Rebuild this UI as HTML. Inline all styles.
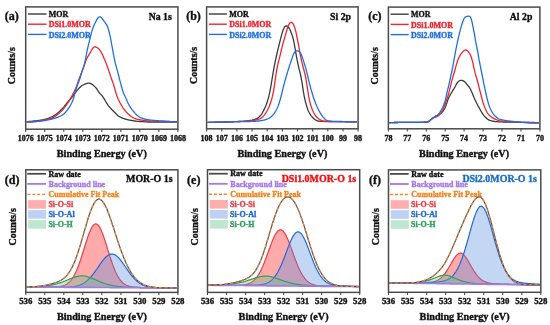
<!DOCTYPE html><html><head><meta charset="utf-8"><style>html,body{margin:0;padding:0;background:#fff;width:550px;height:325px;overflow:hidden}svg{display:block;will-change:transform}</style></head><body>
<svg width="550" height="325" viewBox="0 0 550 325" font-family='"Liberation Serif", serif' font-weight="bold">
<rect width="550" height="325" fill="#fff"/>
<style>text{stroke-width:0.36px}</style>
<line x1="25.7" y1="129.2" x2="25.7" y2="131.9" stroke="#4a4a4a" stroke-width="1.1"/>
<text x="25.7" y="140.7" font-size="8" fill="#111" stroke="#111" text-anchor="middle">1076</text>
<line x1="44.7" y1="129.2" x2="44.7" y2="131.9" stroke="#4a4a4a" stroke-width="1.1"/>
<text x="44.7" y="140.7" font-size="8" fill="#111" stroke="#111" text-anchor="middle">1075</text>
<line x1="63.8" y1="129.2" x2="63.8" y2="131.9" stroke="#4a4a4a" stroke-width="1.1"/>
<text x="63.8" y="140.7" font-size="8" fill="#111" stroke="#111" text-anchor="middle">1074</text>
<line x1="82.8" y1="129.2" x2="82.8" y2="131.9" stroke="#4a4a4a" stroke-width="1.1"/>
<text x="82.8" y="140.7" font-size="8" fill="#111" stroke="#111" text-anchor="middle">1073</text>
<line x1="101.8" y1="129.2" x2="101.8" y2="131.9" stroke="#4a4a4a" stroke-width="1.1"/>
<text x="101.8" y="140.7" font-size="8" fill="#111" stroke="#111" text-anchor="middle">1072</text>
<line x1="120.8" y1="129.2" x2="120.8" y2="131.9" stroke="#4a4a4a" stroke-width="1.1"/>
<text x="120.8" y="140.7" font-size="8" fill="#111" stroke="#111" text-anchor="middle">1071</text>
<line x1="139.8" y1="129.2" x2="139.8" y2="131.9" stroke="#4a4a4a" stroke-width="1.1"/>
<text x="139.8" y="140.7" font-size="8" fill="#111" stroke="#111" text-anchor="middle">1070</text>
<line x1="158.9" y1="129.2" x2="158.9" y2="131.9" stroke="#4a4a4a" stroke-width="1.1"/>
<text x="158.9" y="140.7" font-size="8" fill="#111" stroke="#111" text-anchor="middle">1069</text>
<line x1="177.9" y1="129.2" x2="177.9" y2="131.9" stroke="#4a4a4a" stroke-width="1.1"/>
<text x="177.9" y="140.7" font-size="8" fill="#111" stroke="#111" text-anchor="middle">1068</text>
<text x="101.8" y="156.8" font-size="10.2" fill="#111" stroke="#111" text-anchor="middle">Binding Energy (eV)</text>
<line x1="27.9" y1="14" x2="46.5" y2="14" stroke="#3a3a3a" stroke-width="1.4"/>
<text x="48.8" y="17.1" font-size="8" fill="#111" stroke="#111" text-anchor="start">MOR</text>
<line x1="27.9" y1="24.2" x2="46.5" y2="24.2" stroke="#ee2530" stroke-width="1.4"/>
<text x="48.8" y="27.3" font-size="8" fill="#ee2530" stroke="#ee2530" text-anchor="start">DSi1.0MOR</text>
<line x1="27.9" y1="34.4" x2="46.5" y2="34.4" stroke="#1f6fe6" stroke-width="1.4"/>
<text x="48.8" y="37.5" font-size="8" fill="#1f6fe6" stroke="#1f6fe6" text-anchor="start">DSi2.0MOR</text>
<line x1="206.6" y1="128.8" x2="206.6" y2="131.5" stroke="#4a4a4a" stroke-width="1.1"/>
<text x="206.6" y="140.7" font-size="8" fill="#111" stroke="#111" text-anchor="middle">108</text>
<line x1="221.8" y1="128.8" x2="221.8" y2="131.5" stroke="#4a4a4a" stroke-width="1.1"/>
<text x="221.8" y="140.7" font-size="8" fill="#111" stroke="#111" text-anchor="middle">107</text>
<line x1="236.9" y1="128.8" x2="236.9" y2="131.5" stroke="#4a4a4a" stroke-width="1.1"/>
<text x="236.9" y="140.7" font-size="8" fill="#111" stroke="#111" text-anchor="middle">106</text>
<line x1="252.1" y1="128.8" x2="252.1" y2="131.5" stroke="#4a4a4a" stroke-width="1.1"/>
<text x="252.1" y="140.7" font-size="8" fill="#111" stroke="#111" text-anchor="middle">105</text>
<line x1="267.2" y1="128.8" x2="267.2" y2="131.5" stroke="#4a4a4a" stroke-width="1.1"/>
<text x="267.2" y="140.7" font-size="8" fill="#111" stroke="#111" text-anchor="middle">104</text>
<line x1="282.4" y1="128.8" x2="282.4" y2="131.5" stroke="#4a4a4a" stroke-width="1.1"/>
<text x="282.4" y="140.7" font-size="8" fill="#111" stroke="#111" text-anchor="middle">103</text>
<line x1="297.5" y1="128.8" x2="297.5" y2="131.5" stroke="#4a4a4a" stroke-width="1.1"/>
<text x="297.5" y="140.7" font-size="8" fill="#111" stroke="#111" text-anchor="middle">102</text>
<line x1="312.7" y1="128.8" x2="312.7" y2="131.5" stroke="#4a4a4a" stroke-width="1.1"/>
<text x="312.7" y="140.7" font-size="8" fill="#111" stroke="#111" text-anchor="middle">101</text>
<line x1="327.8" y1="128.8" x2="327.8" y2="131.5" stroke="#4a4a4a" stroke-width="1.1"/>
<text x="327.8" y="140.7" font-size="8" fill="#111" stroke="#111" text-anchor="middle">100</text>
<line x1="343" y1="128.8" x2="343" y2="131.5" stroke="#4a4a4a" stroke-width="1.1"/>
<text x="343" y="140.7" font-size="8" fill="#111" stroke="#111" text-anchor="middle">99</text>
<line x1="358.1" y1="128.8" x2="358.1" y2="131.5" stroke="#4a4a4a" stroke-width="1.1"/>
<text x="358.1" y="140.7" font-size="8" fill="#111" stroke="#111" text-anchor="middle">98</text>
<text x="282.4" y="156.8" font-size="10.2" fill="#111" stroke="#111" text-anchor="middle">Binding Energy (eV)</text>
<line x1="208.8" y1="14" x2="226.9" y2="14" stroke="#3a3a3a" stroke-width="1.4"/>
<text x="229.2" y="17.1" font-size="8" fill="#111" stroke="#111" text-anchor="start">MOR</text>
<line x1="208.8" y1="24.2" x2="226.9" y2="24.2" stroke="#ee2530" stroke-width="1.4"/>
<text x="229.2" y="27.3" font-size="8" fill="#ee2530" stroke="#ee2530" text-anchor="start">DSi1.0MOR</text>
<line x1="208.8" y1="34.4" x2="226.9" y2="34.4" stroke="#1f6fe6" stroke-width="1.4"/>
<text x="229.2" y="37.5" font-size="8" fill="#1f6fe6" stroke="#1f6fe6" text-anchor="start">DSi2.0MOR</text>
<line x1="388.4" y1="128.8" x2="388.4" y2="131.5" stroke="#4a4a4a" stroke-width="1.1"/>
<text x="388.4" y="140.7" font-size="8" fill="#111" stroke="#111" text-anchor="middle">78</text>
<line x1="407.3" y1="128.8" x2="407.3" y2="131.5" stroke="#4a4a4a" stroke-width="1.1"/>
<text x="407.3" y="140.7" font-size="8" fill="#111" stroke="#111" text-anchor="middle">77</text>
<line x1="426.3" y1="128.8" x2="426.3" y2="131.5" stroke="#4a4a4a" stroke-width="1.1"/>
<text x="426.3" y="140.7" font-size="8" fill="#111" stroke="#111" text-anchor="middle">76</text>
<line x1="445.2" y1="128.8" x2="445.2" y2="131.5" stroke="#4a4a4a" stroke-width="1.1"/>
<text x="445.2" y="140.7" font-size="8" fill="#111" stroke="#111" text-anchor="middle">75</text>
<line x1="464.1" y1="128.8" x2="464.1" y2="131.5" stroke="#4a4a4a" stroke-width="1.1"/>
<text x="464.1" y="140.7" font-size="8" fill="#111" stroke="#111" text-anchor="middle">74</text>
<line x1="483.1" y1="128.8" x2="483.1" y2="131.5" stroke="#4a4a4a" stroke-width="1.1"/>
<text x="483.1" y="140.7" font-size="8" fill="#111" stroke="#111" text-anchor="middle">73</text>
<line x1="502" y1="128.8" x2="502" y2="131.5" stroke="#4a4a4a" stroke-width="1.1"/>
<text x="502" y="140.7" font-size="8" fill="#111" stroke="#111" text-anchor="middle">72</text>
<line x1="521" y1="128.8" x2="521" y2="131.5" stroke="#4a4a4a" stroke-width="1.1"/>
<text x="521" y="140.7" font-size="8" fill="#111" stroke="#111" text-anchor="middle">71</text>
<line x1="539.9" y1="128.8" x2="539.9" y2="131.5" stroke="#4a4a4a" stroke-width="1.1"/>
<text x="539.9" y="140.7" font-size="8" fill="#111" stroke="#111" text-anchor="middle">70</text>
<text x="464.1" y="156.8" font-size="10.2" fill="#111" stroke="#111" text-anchor="middle">Binding Energy (eV)</text>
<line x1="390.6" y1="14.2" x2="408.7" y2="14.2" stroke="#3a3a3a" stroke-width="1.4"/>
<text x="411" y="17.3" font-size="8" fill="#111" stroke="#111" text-anchor="start">MOR</text>
<line x1="390.6" y1="24.4" x2="408.7" y2="24.4" stroke="#ee2530" stroke-width="1.4"/>
<text x="411" y="27.5" font-size="8" fill="#ee2530" stroke="#ee2530" text-anchor="start">DSi1.0MOR</text>
<line x1="390.6" y1="34.6" x2="408.7" y2="34.6" stroke="#1f6fe6" stroke-width="1.4"/>
<text x="411" y="37.7" font-size="8" fill="#1f6fe6" stroke="#1f6fe6" text-anchor="start">DSi2.0MOR</text>
<line x1="25.8" y1="292.4" x2="25.8" y2="295.1" stroke="#4a4a4a" stroke-width="1.1"/>
<text x="25.8" y="303.8" font-size="8.8" fill="#111" stroke="#111" text-anchor="middle">536</text>
<line x1="44.8" y1="292.4" x2="44.8" y2="295.1" stroke="#4a4a4a" stroke-width="1.1"/>
<text x="44.8" y="303.8" font-size="8.8" fill="#111" stroke="#111" text-anchor="middle">535</text>
<line x1="63.8" y1="292.4" x2="63.8" y2="295.1" stroke="#4a4a4a" stroke-width="1.1"/>
<text x="63.8" y="303.8" font-size="8.8" fill="#111" stroke="#111" text-anchor="middle">534</text>
<line x1="82.8" y1="292.4" x2="82.8" y2="295.1" stroke="#4a4a4a" stroke-width="1.1"/>
<text x="82.8" y="303.8" font-size="8.8" fill="#111" stroke="#111" text-anchor="middle">533</text>
<line x1="101.8" y1="292.4" x2="101.8" y2="295.1" stroke="#4a4a4a" stroke-width="1.1"/>
<text x="101.8" y="303.8" font-size="8.8" fill="#111" stroke="#111" text-anchor="middle">532</text>
<line x1="120.9" y1="292.4" x2="120.9" y2="295.1" stroke="#4a4a4a" stroke-width="1.1"/>
<text x="120.9" y="303.8" font-size="8.8" fill="#111" stroke="#111" text-anchor="middle">531</text>
<line x1="139.9" y1="292.4" x2="139.9" y2="295.1" stroke="#4a4a4a" stroke-width="1.1"/>
<text x="139.9" y="303.8" font-size="8.8" fill="#111" stroke="#111" text-anchor="middle">530</text>
<line x1="158.9" y1="292.4" x2="158.9" y2="295.1" stroke="#4a4a4a" stroke-width="1.1"/>
<text x="158.9" y="303.8" font-size="8.8" fill="#111" stroke="#111" text-anchor="middle">529</text>
<line x1="177.9" y1="292.4" x2="177.9" y2="295.1" stroke="#4a4a4a" stroke-width="1.1"/>
<text x="177.9" y="303.8" font-size="8.8" fill="#111" stroke="#111" text-anchor="middle">528</text>
<text x="101.9" y="319.8" font-size="10.2" fill="#111" stroke="#111" text-anchor="middle">Binding Energy (eV)</text>
<line x1="27.3" y1="173.8" x2="46" y2="173.8" stroke="#4a4a4a" stroke-width="1.8"/>
<text x="48.6" y="176.5" font-size="8" fill="#111" stroke="#111" text-anchor="start">Raw date</text>
<line x1="27.3" y1="183.9" x2="46" y2="183.9" stroke="#a678e8" stroke-width="1.8"/>
<text x="48.6" y="186.6" font-size="8" fill="#a678e8" stroke="#a678e8" text-anchor="start">Background line</text>
<line x1="27.4" y1="194.4" x2="46" y2="194.4" stroke="#f2841e" stroke-width="1.4" stroke-dasharray="3 1.9"/>
<text x="48.6" y="196.7" font-size="8" fill="#f2841e" stroke="#f2841e" text-anchor="start">Cumulative Fit Peak</text>
<rect x="28.1" y="200.1" width="18" height="8.6" fill="#ffadad"/>
<text x="48.4" y="207.1" font-size="8" fill="#ee3b44" stroke="#ee3b44" text-anchor="start">Si-O-Si</text>
<rect x="28.1" y="210.1" width="18" height="8.6" fill="#bcd1f4"/>
<text x="48.4" y="217.2" font-size="8" fill="#1f6ad8" stroke="#1f6ad8" text-anchor="start">Si-O-Al</text>
<rect x="28.1" y="220.1" width="18" height="8.6" fill="#bfe6cf"/>
<text x="48.4" y="227.2" font-size="8" fill="#2fa35e" stroke="#2fa35e" text-anchor="start">Si-O-H</text>
<line x1="207.5" y1="292.4" x2="207.5" y2="295.1" stroke="#4a4a4a" stroke-width="1.1"/>
<text x="207.5" y="303.8" font-size="8.8" fill="#111" stroke="#111" text-anchor="middle">536</text>
<line x1="226.5" y1="292.4" x2="226.5" y2="295.1" stroke="#4a4a4a" stroke-width="1.1"/>
<text x="226.5" y="303.8" font-size="8.8" fill="#111" stroke="#111" text-anchor="middle">535</text>
<line x1="245.6" y1="292.4" x2="245.6" y2="295.1" stroke="#4a4a4a" stroke-width="1.1"/>
<text x="245.6" y="303.8" font-size="8.8" fill="#111" stroke="#111" text-anchor="middle">534</text>
<line x1="264.6" y1="292.4" x2="264.6" y2="295.1" stroke="#4a4a4a" stroke-width="1.1"/>
<text x="264.6" y="303.8" font-size="8.8" fill="#111" stroke="#111" text-anchor="middle">533</text>
<line x1="283.6" y1="292.4" x2="283.6" y2="295.1" stroke="#4a4a4a" stroke-width="1.1"/>
<text x="283.6" y="303.8" font-size="8.8" fill="#111" stroke="#111" text-anchor="middle">532</text>
<line x1="302.6" y1="292.4" x2="302.6" y2="295.1" stroke="#4a4a4a" stroke-width="1.1"/>
<text x="302.6" y="303.8" font-size="8.8" fill="#111" stroke="#111" text-anchor="middle">531</text>
<line x1="321.6" y1="292.4" x2="321.6" y2="295.1" stroke="#4a4a4a" stroke-width="1.1"/>
<text x="321.6" y="303.8" font-size="8.8" fill="#111" stroke="#111" text-anchor="middle">530</text>
<line x1="340.7" y1="292.4" x2="340.7" y2="295.1" stroke="#4a4a4a" stroke-width="1.1"/>
<text x="340.7" y="303.8" font-size="8.8" fill="#111" stroke="#111" text-anchor="middle">529</text>
<line x1="359.7" y1="292.4" x2="359.7" y2="295.1" stroke="#4a4a4a" stroke-width="1.1"/>
<text x="359.7" y="303.8" font-size="8.8" fill="#111" stroke="#111" text-anchor="middle">528</text>
<text x="283.6" y="319.8" font-size="10.2" fill="#111" stroke="#111" text-anchor="middle">Binding Energy (eV)</text>
<line x1="209" y1="173.7" x2="227.7" y2="173.7" stroke="#4a4a4a" stroke-width="1.8"/>
<text x="230.3" y="176.4" font-size="8" fill="#111" stroke="#111" text-anchor="start">Raw date</text>
<line x1="209" y1="183.8" x2="227.7" y2="183.8" stroke="#a678e8" stroke-width="1.8"/>
<text x="230.3" y="186.5" font-size="8" fill="#a678e8" stroke="#a678e8" text-anchor="start">Background line</text>
<line x1="209.1" y1="194.3" x2="227.7" y2="194.3" stroke="#f2841e" stroke-width="1.4" stroke-dasharray="3 1.9"/>
<text x="230.3" y="196.6" font-size="8" fill="#f2841e" stroke="#f2841e" text-anchor="start">Cumulative Fit Peak</text>
<rect x="209.8" y="200" width="18" height="8.6" fill="#ffadad"/>
<text x="230.1" y="207" font-size="8" fill="#ee3b44" stroke="#ee3b44" text-anchor="start">Si-O-Si</text>
<rect x="209.8" y="210" width="18" height="8.6" fill="#bcd1f4"/>
<text x="230.1" y="217.1" font-size="8" fill="#1f6ad8" stroke="#1f6ad8" text-anchor="start">Si-O-Al</text>
<rect x="209.8" y="220" width="18" height="8.6" fill="#bfe6cf"/>
<text x="230.1" y="227.1" font-size="8" fill="#2fa35e" stroke="#2fa35e" text-anchor="start">Si-O-H</text>
<line x1="388.5" y1="292.3" x2="388.5" y2="295" stroke="#4a4a4a" stroke-width="1.1"/>
<text x="388.5" y="303.8" font-size="8.8" fill="#111" stroke="#111" text-anchor="middle">536</text>
<line x1="407.5" y1="292.3" x2="407.5" y2="295" stroke="#4a4a4a" stroke-width="1.1"/>
<text x="407.5" y="303.8" font-size="8.8" fill="#111" stroke="#111" text-anchor="middle">535</text>
<line x1="426.6" y1="292.3" x2="426.6" y2="295" stroke="#4a4a4a" stroke-width="1.1"/>
<text x="426.6" y="303.8" font-size="8.8" fill="#111" stroke="#111" text-anchor="middle">534</text>
<line x1="445.6" y1="292.3" x2="445.6" y2="295" stroke="#4a4a4a" stroke-width="1.1"/>
<text x="445.6" y="303.8" font-size="8.8" fill="#111" stroke="#111" text-anchor="middle">533</text>
<line x1="464.6" y1="292.3" x2="464.6" y2="295" stroke="#4a4a4a" stroke-width="1.1"/>
<text x="464.6" y="303.8" font-size="8.8" fill="#111" stroke="#111" text-anchor="middle">532</text>
<line x1="483.7" y1="292.3" x2="483.7" y2="295" stroke="#4a4a4a" stroke-width="1.1"/>
<text x="483.7" y="303.8" font-size="8.8" fill="#111" stroke="#111" text-anchor="middle">531</text>
<line x1="502.7" y1="292.3" x2="502.7" y2="295" stroke="#4a4a4a" stroke-width="1.1"/>
<text x="502.7" y="303.8" font-size="8.8" fill="#111" stroke="#111" text-anchor="middle">530</text>
<line x1="521.8" y1="292.3" x2="521.8" y2="295" stroke="#4a4a4a" stroke-width="1.1"/>
<text x="521.8" y="303.8" font-size="8.8" fill="#111" stroke="#111" text-anchor="middle">529</text>
<line x1="540.8" y1="292.3" x2="540.8" y2="295" stroke="#4a4a4a" stroke-width="1.1"/>
<text x="540.8" y="303.8" font-size="8.8" fill="#111" stroke="#111" text-anchor="middle">528</text>
<text x="464.6" y="319.8" font-size="10.2" fill="#111" stroke="#111" text-anchor="middle">Binding Energy (eV)</text>
<line x1="390" y1="173.9" x2="408.7" y2="173.9" stroke="#4a4a4a" stroke-width="1.8"/>
<text x="411.3" y="176.6" font-size="8" fill="#111" stroke="#111" text-anchor="start">Raw date</text>
<line x1="390" y1="184" x2="408.7" y2="184" stroke="#a678e8" stroke-width="1.8"/>
<text x="411.3" y="186.7" font-size="8" fill="#a678e8" stroke="#a678e8" text-anchor="start">Background line</text>
<line x1="390.1" y1="194.5" x2="408.7" y2="194.5" stroke="#f2841e" stroke-width="1.4" stroke-dasharray="3 1.9"/>
<text x="411.3" y="196.8" font-size="8" fill="#f2841e" stroke="#f2841e" text-anchor="start">Cumulative Fit Peak</text>
<rect x="390.8" y="200.2" width="18" height="8.6" fill="#ffadad"/>
<text x="411.1" y="207.2" font-size="8" fill="#ee3b44" stroke="#ee3b44" text-anchor="start">Si-O-Si</text>
<rect x="390.8" y="210.2" width="18" height="8.6" fill="#bcd1f4"/>
<text x="411.1" y="217.2" font-size="8" fill="#1f6ad8" stroke="#1f6ad8" text-anchor="start">Si-O-Al</text>
<rect x="390.8" y="220.2" width="18" height="8.6" fill="#bfe6cf"/>
<text x="411.1" y="227.3" font-size="8" fill="#2fa35e" stroke="#2fa35e" text-anchor="start">Si-O-H</text>
<clipPath id="ca"><rect x="26.4" y="7.6" width="150.8" height="120.9"/></clipPath>
<path d="M26.5,121.8 L27,121.7 L27.5,121.7 L28,121.6 L28.5,121.6 L29,121.5 L29.5,121.5 L30,121.4 L30.5,121.4 L31,121.3 L31.5,121.3 L32,121.2 L32.5,121.2 L33,121.1 L33.5,121.1 L34,121 L34.5,121 L35,120.9 L35.5,120.9 L36,120.8 L36.5,120.8 L37,120.7 L37.5,120.7 L38,120.6 L38.5,120.5 L39,120.5 L39.5,120.4 L40,120.3 L40.5,120.2 L41,120.2 L41.5,120.1 L42,120 L42.5,119.9 L43,119.8 L43.5,119.7 L44,119.6 L44.5,119.4 L45,119.3 L45.5,119.2 L46,119.1 L46.5,118.9 L47,118.8 L47.5,118.6 L48,118.4 L48.5,118.3 L49,118.1 L49.5,117.9 L50,117.7 L50.5,117.5 L51,117.2 L51.5,117 L52,116.7 L52.5,116.5 L53,116.2 L53.5,115.9 L54,115.6 L54.5,115.3 L55,115 L55.5,114.7 L56,114.3 L56.5,114 L57,113.6 L57.5,113.2 L58,112.8 L58.5,112.4 L59,111.9 L59.5,111.5 L60,111 L60.5,110.5 L61,110 L61.5,109.5 L62,109 L62.5,108.5 L63,107.9 L63.5,107.4 L64,106.8 L64.5,106.2 L65,105.5 L65.5,104.9 L66,104.2 L66.5,103.6 L67,102.9 L67.5,102.3 L68,101.7 L68.5,101.1 L69,100.6 L69.5,100.1 L70,99.5 L70.5,99 L71,98.4 L71.5,97.8 L72,97.2 L72.5,96.5 L73,95.8 L73.5,95.1 L74,94.4 L74.5,93.7 L75,93 L75.5,92.4 L76,91.8 L76.5,91.1 L77,90.5 L77.5,90 L78,89.4 L78.5,88.8 L79,88.3 L79.5,87.7 L80,87.2 L80.5,86.7 L81,86.3 L81.5,85.9 L82,85.6 L82.5,85.3 L83,85 L83.5,84.8 L84,84.5 L84.5,84.3 L85,84.1 L85.5,83.9 L86,83.7 L86.5,83.6 L87,83.4 L87.5,83.3 L88,83.2 L88.5,83.2 L89,83.2 L89.5,83.3 L90,83.4 L90.5,83.5 L91,83.7 L91.5,83.9 L92,84.2 L92.5,84.6 L93,85 L93.5,85.4 L94,85.9 L94.5,86.4 L95,86.9 L95.5,87.4 L96,87.9 L96.5,88.5 L97,89.2 L97.5,90 L98,90.8 L98.5,91.6 L99,92.3 L99.5,93 L100,93.5 L100.5,94.1 L101,94.6 L101.5,95.1 L102,95.7 L102.5,96.4 L103,97.1 L103.5,97.8 L104,98.6 L104.5,99.4 L105,100.3 L105.5,101.1 L106,102 L106.5,102.8 L107,103.6 L107.5,104.4 L108,105.1 L108.5,105.8 L109,106.4 L109.5,107 L110,107.6 L110.5,108.2 L111,108.7 L111.5,109.2 L112,109.7 L112.5,110.2 L113,110.7 L113.5,111.2 L114,111.7 L114.5,112.2 L115,112.7 L115.5,113.2 L116,113.7 L116.5,114.3 L117,114.8 L117.5,115.2 L118,115.7 L118.5,116 L119,116.4 L119.5,116.7 L120,117 L120.5,117.2 L121,117.4 L121.5,117.7 L122,117.9 L122.5,118.1 L123,118.3 L123.5,118.5 L124,118.6 L124.5,118.8 L125,119 L125.5,119.1 L126,119.3 L126.5,119.4 L127,119.5 L127.5,119.7 L128,119.8 L128.5,119.9 L129,120 L129.5,120.1 L130,120.2 L130.5,120.3 L131,120.4 L131.5,120.5 L132,120.6 L132.5,120.7 L133,120.7 L133.5,120.8 L134,120.9 L134.5,121 L135,121 L135.5,121.1 L136,121.2 L136.5,121.2 L137,121.3 L137.5,121.3 L138,121.4 L138.5,121.4 L139,121.4 L139.5,121.5 L140,121.5 L140.5,121.5 L141,121.6 L141.5,121.6 L142,121.6 L142.5,121.7 L143,121.7 L143.5,121.7 L144,121.8 L144.5,121.8 L145,121.8 L145.5,121.9 L146,121.9 L146.5,121.9 L147,121.9 L147.5,122 L148,122 L148.5,122 L149,122 L149.5,122 L150,122 L150.5,122.1 L151,122.1 L151.5,122.1 L152,122.1 L152.5,122.1 L153,122.1 L153.5,122.1 L154,122.1 L154.5,122.1 L155,122.1 L155.5,122.1 L156,122.1 L156.5,122.1 L157,122.1 L157.5,122.1 L158,122.1 L158.5,122.1 L159,122.1 L159.5,122.1 L160,122.1 L160.5,122.1 L161,122.1 L161.5,122.1 L162,122.1 L162.5,122.1 L163,122.1 L163.5,122.1 L164,122.1 L164.5,122.1 L165,122.1 L165.5,122.1 L166,122.1 L166.5,122.1 L167,122.1 L167.5,122.1 L168,122.1 L168.5,122.1 L169,122.1 L169.5,122.1 L170,122.1 L170.5,122.1 L171,122.1 L171.5,122.1 L172,122.1 L172.5,122.1 L173,122 L173.5,122 L174,122 L174.5,122 L175,122 L175.5,122 L176,122 L176.5,122 L177,122" fill="none" stroke="#3a3a3a" stroke-width="1.3" stroke-linejoin="round" clip-path="url(#ca)"/>
<path d="M26.5,122 L27,122 L27.5,122.1 L28,122.1 L28.5,122.1 L29,122.1 L29.5,122.1 L30,122.1 L30.5,122.1 L31,122.1 L31.5,122.1 L32,122 L32.5,122 L33,121.9 L33.5,121.9 L34,121.8 L34.5,121.7 L35,121.7 L35.5,121.6 L36,121.5 L36.5,121.4 L37,121.3 L37.5,121.2 L38,121.1 L38.5,121 L39,120.9 L39.5,120.8 L40,120.8 L40.5,120.7 L41,120.6 L41.5,120.5 L42,120.4 L42.5,120.3 L43,120.2 L43.5,120.1 L44,120 L44.5,119.9 L45,119.8 L45.5,119.7 L46,119.6 L46.5,119.5 L47,119.4 L47.5,119.2 L48,119.1 L48.5,119 L49,118.9 L49.5,118.7 L50,118.6 L50.5,118.4 L51,118.2 L51.5,118.1 L52,117.9 L52.5,117.7 L53,117.5 L53.5,117.3 L54,117 L54.5,116.7 L55,116.4 L55.5,116.1 L56,115.7 L56.5,115.4 L57,115 L57.5,114.6 L58,114.2 L58.5,113.8 L59,113.3 L59.5,112.9 L60,112.4 L60.5,111.9 L61,111.5 L61.5,111 L62,110.5 L62.5,109.9 L63,109.4 L63.5,108.8 L64,108.2 L64.5,107.6 L65,106.9 L65.5,106.2 L66,105.6 L66.5,104.9 L67,104.1 L67.5,103.4 L68,102.7 L68.5,101.9 L69,101.1 L69.5,100.2 L70,99.4 L70.5,98.5 L71,97.6 L71.5,96.7 L72,95.8 L72.5,94.9 L73,93.9 L73.5,93 L74,92 L74.5,90.9 L75,89.9 L75.5,88.7 L76,87.5 L76.5,86.3 L77,84.9 L77.5,83.5 L78,82 L78.5,80.6 L79,79.2 L79.5,77.8 L80,76.5 L80.5,75.3 L81,74 L81.5,72.8 L82,71.5 L82.5,70.3 L83,69 L83.5,67.7 L84,66.2 L84.5,64.7 L85,63.2 L85.5,61.7 L86,60.3 L86.5,59 L87,58 L87.5,57.1 L88,56.3 L88.5,55.5 L89,54.7 L89.5,53.8 L90,52.9 L90.5,52.1 L91,51.2 L91.5,50.3 L92,49.5 L92.5,48.7 L93,48 L93.5,47.5 L94,47.1 L94.5,46.9 L95,46.9 L95.5,46.9 L96,47.1 L96.5,47.3 L97,47.6 L97.5,47.9 L98,48.3 L98.5,48.7 L99,49.1 L99.5,49.7 L100,50.3 L100.5,51 L101,51.8 L101.5,52.8 L102,53.8 L102.5,54.8 L103,55.9 L103.5,57 L104,58.2 L104.5,59.3 L105,60.5 L105.5,61.7 L106,62.9 L106.5,64.3 L107,65.6 L107.5,67 L108,68.5 L108.5,69.9 L109,71.4 L109.5,72.9 L110,74.4 L110.5,75.9 L111,77.4 L111.5,78.8 L112,80.2 L112.5,81.6 L113,82.9 L113.5,84.4 L114,86 L114.5,87.7 L115,89.6 L115.5,91.4 L116,93.2 L116.5,94.8 L117,96.2 L117.5,97.4 L118,98.6 L118.5,99.7 L119,100.7 L119.5,101.7 L120,102.7 L120.5,103.6 L121,104.5 L121.5,105.4 L122,106.2 L122.5,107 L123,107.8 L123.5,108.5 L124,109.2 L124.5,109.9 L125,110.5 L125.5,111.1 L126,111.7 L126.5,112.2 L127,112.7 L127.5,113.2 L128,113.7 L128.5,114.2 L129,114.6 L129.5,115.1 L130,115.5 L130.5,115.9 L131,116.3 L131.5,116.7 L132,117 L132.5,117.3 L133,117.6 L133.5,117.8 L134,118.1 L134.5,118.3 L135,118.5 L135.5,118.6 L136,118.8 L136.5,119 L137,119.1 L137.5,119.3 L138,119.4 L138.5,119.5 L139,119.6 L139.5,119.7 L140,119.8 L140.5,119.9 L141,120 L141.5,120.1 L142,120.1 L142.5,120.2 L143,120.3 L143.5,120.4 L144,120.4 L144.5,120.5 L145,120.5 L145.5,120.6 L146,120.7 L146.5,120.7 L147,120.8 L147.5,120.8 L148,120.9 L148.5,120.9 L149,121 L149.5,121 L150,121 L150.5,121.1 L151,121.1 L151.5,121.1 L152,121.2 L152.5,121.2 L153,121.2 L153.5,121.2 L154,121.3 L154.5,121.3 L155,121.3 L155.5,121.3 L156,121.3 L156.5,121.3 L157,121.3 L157.5,121.4 L158,121.4 L158.5,121.4 L159,121.4 L159.5,121.4 L160,121.4 L160.5,121.4 L161,121.4 L161.5,121.4 L162,121.5 L162.5,121.5 L163,121.5 L163.5,121.5 L164,121.5 L164.5,121.5 L165,121.5 L165.5,121.5 L166,121.5 L166.5,121.5 L167,121.5 L167.5,121.5 L168,121.5 L168.5,121.5 L169,121.6 L169.5,121.6 L170,121.6 L170.5,121.6 L171,121.6 L171.5,121.6 L172,121.6 L172.5,121.6 L173,121.6 L173.5,121.6 L174,121.6 L174.5,121.6 L175,121.6 L175.5,121.6 L176,121.6 L176.5,121.6 L177,121.6" fill="none" stroke="#ee2530" stroke-width="1.3" stroke-linejoin="round" clip-path="url(#ca)"/>
<path d="M26.5,121.8 L27,121.8 L27.5,121.8 L28,121.8 L28.5,121.8 L29,121.8 L29.5,121.8 L30,121.7 L30.5,121.7 L31,121.7 L31.5,121.7 L32,121.7 L32.5,121.7 L33,121.6 L33.5,121.6 L34,121.6 L34.5,121.6 L35,121.5 L35.5,121.5 L36,121.5 L36.5,121.5 L37,121.4 L37.5,121.4 L38,121.4 L38.5,121.3 L39,121.3 L39.5,121.3 L40,121.2 L40.5,121.2 L41,121.1 L41.5,121 L42,121 L42.5,120.9 L43,120.8 L43.5,120.7 L44,120.7 L44.5,120.6 L45,120.5 L45.5,120.4 L46,120.3 L46.5,120.2 L47,120.1 L47.5,120 L48,119.9 L48.5,119.8 L49,119.7 L49.5,119.6 L50,119.5 L50.5,119.4 L51,119.3 L51.5,119.1 L52,119 L52.5,118.9 L53,118.7 L53.5,118.6 L54,118.4 L54.5,118.3 L55,118.1 L55.5,118 L56,117.8 L56.5,117.6 L57,117.4 L57.5,117.3 L58,117.1 L58.5,116.9 L59,116.7 L59.5,116.5 L60,116.3 L60.5,116 L61,115.8 L61.5,115.5 L62,115.2 L62.5,114.9 L63,114.6 L63.5,114.2 L64,113.8 L64.5,113.3 L65,112.8 L65.5,112.3 L66,111.7 L66.5,111.1 L67,110.5 L67.5,109.9 L68,109.2 L68.5,108.5 L69,107.7 L69.5,106.9 L70,106.1 L70.5,105.2 L71,104.3 L71.5,103.3 L72,102.2 L72.5,101 L73,99.7 L73.5,98.2 L74,96.6 L74.5,94.8 L75,93 L75.5,91.2 L76,89.4 L76.5,87.7 L77,86.2 L77.5,84.9 L78,83.6 L78.5,82.4 L79,81.1 L79.5,79.7 L80,78.2 L80.5,76.5 L81,74.7 L81.5,72.9 L82,71.2 L82.5,69.7 L83,68.3 L83.5,66.9 L84,65.4 L84.5,63.7 L85,61.6 L85.5,59.3 L86,56.7 L86.5,54 L87,51.4 L87.5,49 L88,46.8 L88.5,44.7 L89,42.6 L89.5,40.6 L90,38.5 L90.5,36.4 L91,34.5 L91.5,32.6 L92,30.9 L92.5,29.3 L93,27.9 L93.5,26.6 L94,25.4 L94.5,24.2 L95,23.2 L95.5,22.2 L96,21.2 L96.5,20.3 L97,19.4 L97.5,18.7 L98,18 L98.5,17.5 L99,17.1 L99.5,16.9 L100,16.8 L100.5,16.9 L101,17.2 L101.5,17.7 L102,18.3 L102.5,19 L103,19.7 L103.5,20.4 L104,21.1 L104.5,21.8 L105,22.4 L105.5,23.1 L106,23.8 L106.5,24.6 L107,25.6 L107.5,26.8 L108,28.1 L108.5,29.7 L109,31.4 L109.5,33.4 L110,35.6 L110.5,38.1 L111,40.7 L111.5,43.5 L112,46.2 L112.5,48.9 L113,51.7 L113.5,54.4 L114,57 L114.5,59.5 L115,61.9 L115.5,64 L116,65.9 L116.5,67.7 L117,69.4 L117.5,71.2 L118,73.2 L118.5,75.2 L119,77.2 L119.5,79.2 L120,81.1 L120.5,82.9 L121,84.7 L121.5,86.5 L122,88.3 L122.5,90 L123,91.6 L123.5,93 L124,94.2 L124.5,95.2 L125,96.3 L125.5,97.3 L126,98.5 L126.5,99.6 L127,100.8 L127.5,102 L128,103 L128.5,104 L129,104.9 L129.5,105.8 L130,106.6 L130.5,107.4 L131,108.1 L131.5,108.9 L132,109.6 L132.5,110.2 L133,110.8 L133.5,111.4 L134,112 L134.5,112.6 L135,113.1 L135.5,113.7 L136,114.2 L136.5,114.7 L137,115.2 L137.5,115.6 L138,116 L138.5,116.4 L139,116.8 L139.5,117.1 L140,117.4 L140.5,117.6 L141,117.8 L141.5,118 L142,118.2 L142.5,118.4 L143,118.6 L143.5,118.7 L144,118.9 L144.5,119 L145,119.1 L145.5,119.2 L146,119.4 L146.5,119.5 L147,119.6 L147.5,119.6 L148,119.7 L148.5,119.8 L149,119.9 L149.5,119.9 L150,120 L150.5,120.1 L151,120.1 L151.5,120.2 L152,120.2 L152.5,120.3 L153,120.3 L153.5,120.4 L154,120.4 L154.5,120.4 L155,120.5 L155.5,120.5 L156,120.6 L156.5,120.6 L157,120.6 L157.5,120.7 L158,120.7 L158.5,120.7 L159,120.8 L159.5,120.8 L160,120.8 L160.5,120.9 L161,120.9 L161.5,120.9 L162,121 L162.5,121 L163,121 L163.5,121.1 L164,121.1 L164.5,121.2 L165,121.2 L165.5,121.2 L166,121.3 L166.5,121.3 L167,121.3 L167.5,121.4 L168,121.4 L168.5,121.4 L169,121.5 L169.5,121.5 L170,121.5 L170.5,121.6 L171,121.6 L171.5,121.6 L172,121.7 L172.5,121.7 L173,121.7 L173.5,121.8 L174,121.8 L174.5,121.8 L175,121.9 L175.5,121.9 L176,121.9 L176.5,121.9 L177,122" fill="none" stroke="#1f6fe6" stroke-width="1.3" stroke-linejoin="round" clip-path="url(#ca)"/>
<clipPath id="cb"><rect x="207.3" y="7.6" width="150.1" height="120.5"/></clipPath>
<path d="M207.4,122.3 L207.9,122.3 L208.4,122.3 L208.9,122.3 L209.4,122.3 L209.9,122.3 L210.4,122.3 L210.9,122.3 L211.4,122.3 L211.9,122.3 L212.4,122.3 L212.9,122.3 L213.4,122.3 L213.9,122.3 L214.4,122.3 L214.9,122.2 L215.4,122.2 L215.9,122.2 L216.4,122.2 L216.9,122.2 L217.4,122.2 L217.9,122.2 L218.4,122.2 L218.9,122.2 L219.4,122.2 L219.9,122.2 L220.4,122.2 L220.9,122.1 L221.4,122.1 L221.9,122.1 L222.4,122.1 L222.9,122.1 L223.4,122.1 L223.9,122.1 L224.4,122.1 L224.9,122 L225.4,122 L225.9,122 L226.4,122 L226.9,122 L227.4,122 L227.9,122 L228.4,121.9 L228.9,121.9 L229.4,121.9 L229.9,121.9 L230.4,121.9 L230.9,121.9 L231.4,121.8 L231.9,121.8 L232.4,121.8 L232.9,121.8 L233.4,121.8 L233.9,121.7 L234.4,121.7 L234.9,121.7 L235.4,121.7 L235.9,121.7 L236.4,121.6 L236.9,121.6 L237.4,121.6 L237.9,121.6 L238.4,121.5 L238.9,121.5 L239.4,121.5 L239.9,121.5 L240.4,121.5 L240.9,121.4 L241.4,121.4 L241.9,121.4 L242.4,121.4 L242.9,121.3 L243.4,121.3 L243.9,121.3 L244.4,121.2 L244.9,121.2 L245.4,121.1 L245.9,121.1 L246.4,121 L246.9,121 L247.4,120.9 L247.9,120.9 L248.4,120.8 L248.9,120.7 L249.4,120.6 L249.9,120.5 L250.4,120.4 L250.9,120.4 L251.4,120.3 L251.9,120.2 L252.4,120 L252.9,119.9 L253.4,119.8 L253.9,119.7 L254.4,119.5 L254.9,119.3 L255.4,119.2 L255.9,118.9 L256.4,118.7 L256.9,118.5 L257.4,118.2 L257.9,117.9 L258.4,117.6 L258.9,117.2 L259.4,116.8 L259.9,116.3 L260.4,115.7 L260.9,115.1 L261.4,114.3 L261.9,113.6 L262.4,112.7 L262.9,111.8 L263.4,110.9 L263.9,109.9 L264.4,108.9 L264.9,107.8 L265.4,106.7 L265.9,105.5 L266.4,104.2 L266.9,102.8 L267.4,101.3 L267.9,99.6 L268.4,97.8 L268.9,95.9 L269.4,93.8 L269.9,91.4 L270.4,88.9 L270.9,86.2 L271.4,83.2 L271.9,80.1 L272.4,77 L272.9,73.9 L273.4,71 L273.9,68.2 L274.4,65.5 L274.9,63 L275.4,60.6 L275.9,58.3 L276.4,56 L276.9,53.8 L277.4,51.7 L277.9,49.6 L278.4,47.6 L278.9,45.6 L279.4,43.6 L279.9,41.6 L280.4,39.6 L280.9,37.6 L281.4,35.6 L281.9,33.8 L282.4,32.1 L282.9,30.6 L283.4,29.3 L283.9,28.2 L284.4,27.4 L284.9,26.7 L285.4,26.2 L285.9,26 L286.4,25.9 L286.9,26 L287.4,26.2 L287.9,26.6 L288.4,27.1 L288.9,27.8 L289.4,28.6 L289.9,29.5 L290.4,30.6 L290.9,31.9 L291.4,33.2 L291.9,34.6 L292.4,36.1 L292.9,37.8 L293.4,39.7 L293.9,42 L294.4,44.6 L294.9,47.4 L295.4,50.4 L295.9,53.3 L296.4,56.2 L296.9,58.9 L297.4,61.4 L297.9,63.7 L298.4,66 L298.9,68.1 L299.4,70.1 L299.9,72.1 L300.4,74.2 L300.9,76.5 L301.4,79 L301.9,81.9 L302.4,85.1 L302.9,88.4 L303.4,91.6 L303.9,94.5 L304.4,97.1 L304.9,99.4 L305.4,101.5 L305.9,103.4 L306.4,105.2 L306.9,106.8 L307.4,108.3 L307.9,109.7 L308.4,110.9 L308.9,112 L309.4,113 L309.9,113.8 L310.4,114.7 L310.9,115.4 L311.4,116.1 L311.9,116.7 L312.4,117.3 L312.9,117.8 L313.4,118.3 L313.9,118.7 L314.4,119.1 L314.9,119.4 L315.4,119.8 L315.9,120.1 L316.4,120.3 L316.9,120.6 L317.4,120.8 L317.9,120.9 L318.4,121.1 L318.9,121.2 L319.4,121.2 L319.9,121.3 L320.4,121.3 L320.9,121.3 L321.4,121.3 L321.9,121.4 L322.4,121.4 L322.9,121.4 L323.4,121.4 L323.9,121.4 L324.4,121.5 L324.9,121.5 L325.4,121.5 L325.9,121.5 L326.4,121.5 L326.9,121.5 L327.4,121.5 L327.9,121.5 L328.4,121.6 L328.9,121.6 L329.4,121.6 L329.9,121.6 L330.4,121.6 L330.9,121.6 L331.4,121.6 L331.9,121.6 L332.4,121.6 L332.9,121.6 L333.4,121.6 L333.9,121.6 L334.4,121.6 L334.9,121.6 L335.4,121.6 L335.9,121.7 L336.4,121.7 L336.9,121.7 L337.4,121.7 L337.9,121.7 L338.4,121.7 L338.9,121.7 L339.4,121.7 L339.9,121.7 L340.4,121.7 L340.9,121.7 L341.4,121.7 L341.9,121.7 L342.4,121.7 L342.9,121.7 L343.4,121.7 L343.9,121.7 L344.4,121.7 L344.9,121.7 L345.4,121.8 L345.9,121.8 L346.4,121.8 L346.9,121.8 L347.4,121.8 L347.9,121.8 L348.4,121.8 L348.9,121.8 L349.4,121.8 L349.9,121.8 L350.4,121.8 L350.9,121.8 L351.4,121.8 L351.9,121.8 L352.4,121.8 L352.9,121.8 L353.4,121.8 L353.9,121.8 L354.4,121.8 L354.9,121.8 L355.4,121.8 L355.9,121.8 L356.4,121.8 L356.9,121.8" fill="none" stroke="#3a3a3a" stroke-width="1.3" stroke-linejoin="round" clip-path="url(#cb)"/>
<path d="M207.4,122.3 L207.9,122.3 L208.4,122.3 L208.9,122.3 L209.4,122.3 L209.9,122.3 L210.4,122.3 L210.9,122.3 L211.4,122.3 L211.9,122.3 L212.4,122.3 L212.9,122.3 L213.4,122.3 L213.9,122.3 L214.4,122.3 L214.9,122.3 L215.4,122.2 L215.9,122.2 L216.4,122.2 L216.9,122.2 L217.4,122.2 L217.9,122.2 L218.4,122.2 L218.9,122.2 L219.4,122.2 L219.9,122.2 L220.4,122.2 L220.9,122.2 L221.4,122.1 L221.9,122.1 L222.4,122.1 L222.9,122.1 L223.4,122.1 L223.9,122.1 L224.4,122.1 L224.9,122.1 L225.4,122 L225.9,122 L226.4,122 L226.9,122 L227.4,122 L227.9,122 L228.4,122 L228.9,121.9 L229.4,121.9 L229.9,121.9 L230.4,121.9 L230.9,121.9 L231.4,121.8 L231.9,121.8 L232.4,121.8 L232.9,121.8 L233.4,121.8 L233.9,121.7 L234.4,121.7 L234.9,121.7 L235.4,121.7 L235.9,121.6 L236.4,121.6 L236.9,121.6 L237.4,121.6 L237.9,121.5 L238.4,121.5 L238.9,121.5 L239.4,121.5 L239.9,121.4 L240.4,121.4 L240.9,121.4 L241.4,121.4 L241.9,121.3 L242.4,121.3 L242.9,121.3 L243.4,121.2 L243.9,121.2 L244.4,121.2 L244.9,121.1 L245.4,121.1 L245.9,121.1 L246.4,121 L246.9,121 L247.4,121 L247.9,120.9 L248.4,120.9 L248.9,120.9 L249.4,120.8 L249.9,120.8 L250.4,120.7 L250.9,120.7 L251.4,120.7 L251.9,120.6 L252.4,120.6 L252.9,120.5 L253.4,120.5 L253.9,120.4 L254.4,120.4 L254.9,120.3 L255.4,120.2 L255.9,120.1 L256.4,120 L256.9,119.8 L257.4,119.7 L257.9,119.5 L258.4,119.4 L258.9,119.2 L259.4,119 L259.9,118.8 L260.4,118.5 L260.9,118.3 L261.4,117.9 L261.9,117.6 L262.4,117.2 L262.9,116.7 L263.4,116.1 L263.9,115.6 L264.4,114.9 L264.9,114.3 L265.4,113.5 L265.9,112.8 L266.4,112 L266.9,111.2 L267.4,110.3 L267.9,109.3 L268.4,108.2 L268.9,107.1 L269.4,105.9 L269.9,104.6 L270.4,103.2 L270.9,101.7 L271.4,100.1 L271.9,98.3 L272.4,96.4 L272.9,94.2 L273.4,91.8 L273.9,88.9 L274.4,85.7 L274.9,82.2 L275.4,78.6 L275.9,75 L276.4,71.7 L276.9,68.8 L277.4,66.3 L277.9,64.1 L278.4,62 L278.9,60.1 L279.4,58.2 L279.9,56.2 L280.4,54.1 L280.9,52 L281.4,49.9 L281.9,47.8 L282.4,45.8 L282.9,43.9 L283.4,42 L283.9,40.3 L284.4,38.6 L284.9,36.8 L285.4,35.1 L285.9,33.4 L286.4,31.6 L286.9,29.9 L287.4,28.3 L287.9,26.8 L288.4,25.5 L288.9,24.4 L289.4,23.6 L289.9,22.9 L290.4,22.5 L290.9,22.3 L291.4,22.3 L291.9,22.5 L292.4,23 L292.9,23.6 L293.4,24.4 L293.9,25.4 L294.4,26.6 L294.9,28.1 L295.4,29.9 L295.9,31.9 L296.4,34.1 L296.9,36.5 L297.4,39 L297.9,41.7 L298.4,44.4 L298.9,47.2 L299.4,50 L299.9,52.8 L300.4,55.4 L300.9,57.8 L301.4,60 L301.9,62.1 L302.4,64.1 L302.9,66.1 L303.4,68 L303.9,69.8 L304.4,71.8 L304.9,73.8 L305.4,76 L305.9,78.5 L306.4,81.4 L306.9,84.6 L307.4,88 L307.9,91.4 L308.4,94.6 L308.9,97.4 L309.4,99.9 L309.9,102.1 L310.4,104 L310.9,105.7 L311.4,107.2 L311.9,108.6 L312.4,109.9 L312.9,111 L313.4,112 L313.9,113 L314.4,113.9 L314.9,114.7 L315.4,115.5 L315.9,116.2 L316.4,116.8 L316.9,117.3 L317.4,117.8 L317.9,118.2 L318.4,118.6 L318.9,119 L319.4,119.3 L319.9,119.6 L320.4,119.9 L320.9,120.2 L321.4,120.4 L321.9,120.7 L322.4,120.8 L322.9,121 L323.4,121.1 L323.9,121.2 L324.4,121.2 L324.9,121.3 L325.4,121.3 L325.9,121.3 L326.4,121.3 L326.9,121.4 L327.4,121.4 L327.9,121.4 L328.4,121.4 L328.9,121.5 L329.4,121.5 L329.9,121.5 L330.4,121.5 L330.9,121.5 L331.4,121.5 L331.9,121.6 L332.4,121.6 L332.9,121.6 L333.4,121.6 L333.9,121.6 L334.4,121.6 L334.9,121.6 L335.4,121.6 L335.9,121.6 L336.4,121.7 L336.9,121.7 L337.4,121.7 L337.9,121.7 L338.4,121.7 L338.9,121.7 L339.4,121.7 L339.9,121.7 L340.4,121.7 L340.9,121.7 L341.4,121.7 L341.9,121.7 L342.4,121.7 L342.9,121.7 L343.4,121.7 L343.9,121.7 L344.4,121.7 L344.9,121.7 L345.4,121.7 L345.9,121.8 L346.4,121.8 L346.9,121.8 L347.4,121.8 L347.9,121.8 L348.4,121.8 L348.9,121.8 L349.4,121.8 L349.9,121.8 L350.4,121.8 L350.9,121.8 L351.4,121.8 L351.9,121.8 L352.4,121.8 L352.9,121.8 L353.4,121.8 L353.9,121.8 L354.4,121.8 L354.9,121.8 L355.4,121.8 L355.9,121.8 L356.4,121.8 L356.9,121.8" fill="none" stroke="#ee2530" stroke-width="1.3" stroke-linejoin="round" clip-path="url(#cb)"/>
<path d="M207.4,122.3 L207.9,122.3 L208.4,122.3 L208.9,122.3 L209.4,122.3 L209.9,122.2 L210.4,122.2 L210.9,122.2 L211.4,122.2 L211.9,122.2 L212.4,122.2 L212.9,122.2 L213.4,122.2 L213.9,122.2 L214.4,122.1 L214.9,122.1 L215.4,122.1 L215.9,122.1 L216.4,122.1 L216.9,122.1 L217.4,122.1 L217.9,122.1 L218.4,122.1 L218.9,122.1 L219.4,122 L219.9,122 L220.4,122 L220.9,122 L221.4,122 L221.9,122 L222.4,122 L222.9,122 L223.4,122 L223.9,122 L224.4,121.9 L224.9,121.9 L225.4,121.9 L225.9,121.9 L226.4,121.9 L226.9,121.9 L227.4,121.9 L227.9,121.9 L228.4,121.9 L228.9,121.8 L229.4,121.8 L229.9,121.8 L230.4,121.8 L230.9,121.8 L231.4,121.8 L231.9,121.8 L232.4,121.8 L232.9,121.8 L233.4,121.8 L233.9,121.7 L234.4,121.7 L234.9,121.7 L235.4,121.7 L235.9,121.7 L236.4,121.7 L236.9,121.7 L237.4,121.7 L237.9,121.7 L238.4,121.7 L238.9,121.6 L239.4,121.6 L239.9,121.6 L240.4,121.6 L240.9,121.6 L241.4,121.6 L241.9,121.6 L242.4,121.6 L242.9,121.6 L243.4,121.6 L243.9,121.6 L244.4,121.6 L244.9,121.6 L245.4,121.5 L245.9,121.5 L246.4,121.5 L246.9,121.5 L247.4,121.5 L247.9,121.5 L248.4,121.5 L248.9,121.5 L249.4,121.5 L249.9,121.5 L250.4,121.4 L250.9,121.4 L251.4,121.4 L251.9,121.4 L252.4,121.4 L252.9,121.4 L253.4,121.4 L253.9,121.3 L254.4,121.3 L254.9,121.3 L255.4,121.3 L255.9,121.2 L256.4,121.2 L256.9,121.2 L257.4,121.1 L257.9,121.1 L258.4,121 L258.9,121 L259.4,120.9 L259.9,120.8 L260.4,120.7 L260.9,120.7 L261.4,120.6 L261.9,120.5 L262.4,120.4 L262.9,120.3 L263.4,120.2 L263.9,120.1 L264.4,120 L264.9,119.9 L265.4,119.7 L265.9,119.6 L266.4,119.4 L266.9,119.2 L267.4,119 L267.9,118.8 L268.4,118.5 L268.9,118.2 L269.4,117.9 L269.9,117.6 L270.4,117.3 L270.9,116.9 L271.4,116.5 L271.9,116.1 L272.4,115.6 L272.9,115.1 L273.4,114.5 L273.9,113.9 L274.4,113.2 L274.9,112.4 L275.4,111.7 L275.9,110.8 L276.4,109.8 L276.9,108.8 L277.4,107.7 L277.9,106.5 L278.4,105.2 L278.9,103.8 L279.4,102.2 L279.9,100.6 L280.4,98.8 L280.9,97 L281.4,95 L281.9,92.9 L282.4,90.9 L282.9,88.9 L283.4,86.9 L283.9,85 L284.4,83.1 L284.9,81.3 L285.4,79.4 L285.9,77.7 L286.4,75.9 L286.9,74.2 L287.4,72.5 L287.9,70.9 L288.4,69.3 L288.9,67.7 L289.4,66.1 L289.9,64.6 L290.4,63.1 L290.9,61.6 L291.4,60.1 L291.9,58.6 L292.4,57.1 L292.9,55.7 L293.4,54.4 L293.9,53.3 L294.4,52.5 L294.9,51.9 L295.4,51.4 L295.9,51.1 L296.4,50.9 L296.9,50.8 L297.4,50.8 L297.9,50.9 L298.4,51 L298.9,51.3 L299.4,51.6 L299.9,52.1 L300.4,52.8 L300.9,53.7 L301.4,54.8 L301.9,56.2 L302.4,57.6 L302.9,59.1 L303.4,60.6 L303.9,62.1 L304.4,63.7 L304.9,65.3 L305.4,67.1 L305.9,68.9 L306.4,70.9 L306.9,72.9 L307.4,75 L307.9,77 L308.4,79.1 L308.9,81.1 L309.4,83.1 L309.9,85.1 L310.4,87 L310.9,88.8 L311.4,90.6 L311.9,92.3 L312.4,94 L312.9,95.6 L313.4,97.2 L313.9,98.7 L314.4,100.1 L314.9,101.4 L315.4,102.7 L315.9,104 L316.4,105.2 L316.9,106.4 L317.4,107.5 L317.9,108.5 L318.4,109.5 L318.9,110.5 L319.4,111.4 L319.9,112.3 L320.4,113.1 L320.9,114 L321.4,114.7 L321.9,115.5 L322.4,116.1 L322.9,116.8 L323.4,117.4 L323.9,117.9 L324.4,118.5 L324.9,119 L325.4,119.4 L325.9,119.8 L326.4,120.2 L326.9,120.5 L327.4,120.7 L327.9,120.8 L328.4,120.9 L328.9,121 L329.4,121.1 L329.9,121.1 L330.4,121.1 L330.9,121.2 L331.4,121.2 L331.9,121.2 L332.4,121.3 L332.9,121.3 L333.4,121.3 L333.9,121.3 L334.4,121.3 L334.9,121.4 L335.4,121.4 L335.9,121.4 L336.4,121.4 L336.9,121.4 L337.4,121.4 L337.9,121.4 L338.4,121.5 L338.9,121.5 L339.4,121.5 L339.9,121.5 L340.4,121.5 L340.9,121.5 L341.4,121.5 L341.9,121.5 L342.4,121.6 L342.9,121.6 L343.4,121.6 L343.9,121.6 L344.4,121.6 L344.9,121.6 L345.4,121.6 L345.9,121.6 L346.4,121.7 L346.9,121.7 L347.4,121.7 L347.9,121.7 L348.4,121.7 L348.9,121.7 L349.4,121.7 L349.9,121.7 L350.4,121.7 L350.9,121.7 L351.4,121.8 L351.9,121.8 L352.4,121.8 L352.9,121.8 L353.4,121.8 L353.9,121.8 L354.4,121.8 L354.9,121.8 L355.4,121.8 L355.9,121.8 L356.4,121.8 L356.9,121.8" fill="none" stroke="#1f6fe6" stroke-width="1.3" stroke-linejoin="round" clip-path="url(#cb)"/>
<clipPath id="cc"><rect x="389.1" y="7.8" width="150.1" height="120.3"/></clipPath>
<path d="M389.2,122.7 L389.7,122.7 L390.2,122.7 L390.7,122.7 L391.2,122.6 L391.7,122.6 L392.2,122.6 L392.7,122.6 L393.2,122.6 L393.7,122.6 L394.2,122.5 L394.7,122.5 L395.2,122.5 L395.7,122.5 L396.2,122.5 L396.7,122.5 L397.2,122.5 L397.7,122.5 L398.2,122.4 L398.7,122.4 L399.2,122.4 L399.7,122.4 L400.2,122.4 L400.7,122.4 L401.2,122.4 L401.7,122.4 L402.2,122.4 L402.7,122.4 L403.2,122.4 L403.7,122.4 L404.2,122.4 L404.7,122.4 L405.2,122.4 L405.7,122.4 L406.2,122.4 L406.7,122.4 L407.2,122.4 L407.7,122.4 L408.2,122.4 L408.7,122.4 L409.2,122.4 L409.7,122.4 L410.2,122.4 L410.7,122.4 L411.2,122.4 L411.7,122.4 L412.2,122.4 L412.7,122.4 L413.2,122.4 L413.7,122.4 L414.2,122.4 L414.7,122.4 L415.2,122.4 L415.7,122.4 L416.2,122.4 L416.7,122.4 L417.2,122.4 L417.7,122.4 L418.2,122.4 L418.7,122.4 L419.2,122.4 L419.7,122.4 L420.2,122.4 L420.7,122.3 L421.2,122.3 L421.7,122.3 L422.2,122.3 L422.7,122.3 L423.2,122.3 L423.7,122.3 L424.2,122.2 L424.7,122.2 L425.2,122.2 L425.7,122.2 L426.2,122.2 L426.7,122.1 L427.2,122.1 L427.7,122 L428.2,121.8 L428.7,121.6 L429.2,121.2 L429.7,120.8 L430.2,120.4 L430.7,119.9 L431.2,119.4 L431.7,118.9 L432.2,118.5 L432.7,118.1 L433.2,117.8 L433.7,117.4 L434.2,117.1 L434.7,116.8 L435.2,116.5 L435.7,116.1 L436.2,115.8 L436.7,115.5 L437.2,115.3 L437.7,115 L438.2,114.7 L438.7,114.5 L439.2,114.2 L439.7,114 L440.2,113.7 L440.7,113.4 L441.2,113 L441.7,112.5 L442.2,112 L442.7,111.5 L443.2,110.8 L443.7,110.1 L444.2,109.4 L444.7,108.5 L445.2,107.4 L445.7,106.2 L446.2,104.8 L446.7,103.3 L447.2,101.8 L447.7,100.4 L448.2,99 L448.7,97.8 L449.2,96.7 L449.7,95.8 L450.2,94.9 L450.7,94 L451.2,93.2 L451.7,92.4 L452.2,91.5 L452.7,90.7 L453.2,89.9 L453.7,89.1 L454.2,88.3 L454.7,87.4 L455.2,86.5 L455.7,85.5 L456.2,84.4 L456.7,83.5 L457.2,82.8 L457.7,82.2 L458.2,81.8 L458.7,81.3 L459.2,81 L459.7,80.7 L460.2,80.5 L460.7,80.3 L461.2,80.3 L461.7,80.3 L462.2,80.4 L462.7,80.6 L463.2,80.8 L463.7,81.1 L464.2,81.4 L464.7,81.8 L465.2,82.3 L465.7,82.9 L466.2,83.5 L466.7,84.1 L467.2,84.8 L467.7,85.3 L468.2,85.9 L468.7,86.5 L469.2,87.2 L469.7,87.9 L470.2,88.8 L470.7,89.8 L471.2,90.9 L471.7,92 L472.2,93.1 L472.7,94.3 L473.2,95.5 L473.7,96.7 L474.2,97.9 L474.7,99 L475.2,100.1 L475.7,101.1 L476.2,102.2 L476.7,103.2 L477.2,104.2 L477.7,105.2 L478.2,106.1 L478.7,107 L479.2,107.9 L479.7,108.8 L480.2,109.7 L480.7,110.6 L481.2,111.5 L481.7,112.3 L482.2,113.1 L482.7,113.9 L483.2,114.6 L483.7,115.3 L484.2,115.9 L484.7,116.5 L485.2,117 L485.7,117.5 L486.2,118 L486.7,118.5 L487.2,118.9 L487.7,119.3 L488.2,119.6 L488.7,119.9 L489.2,120.2 L489.7,120.3 L490.2,120.5 L490.7,120.7 L491.2,120.8 L491.7,120.9 L492.2,121 L492.7,121.1 L493.2,121.2 L493.7,121.3 L494.2,121.4 L494.7,121.5 L495.2,121.6 L495.7,121.6 L496.2,121.7 L496.7,121.7 L497.2,121.7 L497.7,121.7 L498.2,121.8 L498.7,121.8 L499.2,121.8 L499.7,121.8 L500.2,121.9 L500.7,121.9 L501.2,121.9 L501.7,121.9 L502.2,121.9 L502.7,121.9 L503.2,122 L503.7,122 L504.2,122 L504.7,122 L505.2,122 L505.7,122 L506.2,122 L506.7,122 L507.2,122 L507.7,122.1 L508.2,122.1 L508.7,122.1 L509.2,122.1 L509.7,122.1 L510.2,122.1 L510.7,122.1 L511.2,122.1 L511.7,122.1 L512.2,122.2 L512.7,122.2 L513.2,122.2 L513.7,122.2 L514.2,122.2 L514.7,122.2 L515.2,122.2 L515.7,122.2 L516.2,122.2 L516.7,122.2 L517.2,122.3 L517.7,122.3 L518.2,122.3 L518.7,122.3 L519.2,122.3 L519.7,122.3 L520.2,122.3 L520.7,122.3 L521.2,122.3 L521.7,122.4 L522.2,122.4 L522.7,122.4 L523.2,122.4 L523.7,122.4 L524.2,122.4 L524.7,122.4 L525.2,122.4 L525.7,122.4 L526.2,122.4 L526.7,122.4 L527.2,122.4 L527.7,122.5 L528.2,122.5 L528.7,122.5 L529.2,122.5 L529.7,122.5 L530.2,122.5 L530.7,122.5 L531.2,122.5 L531.7,122.5 L532.2,122.5 L532.7,122.5 L533.2,122.5 L533.7,122.5 L534.2,122.5 L534.7,122.6 L535.2,122.6 L535.7,122.6 L536.2,122.6 L536.7,122.6 L537.2,122.6 L537.7,122.6 L538.2,122.6 L538.7,122.6" fill="none" stroke="#3a3a3a" stroke-width="1.3" stroke-linejoin="round" clip-path="url(#cc)"/>
<path d="M389.2,122.7 L389.7,122.7 L390.2,122.7 L390.7,122.7 L391.2,122.6 L391.7,122.6 L392.2,122.6 L392.7,122.6 L393.2,122.6 L393.7,122.6 L394.2,122.5 L394.7,122.5 L395.2,122.5 L395.7,122.5 L396.2,122.5 L396.7,122.5 L397.2,122.5 L397.7,122.5 L398.2,122.4 L398.7,122.4 L399.2,122.4 L399.7,122.4 L400.2,122.4 L400.7,122.4 L401.2,122.4 L401.7,122.4 L402.2,122.4 L402.7,122.4 L403.2,122.4 L403.7,122.4 L404.2,122.4 L404.7,122.4 L405.2,122.4 L405.7,122.4 L406.2,122.4 L406.7,122.4 L407.2,122.4 L407.7,122.4 L408.2,122.4 L408.7,122.4 L409.2,122.4 L409.7,122.4 L410.2,122.4 L410.7,122.4 L411.2,122.4 L411.7,122.4 L412.2,122.4 L412.7,122.4 L413.2,122.4 L413.7,122.4 L414.2,122.4 L414.7,122.4 L415.2,122.4 L415.7,122.4 L416.2,122.4 L416.7,122.4 L417.2,122.4 L417.7,122.4 L418.2,122.4 L418.7,122.4 L419.2,122.3 L419.7,122.3 L420.2,122.3 L420.7,122.3 L421.2,122.3 L421.7,122.2 L422.2,122.2 L422.7,122.2 L423.2,122.2 L423.7,122.1 L424.2,122.1 L424.7,122 L425.2,122 L425.7,122 L426.2,121.9 L426.7,121.9 L427.2,121.8 L427.7,121.7 L428.2,121.5 L428.7,121.3 L429.2,120.9 L429.7,120.6 L430.2,120.2 L430.7,119.8 L431.2,119.4 L431.7,119 L432.2,118.6 L432.7,118.3 L433.2,118.1 L433.7,117.9 L434.2,117.7 L434.7,117.5 L435.2,117.3 L435.7,117.2 L436.2,117 L436.7,116.8 L437.2,116.5 L437.7,116.2 L438.2,115.9 L438.7,115.5 L439.2,115 L439.7,114.5 L440.2,113.8 L440.7,113.1 L441.2,112.4 L441.7,111.6 L442.2,110.8 L442.7,109.9 L443.2,108.9 L443.7,107.8 L444.2,106.6 L444.7,105.3 L445.2,103.9 L445.7,102.5 L446.2,101.1 L446.7,99.6 L447.2,98.2 L447.7,96.7 L448.2,95.1 L448.7,93.3 L449.2,91.4 L449.7,89.4 L450.2,87.3 L450.7,85.2 L451.2,83.2 L451.7,81.2 L452.2,79.4 L452.7,77.7 L453.2,75.9 L453.7,74.3 L454.2,72.5 L454.7,70.8 L455.2,69 L455.7,67.1 L456.2,65.3 L456.7,63.6 L457.2,62 L457.7,60.5 L458.2,59.2 L458.7,58.1 L459.2,57 L459.7,56 L460.2,55.1 L460.7,54.4 L461.2,53.7 L461.7,53.1 L462.2,52.5 L462.7,51.9 L463.2,51.4 L463.7,50.9 L464.2,50.5 L464.7,50.2 L465.2,50.1 L465.7,50 L466.2,50.1 L466.7,50.3 L467.2,50.7 L467.7,51.1 L468.2,51.7 L468.7,52.3 L469.2,53 L469.7,53.8 L470.2,54.7 L470.7,55.8 L471.2,57 L471.7,58.5 L472.2,60.3 L472.7,62.2 L473.2,64.5 L473.7,66.9 L474.2,69.2 L474.7,71.4 L475.2,73.4 L475.7,75.1 L476.2,76.8 L476.7,78.5 L477.2,80.2 L477.7,82 L478.2,83.8 L478.7,85.8 L479.2,87.8 L479.7,89.8 L480.2,91.8 L480.7,93.8 L481.2,95.8 L481.7,97.7 L482.2,99.5 L482.7,101.3 L483.2,103 L483.7,104.5 L484.2,105.9 L484.7,107.2 L485.2,108.4 L485.7,109.5 L486.2,110.6 L486.7,111.6 L487.2,112.5 L487.7,113.3 L488.2,114 L488.7,114.6 L489.2,115.2 L489.7,115.7 L490.2,116.1 L490.7,116.5 L491.2,116.9 L491.7,117.2 L492.2,117.6 L492.7,117.9 L493.2,118.1 L493.7,118.4 L494.2,118.6 L494.7,118.9 L495.2,119.1 L495.7,119.4 L496.2,119.6 L496.7,119.8 L497.2,120 L497.7,120.2 L498.2,120.4 L498.7,120.5 L499.2,120.7 L499.7,120.8 L500.2,120.9 L500.7,121 L501.2,121.1 L501.7,121.2 L502.2,121.2 L502.7,121.3 L503.2,121.3 L503.7,121.4 L504.2,121.4 L504.7,121.4 L505.2,121.5 L505.7,121.5 L506.2,121.6 L506.7,121.6 L507.2,121.6 L507.7,121.7 L508.2,121.7 L508.7,121.7 L509.2,121.7 L509.7,121.8 L510.2,121.8 L510.7,121.8 L511.2,121.8 L511.7,121.9 L512.2,121.9 L512.7,121.9 L513.2,121.9 L513.7,122 L514.2,122 L514.7,122 L515.2,122 L515.7,122 L516.2,122.1 L516.7,122.1 L517.2,122.1 L517.7,122.1 L518.2,122.1 L518.7,122.2 L519.2,122.2 L519.7,122.2 L520.2,122.2 L520.7,122.2 L521.2,122.3 L521.7,122.3 L522.2,122.3 L522.7,122.3 L523.2,122.3 L523.7,122.4 L524.2,122.4 L524.7,122.4 L525.2,122.4 L525.7,122.4 L526.2,122.5 L526.7,122.5 L527.2,122.5 L527.7,122.5 L528.2,122.5 L528.7,122.5 L529.2,122.6 L529.7,122.6 L530.2,122.6 L530.7,122.6 L531.2,122.6 L531.7,122.6 L532.2,122.6 L532.7,122.7 L533.2,122.7 L533.7,122.7 L534.2,122.7 L534.7,122.7 L535.2,122.7 L535.7,122.7 L536.2,122.7 L536.7,122.8 L537.2,122.8 L537.7,122.8 L538.2,122.8 L538.7,122.8" fill="none" stroke="#ee2530" stroke-width="1.3" stroke-linejoin="round" clip-path="url(#cc)"/>
<path d="M389.2,122.7 L389.7,122.7 L390.2,122.7 L390.7,122.7 L391.2,122.6 L391.7,122.6 L392.2,122.6 L392.7,122.6 L393.2,122.6 L393.7,122.6 L394.2,122.5 L394.7,122.5 L395.2,122.5 L395.7,122.5 L396.2,122.5 L396.7,122.5 L397.2,122.5 L397.7,122.5 L398.2,122.4 L398.7,122.4 L399.2,122.4 L399.7,122.4 L400.2,122.4 L400.7,122.4 L401.2,122.4 L401.7,122.4 L402.2,122.4 L402.7,122.4 L403.2,122.4 L403.7,122.4 L404.2,122.4 L404.7,122.4 L405.2,122.4 L405.7,122.4 L406.2,122.4 L406.7,122.4 L407.2,122.4 L407.7,122.4 L408.2,122.4 L408.7,122.4 L409.2,122.4 L409.7,122.4 L410.2,122.4 L410.7,122.4 L411.2,122.4 L411.7,122.4 L412.2,122.4 L412.7,122.4 L413.2,122.4 L413.7,122.4 L414.2,122.4 L414.7,122.4 L415.2,122.4 L415.7,122.4 L416.2,122.4 L416.7,122.4 L417.2,122.4 L417.7,122.4 L418.2,122.4 L418.7,122.4 L419.2,122.4 L419.7,122.4 L420.2,122.4 L420.7,122.3 L421.2,122.3 L421.7,122.3 L422.2,122.3 L422.7,122.3 L423.2,122.3 L423.7,122.3 L424.2,122.2 L424.7,122.2 L425.2,122.2 L425.7,122.2 L426.2,122.2 L426.7,122.1 L427.2,122.1 L427.7,122 L428.2,121.8 L428.7,121.6 L429.2,121.2 L429.7,120.8 L430.2,120.4 L430.7,119.9 L431.2,119.4 L431.7,118.9 L432.2,118.5 L432.7,118.1 L433.2,117.8 L433.7,117.5 L434.2,117.2 L434.7,116.9 L435.2,116.7 L435.7,116.4 L436.2,116.1 L436.7,115.8 L437.2,115.4 L437.7,115 L438.2,114.5 L438.7,114 L439.2,113.4 L439.7,112.6 L440.2,111.9 L440.7,111 L441.2,110.1 L441.7,109.2 L442.2,108.2 L442.7,107.2 L443.2,106.1 L443.7,104.9 L444.2,103.6 L444.7,102.2 L445.2,100.6 L445.7,98.6 L446.2,96.4 L446.7,94 L447.2,91.7 L447.7,89.7 L448.2,87.6 L448.7,85.6 L449.2,83.4 L449.7,81.2 L450.2,79 L450.7,76.7 L451.2,74.3 L451.7,72 L452.2,69.5 L452.7,67 L453.2,64.4 L453.7,61.6 L454.2,58.8 L454.7,56 L455.2,53.3 L455.7,50.6 L456.2,48.1 L456.7,45.6 L457.2,43.1 L457.7,40.8 L458.2,38.5 L458.7,36.4 L459.2,34.3 L459.7,32.2 L460.2,30.3 L460.7,28.4 L461.2,26.6 L461.7,24.8 L462.2,23.2 L462.7,21.7 L463.2,20.4 L463.7,19.3 L464.2,18.3 L464.7,17.6 L465.2,17.1 L465.7,16.8 L466.2,16.6 L466.7,16.4 L467.2,16.3 L467.7,16.3 L468.2,16.2 L468.7,16.2 L469.2,16.3 L469.7,16.4 L470.2,16.9 L470.7,17.7 L471.2,19 L471.7,20.7 L472.2,22.8 L472.7,25.2 L473.2,27.8 L473.7,30.4 L474.2,32.9 L474.7,35.6 L475.2,38.6 L475.7,41.7 L476.2,44.3 L476.7,46.5 L477.2,48.9 L477.7,51.7 L478.2,54.7 L478.7,57.6 L479.2,60.3 L479.7,62.9 L480.2,65.5 L480.7,68 L481.2,70.4 L481.7,72.9 L482.2,75.3 L482.7,77.8 L483.2,80.3 L483.7,82.8 L484.2,85.3 L484.7,87.8 L485.2,90.2 L485.7,92.5 L486.2,94.8 L486.7,96.9 L487.2,99 L487.7,100.9 L488.2,102.7 L488.7,104.4 L489.2,105.9 L489.7,107.2 L490.2,108.4 L490.7,109.5 L491.2,110.5 L491.7,111.5 L492.2,112.4 L492.7,113.2 L493.2,113.9 L493.7,114.5 L494.2,115.1 L494.7,115.6 L495.2,116.1 L495.7,116.6 L496.2,117 L496.7,117.5 L497.2,117.8 L497.7,118.2 L498.2,118.5 L498.7,118.8 L499.2,119 L499.7,119.2 L500.2,119.3 L500.7,119.5 L501.2,119.6 L501.7,119.8 L502.2,119.9 L502.7,120 L503.2,120.1 L503.7,120.2 L504.2,120.3 L504.7,120.4 L505.2,120.5 L505.7,120.6 L506.2,120.6 L506.7,120.7 L507.2,120.8 L507.7,120.8 L508.2,120.9 L508.7,121 L509.2,121 L509.7,121.1 L510.2,121.1 L510.7,121.2 L511.2,121.2 L511.7,121.3 L512.2,121.3 L512.7,121.4 L513.2,121.4 L513.7,121.5 L514.2,121.6 L514.7,121.6 L515.2,121.7 L515.7,121.7 L516.2,121.8 L516.7,121.8 L517.2,121.8 L517.7,121.9 L518.2,121.9 L518.7,122 L519.2,122 L519.7,122.1 L520.2,122.1 L520.7,122.2 L521.2,122.2 L521.7,122.3 L522.2,122.3 L522.7,122.3 L523.2,122.4 L523.7,122.4 L524.2,122.5 L524.7,122.5 L525.2,122.5 L525.7,122.6 L526.2,122.6 L526.7,122.6 L527.2,122.7 L527.7,122.7 L528.2,122.7 L528.7,122.8 L529.2,122.8 L529.7,122.8 L530.2,122.8 L530.7,122.9 L531.2,122.9 L531.7,122.9 L532.2,122.9 L532.7,123 L533.2,123 L533.7,123 L534.2,123 L534.7,123 L535.2,123 L535.7,123.1 L536.2,123.1 L536.7,123.1 L537.2,123.1 L537.7,123.1 L538.2,123.1 L538.7,123.1" fill="none" stroke="#1f6fe6" stroke-width="1.3" stroke-linejoin="round" clip-path="url(#cc)"/>
<clipPath id="cd"><rect x="26.5" y="170.5" width="150.7" height="121.2"/></clipPath>
<path d="M26.5,286.9 L27,286.9 L27.5,286.9 L28,286.9 L28.5,286.9 L29,287 L29.5,287 L30,287 L30.5,287 L31,287 L31.5,287 L32,287 L32.5,287 L33,287 L33.5,287 L34,287 L34.5,287 L35,287 L35.5,287 L36,287 L36.5,287 L37,287 L37.5,287 L38,287 L38.5,287 L39,287 L39.5,287 L40,287 L40.5,287 L41,287 L41.5,287 L42,287 L42.5,287 L43,287 L43.5,287 L44,287 L44.5,287 L45,287 L45.5,287 L46,287 L46.5,287 L47,287 L47.5,287 L48,287 L48.5,287 L49,287 L49.5,287 L50,287 L50.5,287 L51,287 L51.5,287 L52,287 L52.5,286.9 L53,286.9 L53.5,286.9 L54,286.9 L54.5,286.9 L55,286.9 L55.5,286.8 L56,286.8 L56.5,286.8 L57,286.7 L57.5,286.7 L58,286.7 L58.5,286.6 L59,286.5 L59.5,286.5 L60,286.4 L60.5,286.3 L61,286.2 L61.5,286.1 L62,286 L62.5,285.9 L63,285.7 L63.5,285.6 L64,285.4 L64.5,285.2 L65,285 L65.5,284.7 L66,284.5 L66.5,284.2 L67,283.9 L67.5,283.5 L68,283.1 L68.5,282.7 L69,282.3 L69.5,281.8 L70,281.3 L70.5,280.8 L71,280.2 L71.5,279.5 L72,278.9 L72.5,278.1 L73,277.4 L73.5,276.6 L74,275.7 L74.5,274.8 L75,273.8 L75.5,272.8 L76,271.8 L76.5,270.6 L77,269.5 L77.5,268.3 L78,267 L78.5,265.7 L79,264.3 L79.5,262.9 L80,261.5 L80.5,260 L81,258.5 L81.5,257 L82,255.4 L82.5,253.8 L83,252.2 L83.5,250.6 L84,249 L84.5,247.4 L85,245.7 L85.5,244.1 L86,242.5 L86.5,241 L87,239.4 L87.5,237.9 L88,236.5 L88.5,235.1 L89,233.7 L89.5,232.4 L90,231.2 L90.5,230 L91,229 L91.5,228 L92,227.1 L92.5,226.3 L93,225.7 L93.5,225.1 L94,224.6 L94.5,224.3 L95,224 L95.5,223.9 L96,223.9 L96.5,224 L97,224.2 L97.5,224.5 L98,225 L98.5,225.5 L99,226.2 L99.5,226.9 L100,227.8 L100.5,228.7 L101,229.8 L101.5,230.9 L102,232.1 L102.5,233.4 L103,234.7 L103.5,236.1 L104,237.6 L104.5,239.1 L105,240.6 L105.5,242.2 L106,243.8 L106.5,245.4 L107,247 L107.5,248.6 L108,250.3 L108.5,251.9 L109,253.5 L109.5,255.1 L110,256.7 L110.5,258.2 L111,259.8 L111.5,261.3 L112,262.7 L112.5,264.1 L113,265.5 L113.5,266.8 L114,268.1 L114.5,269.3 L115,270.5 L115.5,271.7 L116,272.8 L116.5,273.8 L117,274.8 L117.5,275.7 L118,276.6 L118.5,277.4 L119,278.2 L119.5,279 L120,279.7 L120.5,280.3 L121,280.9 L121.5,281.5 L122,282 L122.5,282.5 L123,283 L123.5,283.4 L124,283.8 L124.5,284.1 L125,284.5 L125.5,284.8 L126,285 L126.5,285.3 L127,285.5 L127.5,285.7 L128,285.9 L128.5,286.1 L129,286.3 L129.5,286.4 L130,286.5 L130.5,286.6 L131,286.7 L131.5,286.8 L132,286.9 L132.5,287 L133,287.1 L133.5,287.1 L134,287.2 L134.5,287.2 L135,287.3 L135.5,287.3 L136,287.4 L136.5,287.4 L137,287.4 L137.5,287.4 L138,287.5 L138.5,287.5 L139,287.5 L139.5,287.5 L140,287.5 L140.5,287.6 L141,287.6 L141.5,287.6 L142,287.6 L142.5,287.6 L143,287.6 L143.5,287.6 L144,287.6 L144.5,287.6 L145,287.7 L145.5,287.7 L146,287.7 L146.5,287.7 L147,287.7 L147.5,287.7 L148,287.7 L148.5,287.7 L149,287.7 L149.5,287.7 L150,287.7 L150.5,287.7 L151,287.7 L151.5,287.7 L152,287.7 L152.5,287.7 L153,287.7 L153.5,287.7 L154,287.8 L154.5,287.8 L155,287.8 L155.5,287.8 L156,287.8 L156.5,287.8 L157,287.8 L157.5,287.8 L158,287.8 L158.5,287.8 L159,287.8 L159.5,287.8 L160,287.8 L160.5,287.8 L161,287.8 L161.5,287.8 L162,287.8 L162.5,287.8 L163,287.8 L163.5,287.8 L164,287.8 L164.5,287.8 L165,287.9 L165.5,287.9 L166,287.9 L166.5,287.9 L167,287.9 L167.5,287.9 L168,287.9 L168.5,287.9 L169,287.9 L169.5,287.9 L170,287.9 L170.5,287.9 L171,287.9 L171.5,287.9 L172,287.9 L172.5,287.9 L173,287.9 L173.5,287.9 L174,287.9 L174.5,287.9 L175,287.9 L175.5,287.9 L176,287.9 L176.5,287.9 L177,287.9 L177,288 L176.5,288 L176,288 L175.5,288 L175,288 L174.5,288 L174,288 L173.5,288 L173,288 L172.5,288 L172,288 L171.5,288 L171,288 L170.5,288 L170,287.9 L169.5,287.9 L169,287.9 L168.5,287.9 L168,287.9 L167.5,287.9 L167,287.9 L166.5,287.9 L166,287.9 L165.5,287.9 L165,287.9 L164.5,287.9 L164,287.9 L163.5,287.9 L163,287.9 L162.5,287.9 L162,287.9 L161.5,287.9 L161,287.9 L160.5,287.9 L160,287.9 L159.5,287.9 L159,287.9 L158.5,287.9 L158,287.9 L157.5,287.9 L157,287.9 L156.5,287.9 L156,287.9 L155.5,287.9 L155,287.8 L154.5,287.8 L154,287.8 L153.5,287.8 L153,287.8 L152.5,287.8 L152,287.8 L151.5,287.8 L151,287.8 L150.5,287.8 L150,287.8 L149.5,287.8 L149,287.8 L148.5,287.8 L148,287.8 L147.5,287.8 L147,287.8 L146.5,287.8 L146,287.8 L145.5,287.8 L145,287.8 L144.5,287.8 L144,287.8 L143.5,287.8 L143,287.8 L142.5,287.8 L142,287.8 L141.5,287.8 L141,287.8 L140.5,287.8 L140,287.8 L139.5,287.7 L139,287.7 L138.5,287.7 L138,287.7 L137.5,287.7 L137,287.7 L136.5,287.7 L136,287.7 L135.5,287.7 L135,287.7 L134.5,287.7 L134,287.7 L133.5,287.7 L133,287.7 L132.5,287.7 L132,287.7 L131.5,287.7 L131,287.7 L130.5,287.7 L130,287.7 L129.5,287.7 L129,287.7 L128.5,287.7 L128,287.7 L127.5,287.7 L127,287.7 L126.5,287.7 L126,287.7 L125.5,287.7 L125,287.7 L124.5,287.6 L124,287.6 L123.5,287.6 L123,287.6 L122.5,287.6 L122,287.6 L121.5,287.6 L121,287.6 L120.5,287.6 L120,287.6 L119.5,287.6 L119,287.6 L118.5,287.6 L118,287.6 L117.5,287.6 L117,287.6 L116.5,287.6 L116,287.6 L115.5,287.6 L115,287.6 L114.5,287.6 L114,287.6 L113.5,287.6 L113,287.6 L112.5,287.6 L112,287.6 L111.5,287.6 L111,287.6 L110.5,287.6 L110,287.6 L109.5,287.5 L109,287.5 L108.5,287.5 L108,287.5 L107.5,287.5 L107,287.5 L106.5,287.5 L106,287.5 L105.5,287.5 L105,287.5 L104.5,287.5 L104,287.5 L103.5,287.5 L103,287.5 L102.5,287.5 L102,287.5 L101.5,287.5 L101,287.5 L100.5,287.5 L100,287.5 L99.5,287.5 L99,287.5 L98.5,287.5 L98,287.5 L97.5,287.5 L97,287.5 L96.5,287.5 L96,287.5 L95.5,287.5 L95,287.5 L94.5,287.5 L94,287.4 L93.5,287.4 L93,287.4 L92.5,287.4 L92,287.4 L91.5,287.4 L91,287.4 L90.5,287.4 L90,287.4 L89.5,287.4 L89,287.4 L88.5,287.4 L88,287.4 L87.5,287.4 L87,287.4 L86.5,287.4 L86,287.4 L85.5,287.4 L85,287.4 L84.5,287.4 L84,287.4 L83.5,287.4 L83,287.4 L82.5,287.4 L82,287.4 L81.5,287.4 L81,287.4 L80.5,287.4 L80,287.4 L79.5,287.4 L79,287.3 L78.5,287.3 L78,287.3 L77.5,287.3 L77,287.3 L76.5,287.3 L76,287.3 L75.5,287.3 L75,287.3 L74.5,287.3 L74,287.3 L73.5,287.3 L73,287.3 L72.5,287.3 L72,287.3 L71.5,287.3 L71,287.3 L70.5,287.3 L70,287.3 L69.5,287.3 L69,287.3 L68.5,287.3 L68,287.3 L67.5,287.3 L67,287.3 L66.5,287.3 L66,287.3 L65.5,287.3 L65,287.3 L64.5,287.3 L64,287.2 L63.5,287.2 L63,287.2 L62.5,287.2 L62,287.2 L61.5,287.2 L61,287.2 L60.5,287.2 L60,287.2 L59.5,287.2 L59,287.2 L58.5,287.2 L58,287.2 L57.5,287.2 L57,287.2 L56.5,287.2 L56,287.2 L55.5,287.2 L55,287.2 L54.5,287.2 L54,287.2 L53.5,287.2 L53,287.2 L52.5,287.2 L52,287.2 L51.5,287.2 L51,287.2 L50.5,287.2 L50,287.2 L49.5,287.2 L49,287.2 L48.5,287.1 L48,287.1 L47.5,287.1 L47,287.1 L46.5,287.1 L46,287.1 L45.5,287.1 L45,287.1 L44.5,287.1 L44,287.1 L43.5,287.1 L43,287.1 L42.5,287.1 L42,287.1 L41.5,287.1 L41,287.1 L40.5,287.1 L40,287.1 L39.5,287.1 L39,287.1 L38.5,287.1 L38,287.1 L37.5,287.1 L37,287.1 L36.5,287.1 L36,287.1 L35.5,287.1 L35,287.1 L34.5,287.1 L34,287.1 L33.5,287 L33,287 L32.5,287 L32,287 L31.5,287 L31,287 L30.5,287 L30,287 L29.5,287 L29,287 L28.5,287 L28,287 L27.5,287 L27,287 L26.5,287 Z" fill="#ff0c0c" fill-opacity="0.35" stroke="none" clip-path="url(#cd)"/>
<path d="M26.5,286.9 L27,286.9 L27.5,286.9 L28,286.9 L28.5,286.9 L29,287 L29.5,287 L30,287 L30.5,287 L31,287 L31.5,287 L32,287 L32.5,287 L33,287 L33.5,287 L34,287 L34.5,287 L35,287 L35.5,287 L36,287 L36.5,287 L37,287 L37.5,287 L38,287 L38.5,287 L39,287 L39.5,287 L40,287 L40.5,287 L41,287 L41.5,287 L42,287 L42.5,287 L43,287 L43.5,287 L44,287 L44.5,287 L45,287 L45.5,287 L46,287 L46.5,287 L47,287 L47.5,287 L48,287 L48.5,287 L49,287 L49.5,287 L50,287 L50.5,287 L51,287 L51.5,287 L52,287 L52.5,286.9 L53,286.9 L53.5,286.9 L54,286.9 L54.5,286.9 L55,286.9 L55.5,286.8 L56,286.8 L56.5,286.8 L57,286.7 L57.5,286.7 L58,286.7 L58.5,286.6 L59,286.5 L59.5,286.5 L60,286.4 L60.5,286.3 L61,286.2 L61.5,286.1 L62,286 L62.5,285.9 L63,285.7 L63.5,285.6 L64,285.4 L64.5,285.2 L65,285 L65.5,284.7 L66,284.5 L66.5,284.2 L67,283.9 L67.5,283.5 L68,283.1 L68.5,282.7 L69,282.3 L69.5,281.8 L70,281.3 L70.5,280.8 L71,280.2 L71.5,279.5 L72,278.9 L72.5,278.1 L73,277.4 L73.5,276.6 L74,275.7 L74.5,274.8 L75,273.8 L75.5,272.8 L76,271.8 L76.5,270.6 L77,269.5 L77.5,268.3 L78,267 L78.5,265.7 L79,264.3 L79.5,262.9 L80,261.5 L80.5,260 L81,258.5 L81.5,257 L82,255.4 L82.5,253.8 L83,252.2 L83.5,250.6 L84,249 L84.5,247.4 L85,245.7 L85.5,244.1 L86,242.5 L86.5,241 L87,239.4 L87.5,237.9 L88,236.5 L88.5,235.1 L89,233.7 L89.5,232.4 L90,231.2 L90.5,230 L91,229 L91.5,228 L92,227.1 L92.5,226.3 L93,225.7 L93.5,225.1 L94,224.6 L94.5,224.3 L95,224 L95.5,223.9 L96,223.9 L96.5,224 L97,224.2 L97.5,224.5 L98,225 L98.5,225.5 L99,226.2 L99.5,226.9 L100,227.8 L100.5,228.7 L101,229.8 L101.5,230.9 L102,232.1 L102.5,233.4 L103,234.7 L103.5,236.1 L104,237.6 L104.5,239.1 L105,240.6 L105.5,242.2 L106,243.8 L106.5,245.4 L107,247 L107.5,248.6 L108,250.3 L108.5,251.9 L109,253.5 L109.5,255.1 L110,256.7 L110.5,258.2 L111,259.8 L111.5,261.3 L112,262.7 L112.5,264.1 L113,265.5 L113.5,266.8 L114,268.1 L114.5,269.3 L115,270.5 L115.5,271.7 L116,272.8 L116.5,273.8 L117,274.8 L117.5,275.7 L118,276.6 L118.5,277.4 L119,278.2 L119.5,279 L120,279.7 L120.5,280.3 L121,280.9 L121.5,281.5 L122,282 L122.5,282.5 L123,283 L123.5,283.4 L124,283.8 L124.5,284.1 L125,284.5 L125.5,284.8 L126,285 L126.5,285.3 L127,285.5 L127.5,285.7 L128,285.9 L128.5,286.1 L129,286.3 L129.5,286.4 L130,286.5 L130.5,286.6 L131,286.7 L131.5,286.8 L132,286.9 L132.5,287 L133,287.1 L133.5,287.1 L134,287.2 L134.5,287.2 L135,287.3 L135.5,287.3 L136,287.4 L136.5,287.4 L137,287.4 L137.5,287.4 L138,287.5 L138.5,287.5 L139,287.5 L139.5,287.5 L140,287.5 L140.5,287.6 L141,287.6 L141.5,287.6 L142,287.6 L142.5,287.6 L143,287.6 L143.5,287.6 L144,287.6 L144.5,287.6 L145,287.7 L145.5,287.7 L146,287.7 L146.5,287.7 L147,287.7 L147.5,287.7 L148,287.7 L148.5,287.7 L149,287.7 L149.5,287.7 L150,287.7 L150.5,287.7 L151,287.7 L151.5,287.7 L152,287.7 L152.5,287.7 L153,287.7 L153.5,287.7 L154,287.8 L154.5,287.8 L155,287.8 L155.5,287.8 L156,287.8 L156.5,287.8 L157,287.8 L157.5,287.8 L158,287.8 L158.5,287.8 L159,287.8 L159.5,287.8 L160,287.8 L160.5,287.8 L161,287.8 L161.5,287.8 L162,287.8 L162.5,287.8 L163,287.8 L163.5,287.8 L164,287.8 L164.5,287.8 L165,287.9 L165.5,287.9 L166,287.9 L166.5,287.9 L167,287.9 L167.5,287.9 L168,287.9 L168.5,287.9 L169,287.9 L169.5,287.9 L170,287.9 L170.5,287.9 L171,287.9 L171.5,287.9 L172,287.9 L172.5,287.9 L173,287.9 L173.5,287.9 L174,287.9 L174.5,287.9 L175,287.9 L175.5,287.9 L176,287.9 L176.5,287.9 L177,287.9" fill="none" stroke="#ee3b44" stroke-width="1.2" clip-path="url(#cd)"/>
<path d="M26.5,287 L27,287 L27.5,287 L28,287 L28.5,287 L29,287 L29.5,287 L30,287 L30.5,287 L31,287 L31.5,287 L32,287 L32.5,287 L33,287 L33.5,287 L34,287.1 L34.5,287.1 L35,287.1 L35.5,287.1 L36,287.1 L36.5,287.1 L37,287.1 L37.5,287.1 L38,287.1 L38.5,287.1 L39,287.1 L39.5,287.1 L40,287.1 L40.5,287.1 L41,287.1 L41.5,287.1 L42,287.1 L42.5,287.1 L43,287.1 L43.5,287.1 L44,287.1 L44.5,287.1 L45,287.1 L45.5,287.1 L46,287.1 L46.5,287.1 L47,287.1 L47.5,287.1 L48,287.1 L48.5,287.1 L49,287.2 L49.5,287.2 L50,287.2 L50.5,287.2 L51,287.2 L51.5,287.2 L52,287.2 L52.5,287.2 L53,287.2 L53.5,287.2 L54,287.2 L54.5,287.2 L55,287.2 L55.5,287.2 L56,287.2 L56.5,287.2 L57,287.2 L57.5,287.2 L58,287.2 L58.5,287.2 L59,287.2 L59.5,287.2 L60,287.2 L60.5,287.2 L61,287.2 L61.5,287.2 L62,287.2 L62.5,287.2 L63,287.2 L63.5,287.2 L64,287.2 L64.5,287.2 L65,287.2 L65.5,287.1 L66,287.1 L66.5,287.1 L67,287.1 L67.5,287.1 L68,287.1 L68.5,287 L69,287 L69.5,287 L70,287 L70.5,286.9 L71,286.9 L71.5,286.8 L72,286.8 L72.5,286.7 L73,286.7 L73.5,286.6 L74,286.5 L74.5,286.5 L75,286.4 L75.5,286.3 L76,286.2 L76.5,286.1 L77,286 L77.5,285.8 L78,285.7 L78.5,285.5 L79,285.4 L79.5,285.2 L80,285 L80.5,284.8 L81,284.6 L81.5,284.4 L82,284.2 L82.5,283.9 L83,283.6 L83.5,283.3 L84,283 L84.5,282.7 L85,282.4 L85.5,282 L86,281.6 L86.5,281.2 L87,280.8 L87.5,280.4 L88,279.9 L88.5,279.4 L89,278.9 L89.5,278.4 L90,277.9 L90.5,277.3 L91,276.8 L91.5,276.2 L92,275.6 L92.5,275 L93,274.3 L93.5,273.7 L94,273 L94.5,272.3 L95,271.6 L95.5,270.9 L96,270.2 L96.5,269.5 L97,268.8 L97.5,268 L98,267.3 L98.5,266.6 L99,265.9 L99.5,265.1 L100,264.4 L100.5,263.7 L101,263 L101.5,262.3 L102,261.6 L102.5,261 L103,260.3 L103.5,259.7 L104,259.1 L104.5,258.5 L105,258 L105.5,257.5 L106,257 L106.5,256.5 L107,256.1 L107.5,255.7 L108,255.4 L108.5,255.1 L109,254.8 L109.5,254.6 L110,254.4 L110.5,254.2 L111,254.2 L111.5,254.1 L112,254.1 L112.5,254.1 L113,254.2 L113.5,254.3 L114,254.5 L114.5,254.7 L115,254.9 L115.5,255.2 L116,255.5 L116.5,255.9 L117,256.3 L117.5,256.7 L118,257.2 L118.5,257.7 L119,258.2 L119.5,258.8 L120,259.4 L120.5,260 L121,260.6 L121.5,261.3 L122,262 L122.5,262.6 L123,263.3 L123.5,264.1 L124,264.8 L124.5,265.5 L125,266.2 L125.5,267 L126,267.7 L126.5,268.4 L127,269.2 L127.5,269.9 L128,270.6 L128.5,271.3 L129,272.1 L129.5,272.7 L130,273.4 L130.5,274.1 L131,274.8 L131.5,275.4 L132,276 L132.5,276.6 L133,277.2 L133.5,277.8 L134,278.3 L134.5,278.9 L135,279.4 L135.5,279.9 L136,280.4 L136.5,280.8 L137,281.3 L137.5,281.7 L138,282.1 L138.5,282.5 L139,282.8 L139.5,283.2 L140,283.5 L140.5,283.8 L141,284.1 L141.5,284.4 L142,284.6 L142.5,284.9 L143,285.1 L143.5,285.3 L144,285.5 L144.5,285.7 L145,285.9 L145.5,286 L146,286.2 L146.5,286.3 L147,286.5 L147.5,286.6 L148,286.7 L148.5,286.8 L149,286.9 L149.5,287 L150,287.1 L150.5,287.1 L151,287.2 L151.5,287.3 L152,287.3 L152.5,287.4 L153,287.4 L153.5,287.5 L154,287.5 L154.5,287.6 L155,287.6 L155.5,287.6 L156,287.6 L156.5,287.7 L157,287.7 L157.5,287.7 L158,287.7 L158.5,287.8 L159,287.8 L159.5,287.8 L160,287.8 L160.5,287.8 L161,287.8 L161.5,287.8 L162,287.8 L162.5,287.9 L163,287.9 L163.5,287.9 L164,287.9 L164.5,287.9 L165,287.9 L165.5,287.9 L166,287.9 L166.5,287.9 L167,287.9 L167.5,287.9 L168,287.9 L168.5,287.9 L169,287.9 L169.5,287.9 L170,287.9 L170.5,287.9 L171,288 L171.5,288 L172,288 L172.5,288 L173,288 L173.5,288 L174,288 L174.5,288 L175,288 L175.5,288 L176,288 L176.5,288 L177,288 L177,288 L176.5,288 L176,288 L175.5,288 L175,288 L174.5,288 L174,288 L173.5,288 L173,288 L172.5,288 L172,288 L171.5,288 L171,288 L170.5,288 L170,287.9 L169.5,287.9 L169,287.9 L168.5,287.9 L168,287.9 L167.5,287.9 L167,287.9 L166.5,287.9 L166,287.9 L165.5,287.9 L165,287.9 L164.5,287.9 L164,287.9 L163.5,287.9 L163,287.9 L162.5,287.9 L162,287.9 L161.5,287.9 L161,287.9 L160.5,287.9 L160,287.9 L159.5,287.9 L159,287.9 L158.5,287.9 L158,287.9 L157.5,287.9 L157,287.9 L156.5,287.9 L156,287.9 L155.5,287.9 L155,287.8 L154.5,287.8 L154,287.8 L153.5,287.8 L153,287.8 L152.5,287.8 L152,287.8 L151.5,287.8 L151,287.8 L150.5,287.8 L150,287.8 L149.5,287.8 L149,287.8 L148.5,287.8 L148,287.8 L147.5,287.8 L147,287.8 L146.5,287.8 L146,287.8 L145.5,287.8 L145,287.8 L144.5,287.8 L144,287.8 L143.5,287.8 L143,287.8 L142.5,287.8 L142,287.8 L141.5,287.8 L141,287.8 L140.5,287.8 L140,287.8 L139.5,287.7 L139,287.7 L138.5,287.7 L138,287.7 L137.5,287.7 L137,287.7 L136.5,287.7 L136,287.7 L135.5,287.7 L135,287.7 L134.5,287.7 L134,287.7 L133.5,287.7 L133,287.7 L132.5,287.7 L132,287.7 L131.5,287.7 L131,287.7 L130.5,287.7 L130,287.7 L129.5,287.7 L129,287.7 L128.5,287.7 L128,287.7 L127.5,287.7 L127,287.7 L126.5,287.7 L126,287.7 L125.5,287.7 L125,287.7 L124.5,287.6 L124,287.6 L123.5,287.6 L123,287.6 L122.5,287.6 L122,287.6 L121.5,287.6 L121,287.6 L120.5,287.6 L120,287.6 L119.5,287.6 L119,287.6 L118.5,287.6 L118,287.6 L117.5,287.6 L117,287.6 L116.5,287.6 L116,287.6 L115.5,287.6 L115,287.6 L114.5,287.6 L114,287.6 L113.5,287.6 L113,287.6 L112.5,287.6 L112,287.6 L111.5,287.6 L111,287.6 L110.5,287.6 L110,287.6 L109.5,287.5 L109,287.5 L108.5,287.5 L108,287.5 L107.5,287.5 L107,287.5 L106.5,287.5 L106,287.5 L105.5,287.5 L105,287.5 L104.5,287.5 L104,287.5 L103.5,287.5 L103,287.5 L102.5,287.5 L102,287.5 L101.5,287.5 L101,287.5 L100.5,287.5 L100,287.5 L99.5,287.5 L99,287.5 L98.5,287.5 L98,287.5 L97.5,287.5 L97,287.5 L96.5,287.5 L96,287.5 L95.5,287.5 L95,287.5 L94.5,287.5 L94,287.4 L93.5,287.4 L93,287.4 L92.5,287.4 L92,287.4 L91.5,287.4 L91,287.4 L90.5,287.4 L90,287.4 L89.5,287.4 L89,287.4 L88.5,287.4 L88,287.4 L87.5,287.4 L87,287.4 L86.5,287.4 L86,287.4 L85.5,287.4 L85,287.4 L84.5,287.4 L84,287.4 L83.5,287.4 L83,287.4 L82.5,287.4 L82,287.4 L81.5,287.4 L81,287.4 L80.5,287.4 L80,287.4 L79.5,287.4 L79,287.3 L78.5,287.3 L78,287.3 L77.5,287.3 L77,287.3 L76.5,287.3 L76,287.3 L75.5,287.3 L75,287.3 L74.5,287.3 L74,287.3 L73.5,287.3 L73,287.3 L72.5,287.3 L72,287.3 L71.5,287.3 L71,287.3 L70.5,287.3 L70,287.3 L69.5,287.3 L69,287.3 L68.5,287.3 L68,287.3 L67.5,287.3 L67,287.3 L66.5,287.3 L66,287.3 L65.5,287.3 L65,287.3 L64.5,287.3 L64,287.2 L63.5,287.2 L63,287.2 L62.5,287.2 L62,287.2 L61.5,287.2 L61,287.2 L60.5,287.2 L60,287.2 L59.5,287.2 L59,287.2 L58.5,287.2 L58,287.2 L57.5,287.2 L57,287.2 L56.5,287.2 L56,287.2 L55.5,287.2 L55,287.2 L54.5,287.2 L54,287.2 L53.5,287.2 L53,287.2 L52.5,287.2 L52,287.2 L51.5,287.2 L51,287.2 L50.5,287.2 L50,287.2 L49.5,287.2 L49,287.2 L48.5,287.1 L48,287.1 L47.5,287.1 L47,287.1 L46.5,287.1 L46,287.1 L45.5,287.1 L45,287.1 L44.5,287.1 L44,287.1 L43.5,287.1 L43,287.1 L42.5,287.1 L42,287.1 L41.5,287.1 L41,287.1 L40.5,287.1 L40,287.1 L39.5,287.1 L39,287.1 L38.5,287.1 L38,287.1 L37.5,287.1 L37,287.1 L36.5,287.1 L36,287.1 L35.5,287.1 L35,287.1 L34.5,287.1 L34,287.1 L33.5,287 L33,287 L32.5,287 L32,287 L31.5,287 L31,287 L30.5,287 L30,287 L29.5,287 L29,287 L28.5,287 L28,287 L27.5,287 L27,287 L26.5,287 Z" fill="#548de2" fill-opacity="0.35" stroke="none" clip-path="url(#cd)"/>
<path d="M26.5,287 L27,287 L27.5,287 L28,287 L28.5,287 L29,287 L29.5,287 L30,287 L30.5,287 L31,287 L31.5,287 L32,287 L32.5,287 L33,287 L33.5,287 L34,287.1 L34.5,287.1 L35,287.1 L35.5,287.1 L36,287.1 L36.5,287.1 L37,287.1 L37.5,287.1 L38,287.1 L38.5,287.1 L39,287.1 L39.5,287.1 L40,287.1 L40.5,287.1 L41,287.1 L41.5,287.1 L42,287.1 L42.5,287.1 L43,287.1 L43.5,287.1 L44,287.1 L44.5,287.1 L45,287.1 L45.5,287.1 L46,287.1 L46.5,287.1 L47,287.1 L47.5,287.1 L48,287.1 L48.5,287.1 L49,287.2 L49.5,287.2 L50,287.2 L50.5,287.2 L51,287.2 L51.5,287.2 L52,287.2 L52.5,287.2 L53,287.2 L53.5,287.2 L54,287.2 L54.5,287.2 L55,287.2 L55.5,287.2 L56,287.2 L56.5,287.2 L57,287.2 L57.5,287.2 L58,287.2 L58.5,287.2 L59,287.2 L59.5,287.2 L60,287.2 L60.5,287.2 L61,287.2 L61.5,287.2 L62,287.2 L62.5,287.2 L63,287.2 L63.5,287.2 L64,287.2 L64.5,287.2 L65,287.2 L65.5,287.1 L66,287.1 L66.5,287.1 L67,287.1 L67.5,287.1 L68,287.1 L68.5,287 L69,287 L69.5,287 L70,287 L70.5,286.9 L71,286.9 L71.5,286.8 L72,286.8 L72.5,286.7 L73,286.7 L73.5,286.6 L74,286.5 L74.5,286.5 L75,286.4 L75.5,286.3 L76,286.2 L76.5,286.1 L77,286 L77.5,285.8 L78,285.7 L78.5,285.5 L79,285.4 L79.5,285.2 L80,285 L80.5,284.8 L81,284.6 L81.5,284.4 L82,284.2 L82.5,283.9 L83,283.6 L83.5,283.3 L84,283 L84.5,282.7 L85,282.4 L85.5,282 L86,281.6 L86.5,281.2 L87,280.8 L87.5,280.4 L88,279.9 L88.5,279.4 L89,278.9 L89.5,278.4 L90,277.9 L90.5,277.3 L91,276.8 L91.5,276.2 L92,275.6 L92.5,275 L93,274.3 L93.5,273.7 L94,273 L94.5,272.3 L95,271.6 L95.5,270.9 L96,270.2 L96.5,269.5 L97,268.8 L97.5,268 L98,267.3 L98.5,266.6 L99,265.9 L99.5,265.1 L100,264.4 L100.5,263.7 L101,263 L101.5,262.3 L102,261.6 L102.5,261 L103,260.3 L103.5,259.7 L104,259.1 L104.5,258.5 L105,258 L105.5,257.5 L106,257 L106.5,256.5 L107,256.1 L107.5,255.7 L108,255.4 L108.5,255.1 L109,254.8 L109.5,254.6 L110,254.4 L110.5,254.2 L111,254.2 L111.5,254.1 L112,254.1 L112.5,254.1 L113,254.2 L113.5,254.3 L114,254.5 L114.5,254.7 L115,254.9 L115.5,255.2 L116,255.5 L116.5,255.9 L117,256.3 L117.5,256.7 L118,257.2 L118.5,257.7 L119,258.2 L119.5,258.8 L120,259.4 L120.5,260 L121,260.6 L121.5,261.3 L122,262 L122.5,262.6 L123,263.3 L123.5,264.1 L124,264.8 L124.5,265.5 L125,266.2 L125.5,267 L126,267.7 L126.5,268.4 L127,269.2 L127.5,269.9 L128,270.6 L128.5,271.3 L129,272.1 L129.5,272.7 L130,273.4 L130.5,274.1 L131,274.8 L131.5,275.4 L132,276 L132.5,276.6 L133,277.2 L133.5,277.8 L134,278.3 L134.5,278.9 L135,279.4 L135.5,279.9 L136,280.4 L136.5,280.8 L137,281.3 L137.5,281.7 L138,282.1 L138.5,282.5 L139,282.8 L139.5,283.2 L140,283.5 L140.5,283.8 L141,284.1 L141.5,284.4 L142,284.6 L142.5,284.9 L143,285.1 L143.5,285.3 L144,285.5 L144.5,285.7 L145,285.9 L145.5,286 L146,286.2 L146.5,286.3 L147,286.5 L147.5,286.6 L148,286.7 L148.5,286.8 L149,286.9 L149.5,287 L150,287.1 L150.5,287.1 L151,287.2 L151.5,287.3 L152,287.3 L152.5,287.4 L153,287.4 L153.5,287.5 L154,287.5 L154.5,287.6 L155,287.6 L155.5,287.6 L156,287.6 L156.5,287.7 L157,287.7 L157.5,287.7 L158,287.7 L158.5,287.8 L159,287.8 L159.5,287.8 L160,287.8 L160.5,287.8 L161,287.8 L161.5,287.8 L162,287.8 L162.5,287.9 L163,287.9 L163.5,287.9 L164,287.9 L164.5,287.9 L165,287.9 L165.5,287.9 L166,287.9 L166.5,287.9 L167,287.9 L167.5,287.9 L168,287.9 L168.5,287.9 L169,287.9 L169.5,287.9 L170,287.9 L170.5,287.9 L171,288 L171.5,288 L172,288 L172.5,288 L173,288 L173.5,288 L174,288 L174.5,288 L175,288 L175.5,288 L176,288 L176.5,288 L177,288" fill="none" stroke="#1f6ad8" stroke-width="1.2" clip-path="url(#cd)"/>
<path d="M26.5,286.7 L27,286.7 L27.5,286.7 L28,286.6 L28.5,286.6 L29,286.6 L29.5,286.6 L30,286.6 L30.5,286.6 L31,286.6 L31.5,286.6 L32,286.6 L32.5,286.6 L33,286.6 L33.5,286.6 L34,286.6 L34.5,286.6 L35,286.5 L35.5,286.5 L36,286.5 L36.5,286.5 L37,286.5 L37.5,286.5 L38,286.4 L38.5,286.4 L39,286.4 L39.5,286.4 L40,286.4 L40.5,286.3 L41,286.3 L41.5,286.3 L42,286.2 L42.5,286.2 L43,286.2 L43.5,286.1 L44,286.1 L44.5,286 L45,286 L45.5,286 L46,285.9 L46.5,285.9 L47,285.8 L47.5,285.7 L48,285.7 L48.5,285.6 L49,285.5 L49.5,285.5 L50,285.4 L50.5,285.3 L51,285.2 L51.5,285.1 L52,285 L52.5,284.9 L53,284.8 L53.5,284.7 L54,284.6 L54.5,284.5 L55,284.4 L55.5,284.2 L56,284.1 L56.5,284 L57,283.8 L57.5,283.7 L58,283.5 L58.5,283.4 L59,283.2 L59.5,283.1 L60,282.9 L60.5,282.7 L61,282.6 L61.5,282.4 L62,282.2 L62.5,282 L63,281.8 L63.5,281.6 L64,281.4 L64.5,281.2 L65,281 L65.5,280.8 L66,280.6 L66.5,280.4 L67,280.2 L67.5,280 L68,279.8 L68.5,279.6 L69,279.3 L69.5,279.1 L70,278.9 L70.5,278.7 L71,278.5 L71.5,278.3 L72,278.1 L72.5,277.9 L73,277.7 L73.5,277.6 L74,277.4 L74.5,277.2 L75,277.1 L75.5,276.9 L76,276.8 L76.5,276.6 L77,276.5 L77.5,276.4 L78,276.3 L78.5,276.2 L79,276.1 L79.5,276 L80,276 L80.5,275.9 L81,275.9 L81.5,275.9 L82,275.9 L82.5,275.9 L83,275.9 L83.5,275.9 L84,276 L84.5,276.1 L85,276.1 L85.5,276.2 L86,276.3 L86.5,276.4 L87,276.6 L87.5,276.7 L88,276.8 L88.5,277 L89,277.2 L89.5,277.3 L90,277.5 L90.5,277.7 L91,277.9 L91.5,278.1 L92,278.3 L92.5,278.5 L93,278.7 L93.5,278.9 L94,279.1 L94.5,279.3 L95,279.5 L95.5,279.7 L96,280 L96.5,280.2 L97,280.4 L97.5,280.6 L98,280.8 L98.5,281 L99,281.3 L99.5,281.5 L100,281.7 L100.5,281.9 L101,282.1 L101.5,282.3 L102,282.5 L102.5,282.7 L103,282.8 L103.5,283 L104,283.2 L104.5,283.4 L105,283.5 L105.5,283.7 L106,283.9 L106.5,284 L107,284.2 L107.5,284.3 L108,284.5 L108.5,284.6 L109,284.7 L109.5,284.9 L110,285 L110.5,285.1 L111,285.2 L111.5,285.3 L112,285.4 L112.5,285.5 L113,285.6 L113.5,285.7 L114,285.8 L114.5,285.9 L115,286 L115.5,286 L116,286.1 L116.5,286.2 L117,286.3 L117.5,286.3 L118,286.4 L118.5,286.4 L119,286.5 L119.5,286.5 L120,286.6 L120.5,286.6 L121,286.7 L121.5,286.7 L122,286.8 L122.5,286.8 L123,286.8 L123.5,286.9 L124,286.9 L124.5,286.9 L125,287 L125.5,287 L126,287 L126.5,287 L127,287.1 L127.5,287.1 L128,287.1 L128.5,287.1 L129,287.2 L129.5,287.2 L130,287.2 L130.5,287.2 L131,287.2 L131.5,287.2 L132,287.3 L132.5,287.3 L133,287.3 L133.5,287.3 L134,287.3 L134.5,287.3 L135,287.3 L135.5,287.3 L136,287.4 L136.5,287.4 L137,287.4 L137.5,287.4 L138,287.4 L138.5,287.4 L139,287.4 L139.5,287.4 L140,287.4 L140.5,287.4 L141,287.5 L141.5,287.5 L142,287.5 L142.5,287.5 L143,287.5 L143.5,287.5 L144,287.5 L144.5,287.5 L145,287.5 L145.5,287.5 L146,287.5 L146.5,287.5 L147,287.5 L147.5,287.6 L148,287.6 L148.5,287.6 L149,287.6 L149.5,287.6 L150,287.6 L150.5,287.6 L151,287.6 L151.5,287.6 L152,287.6 L152.5,287.6 L153,287.6 L153.5,287.6 L154,287.6 L154.5,287.6 L155,287.7 L155.5,287.7 L156,287.7 L156.5,287.7 L157,287.7 L157.5,287.7 L158,287.7 L158.5,287.7 L159,287.7 L159.5,287.7 L160,287.7 L160.5,287.7 L161,287.7 L161.5,287.7 L162,287.7 L162.5,287.7 L163,287.7 L163.5,287.7 L164,287.7 L164.5,287.8 L165,287.8 L165.5,287.8 L166,287.8 L166.5,287.8 L167,287.8 L167.5,287.8 L168,287.8 L168.5,287.8 L169,287.8 L169.5,287.8 L170,287.8 L170.5,287.8 L171,287.8 L171.5,287.8 L172,287.8 L172.5,287.8 L173,287.8 L173.5,287.8 L174,287.8 L174.5,287.9 L175,287.9 L175.5,287.9 L176,287.9 L176.5,287.9 L177,287.9 L177,288 L176.5,288 L176,288 L175.5,288 L175,288 L174.5,288 L174,288 L173.5,288 L173,288 L172.5,288 L172,288 L171.5,288 L171,288 L170.5,288 L170,287.9 L169.5,287.9 L169,287.9 L168.5,287.9 L168,287.9 L167.5,287.9 L167,287.9 L166.5,287.9 L166,287.9 L165.5,287.9 L165,287.9 L164.5,287.9 L164,287.9 L163.5,287.9 L163,287.9 L162.5,287.9 L162,287.9 L161.5,287.9 L161,287.9 L160.5,287.9 L160,287.9 L159.5,287.9 L159,287.9 L158.5,287.9 L158,287.9 L157.5,287.9 L157,287.9 L156.5,287.9 L156,287.9 L155.5,287.9 L155,287.8 L154.5,287.8 L154,287.8 L153.5,287.8 L153,287.8 L152.5,287.8 L152,287.8 L151.5,287.8 L151,287.8 L150.5,287.8 L150,287.8 L149.5,287.8 L149,287.8 L148.5,287.8 L148,287.8 L147.5,287.8 L147,287.8 L146.5,287.8 L146,287.8 L145.5,287.8 L145,287.8 L144.5,287.8 L144,287.8 L143.5,287.8 L143,287.8 L142.5,287.8 L142,287.8 L141.5,287.8 L141,287.8 L140.5,287.8 L140,287.8 L139.5,287.7 L139,287.7 L138.5,287.7 L138,287.7 L137.5,287.7 L137,287.7 L136.5,287.7 L136,287.7 L135.5,287.7 L135,287.7 L134.5,287.7 L134,287.7 L133.5,287.7 L133,287.7 L132.5,287.7 L132,287.7 L131.5,287.7 L131,287.7 L130.5,287.7 L130,287.7 L129.5,287.7 L129,287.7 L128.5,287.7 L128,287.7 L127.5,287.7 L127,287.7 L126.5,287.7 L126,287.7 L125.5,287.7 L125,287.7 L124.5,287.6 L124,287.6 L123.5,287.6 L123,287.6 L122.5,287.6 L122,287.6 L121.5,287.6 L121,287.6 L120.5,287.6 L120,287.6 L119.5,287.6 L119,287.6 L118.5,287.6 L118,287.6 L117.5,287.6 L117,287.6 L116.5,287.6 L116,287.6 L115.5,287.6 L115,287.6 L114.5,287.6 L114,287.6 L113.5,287.6 L113,287.6 L112.5,287.6 L112,287.6 L111.5,287.6 L111,287.6 L110.5,287.6 L110,287.6 L109.5,287.5 L109,287.5 L108.5,287.5 L108,287.5 L107.5,287.5 L107,287.5 L106.5,287.5 L106,287.5 L105.5,287.5 L105,287.5 L104.5,287.5 L104,287.5 L103.5,287.5 L103,287.5 L102.5,287.5 L102,287.5 L101.5,287.5 L101,287.5 L100.5,287.5 L100,287.5 L99.5,287.5 L99,287.5 L98.5,287.5 L98,287.5 L97.5,287.5 L97,287.5 L96.5,287.5 L96,287.5 L95.5,287.5 L95,287.5 L94.5,287.5 L94,287.4 L93.5,287.4 L93,287.4 L92.5,287.4 L92,287.4 L91.5,287.4 L91,287.4 L90.5,287.4 L90,287.4 L89.5,287.4 L89,287.4 L88.5,287.4 L88,287.4 L87.5,287.4 L87,287.4 L86.5,287.4 L86,287.4 L85.5,287.4 L85,287.4 L84.5,287.4 L84,287.4 L83.5,287.4 L83,287.4 L82.5,287.4 L82,287.4 L81.5,287.4 L81,287.4 L80.5,287.4 L80,287.4 L79.5,287.4 L79,287.3 L78.5,287.3 L78,287.3 L77.5,287.3 L77,287.3 L76.5,287.3 L76,287.3 L75.5,287.3 L75,287.3 L74.5,287.3 L74,287.3 L73.5,287.3 L73,287.3 L72.5,287.3 L72,287.3 L71.5,287.3 L71,287.3 L70.5,287.3 L70,287.3 L69.5,287.3 L69,287.3 L68.5,287.3 L68,287.3 L67.5,287.3 L67,287.3 L66.5,287.3 L66,287.3 L65.5,287.3 L65,287.3 L64.5,287.3 L64,287.2 L63.5,287.2 L63,287.2 L62.5,287.2 L62,287.2 L61.5,287.2 L61,287.2 L60.5,287.2 L60,287.2 L59.5,287.2 L59,287.2 L58.5,287.2 L58,287.2 L57.5,287.2 L57,287.2 L56.5,287.2 L56,287.2 L55.5,287.2 L55,287.2 L54.5,287.2 L54,287.2 L53.5,287.2 L53,287.2 L52.5,287.2 L52,287.2 L51.5,287.2 L51,287.2 L50.5,287.2 L50,287.2 L49.5,287.2 L49,287.2 L48.5,287.1 L48,287.1 L47.5,287.1 L47,287.1 L46.5,287.1 L46,287.1 L45.5,287.1 L45,287.1 L44.5,287.1 L44,287.1 L43.5,287.1 L43,287.1 L42.5,287.1 L42,287.1 L41.5,287.1 L41,287.1 L40.5,287.1 L40,287.1 L39.5,287.1 L39,287.1 L38.5,287.1 L38,287.1 L37.5,287.1 L37,287.1 L36.5,287.1 L36,287.1 L35.5,287.1 L35,287.1 L34.5,287.1 L34,287.1 L33.5,287 L33,287 L32.5,287 L32,287 L31.5,287 L31,287 L30.5,287 L30,287 L29.5,287 L29,287 L28.5,287 L28,287 L27.5,287 L27,287 L26.5,287 Z" fill="#62c48d" fill-opacity="0.35" stroke="none" clip-path="url(#cd)"/>
<path d="M26.5,286.7 L27,286.7 L27.5,286.7 L28,286.6 L28.5,286.6 L29,286.6 L29.5,286.6 L30,286.6 L30.5,286.6 L31,286.6 L31.5,286.6 L32,286.6 L32.5,286.6 L33,286.6 L33.5,286.6 L34,286.6 L34.5,286.6 L35,286.5 L35.5,286.5 L36,286.5 L36.5,286.5 L37,286.5 L37.5,286.5 L38,286.4 L38.5,286.4 L39,286.4 L39.5,286.4 L40,286.4 L40.5,286.3 L41,286.3 L41.5,286.3 L42,286.2 L42.5,286.2 L43,286.2 L43.5,286.1 L44,286.1 L44.5,286 L45,286 L45.5,286 L46,285.9 L46.5,285.9 L47,285.8 L47.5,285.7 L48,285.7 L48.5,285.6 L49,285.5 L49.5,285.5 L50,285.4 L50.5,285.3 L51,285.2 L51.5,285.1 L52,285 L52.5,284.9 L53,284.8 L53.5,284.7 L54,284.6 L54.5,284.5 L55,284.4 L55.5,284.2 L56,284.1 L56.5,284 L57,283.8 L57.5,283.7 L58,283.5 L58.5,283.4 L59,283.2 L59.5,283.1 L60,282.9 L60.5,282.7 L61,282.6 L61.5,282.4 L62,282.2 L62.5,282 L63,281.8 L63.5,281.6 L64,281.4 L64.5,281.2 L65,281 L65.5,280.8 L66,280.6 L66.5,280.4 L67,280.2 L67.5,280 L68,279.8 L68.5,279.6 L69,279.3 L69.5,279.1 L70,278.9 L70.5,278.7 L71,278.5 L71.5,278.3 L72,278.1 L72.5,277.9 L73,277.7 L73.5,277.6 L74,277.4 L74.5,277.2 L75,277.1 L75.5,276.9 L76,276.8 L76.5,276.6 L77,276.5 L77.5,276.4 L78,276.3 L78.5,276.2 L79,276.1 L79.5,276 L80,276 L80.5,275.9 L81,275.9 L81.5,275.9 L82,275.9 L82.5,275.9 L83,275.9 L83.5,275.9 L84,276 L84.5,276.1 L85,276.1 L85.5,276.2 L86,276.3 L86.5,276.4 L87,276.6 L87.5,276.7 L88,276.8 L88.5,277 L89,277.2 L89.5,277.3 L90,277.5 L90.5,277.7 L91,277.9 L91.5,278.1 L92,278.3 L92.5,278.5 L93,278.7 L93.5,278.9 L94,279.1 L94.5,279.3 L95,279.5 L95.5,279.7 L96,280 L96.5,280.2 L97,280.4 L97.5,280.6 L98,280.8 L98.5,281 L99,281.3 L99.5,281.5 L100,281.7 L100.5,281.9 L101,282.1 L101.5,282.3 L102,282.5 L102.5,282.7 L103,282.8 L103.5,283 L104,283.2 L104.5,283.4 L105,283.5 L105.5,283.7 L106,283.9 L106.5,284 L107,284.2 L107.5,284.3 L108,284.5 L108.5,284.6 L109,284.7 L109.5,284.9 L110,285 L110.5,285.1 L111,285.2 L111.5,285.3 L112,285.4 L112.5,285.5 L113,285.6 L113.5,285.7 L114,285.8 L114.5,285.9 L115,286 L115.5,286 L116,286.1 L116.5,286.2 L117,286.3 L117.5,286.3 L118,286.4 L118.5,286.4 L119,286.5 L119.5,286.5 L120,286.6 L120.5,286.6 L121,286.7 L121.5,286.7 L122,286.8 L122.5,286.8 L123,286.8 L123.5,286.9 L124,286.9 L124.5,286.9 L125,287 L125.5,287 L126,287 L126.5,287 L127,287.1 L127.5,287.1 L128,287.1 L128.5,287.1 L129,287.2 L129.5,287.2 L130,287.2 L130.5,287.2 L131,287.2 L131.5,287.2 L132,287.3 L132.5,287.3 L133,287.3 L133.5,287.3 L134,287.3 L134.5,287.3 L135,287.3 L135.5,287.3 L136,287.4 L136.5,287.4 L137,287.4 L137.5,287.4 L138,287.4 L138.5,287.4 L139,287.4 L139.5,287.4 L140,287.4 L140.5,287.4 L141,287.5 L141.5,287.5 L142,287.5 L142.5,287.5 L143,287.5 L143.5,287.5 L144,287.5 L144.5,287.5 L145,287.5 L145.5,287.5 L146,287.5 L146.5,287.5 L147,287.5 L147.5,287.6 L148,287.6 L148.5,287.6 L149,287.6 L149.5,287.6 L150,287.6 L150.5,287.6 L151,287.6 L151.5,287.6 L152,287.6 L152.5,287.6 L153,287.6 L153.5,287.6 L154,287.6 L154.5,287.6 L155,287.7 L155.5,287.7 L156,287.7 L156.5,287.7 L157,287.7 L157.5,287.7 L158,287.7 L158.5,287.7 L159,287.7 L159.5,287.7 L160,287.7 L160.5,287.7 L161,287.7 L161.5,287.7 L162,287.7 L162.5,287.7 L163,287.7 L163.5,287.7 L164,287.7 L164.5,287.8 L165,287.8 L165.5,287.8 L166,287.8 L166.5,287.8 L167,287.8 L167.5,287.8 L168,287.8 L168.5,287.8 L169,287.8 L169.5,287.8 L170,287.8 L170.5,287.8 L171,287.8 L171.5,287.8 L172,287.8 L172.5,287.8 L173,287.8 L173.5,287.8 L174,287.8 L174.5,287.9 L175,287.9 L175.5,287.9 L176,287.9 L176.5,287.9 L177,287.9" fill="none" stroke="#2fa35e" stroke-width="1.2" clip-path="url(#cd)"/>
<path d="M26.5,287 L27,287 L27.5,287 L28,287 L28.5,287 L29,287 L29.5,287 L30,287 L30.5,287 L31,287 L31.5,287 L32,287 L32.5,287 L33,287 L33.5,287 L34,287.1 L34.5,287.1 L35,287.1 L35.5,287.1 L36,287.1 L36.5,287.1 L37,287.1 L37.5,287.1 L38,287.1 L38.5,287.1 L39,287.1 L39.5,287.1 L40,287.1 L40.5,287.1 L41,287.1 L41.5,287.1 L42,287.1 L42.5,287.1 L43,287.1 L43.5,287.1 L44,287.1 L44.5,287.1 L45,287.1 L45.5,287.1 L46,287.1 L46.5,287.1 L47,287.1 L47.5,287.1 L48,287.1 L48.5,287.1 L49,287.2 L49.5,287.2 L50,287.2 L50.5,287.2 L51,287.2 L51.5,287.2 L52,287.2 L52.5,287.2 L53,287.2 L53.5,287.2 L54,287.2 L54.5,287.2 L55,287.2 L55.5,287.2 L56,287.2 L56.5,287.2 L57,287.2 L57.5,287.2 L58,287.2 L58.5,287.2 L59,287.2 L59.5,287.2 L60,287.2 L60.5,287.2 L61,287.2 L61.5,287.2 L62,287.2 L62.5,287.2 L63,287.2 L63.5,287.2 L64,287.2 L64.5,287.3 L65,287.3 L65.5,287.3 L66,287.3 L66.5,287.3 L67,287.3 L67.5,287.3 L68,287.3 L68.5,287.3 L69,287.3 L69.5,287.3 L70,287.3 L70.5,287.3 L71,287.3 L71.5,287.3 L72,287.3 L72.5,287.3 L73,287.3 L73.5,287.3 L74,287.3 L74.5,287.3 L75,287.3 L75.5,287.3 L76,287.3 L76.5,287.3 L77,287.3 L77.5,287.3 L78,287.3 L78.5,287.3 L79,287.3 L79.5,287.4 L80,287.4 L80.5,287.4 L81,287.4 L81.5,287.4 L82,287.4 L82.5,287.4 L83,287.4 L83.5,287.4 L84,287.4 L84.5,287.4 L85,287.4 L85.5,287.4 L86,287.4 L86.5,287.4 L87,287.4 L87.5,287.4 L88,287.4 L88.5,287.4 L89,287.4 L89.5,287.4 L90,287.4 L90.5,287.4 L91,287.4 L91.5,287.4 L92,287.4 L92.5,287.4 L93,287.4 L93.5,287.4 L94,287.4 L94.5,287.5 L95,287.5 L95.5,287.5 L96,287.5 L96.5,287.5 L97,287.5 L97.5,287.5 L98,287.5 L98.5,287.5 L99,287.5 L99.5,287.5 L100,287.5 L100.5,287.5 L101,287.5 L101.5,287.5 L102,287.5 L102.5,287.5 L103,287.5 L103.5,287.5 L104,287.5 L104.5,287.5 L105,287.5 L105.5,287.5 L106,287.5 L106.5,287.5 L107,287.5 L107.5,287.5 L108,287.5 L108.5,287.5 L109,287.5 L109.5,287.5 L110,287.6 L110.5,287.6 L111,287.6 L111.5,287.6 L112,287.6 L112.5,287.6 L113,287.6 L113.5,287.6 L114,287.6 L114.5,287.6 L115,287.6 L115.5,287.6 L116,287.6 L116.5,287.6 L117,287.6 L117.5,287.6 L118,287.6 L118.5,287.6 L119,287.6 L119.5,287.6 L120,287.6 L120.5,287.6 L121,287.6 L121.5,287.6 L122,287.6 L122.5,287.6 L123,287.6 L123.5,287.6 L124,287.6 L124.5,287.6 L125,287.7 L125.5,287.7 L126,287.7 L126.5,287.7 L127,287.7 L127.5,287.7 L128,287.7 L128.5,287.7 L129,287.7 L129.5,287.7 L130,287.7 L130.5,287.7 L131,287.7 L131.5,287.7 L132,287.7 L132.5,287.7 L133,287.7 L133.5,287.7 L134,287.7 L134.5,287.7 L135,287.7 L135.5,287.7 L136,287.7 L136.5,287.7 L137,287.7 L137.5,287.7 L138,287.7 L138.5,287.7 L139,287.7 L139.5,287.7 L140,287.8 L140.5,287.8 L141,287.8 L141.5,287.8 L142,287.8 L142.5,287.8 L143,287.8 L143.5,287.8 L144,287.8 L144.5,287.8 L145,287.8 L145.5,287.8 L146,287.8 L146.5,287.8 L147,287.8 L147.5,287.8 L148,287.8 L148.5,287.8 L149,287.8 L149.5,287.8 L150,287.8 L150.5,287.8 L151,287.8 L151.5,287.8 L152,287.8 L152.5,287.8 L153,287.8 L153.5,287.8 L154,287.8 L154.5,287.8 L155,287.8 L155.5,287.9 L156,287.9 L156.5,287.9 L157,287.9 L157.5,287.9 L158,287.9 L158.5,287.9 L159,287.9 L159.5,287.9 L160,287.9 L160.5,287.9 L161,287.9 L161.5,287.9 L162,287.9 L162.5,287.9 L163,287.9 L163.5,287.9 L164,287.9 L164.5,287.9 L165,287.9 L165.5,287.9 L166,287.9 L166.5,287.9 L167,287.9 L167.5,287.9 L168,287.9 L168.5,287.9 L169,287.9 L169.5,287.9 L170,287.9 L170.5,288 L171,288 L171.5,288 L172,288 L172.5,288 L173,288 L173.5,288 L174,288 L174.5,288 L175,288 L175.5,288 L176,288 L176.5,288 L177,288" fill="none" stroke="#a678e8" stroke-width="1.7" clip-path="url(#cd)"/>
<path d="M26.5,286.9 L27,286.9 L27.5,286.9 L28,286.9 L28.5,286.9 L29,286.9 L29.5,286.9 L30,286.9 L30.5,286.8 L31,286.8 L31.5,286.8 L32,286.8 L32.5,286.8 L33,286.7 L33.5,286.7 L34,286.7 L34.5,286.7 L35,286.6 L35.5,286.6 L36,286.6 L36.5,286.5 L37,286.5 L37.5,286.4 L38,286.4 L38.5,286.3 L39,286.3 L39.5,286.2 L40,286.2 L40.5,286.1 L41,286 L41.5,286 L42,285.9 L42.5,285.8 L43,285.7 L43.5,285.7 L44,285.6 L44.5,285.5 L45,285.4 L45.5,285.3 L46,285.2 L46.5,285.1 L47,285 L47.5,284.9 L48,284.8 L48.5,284.7 L49,284.5 L49.5,284.4 L50,284.3 L50.5,284.2 L51,284 L51.5,283.9 L52,283.8 L52.5,283.6 L53,283.5 L53.5,283.3 L54,283.2 L54.5,283 L55,282.8 L55.5,282.7 L56,282.5 L56.5,282.3 L57,282.1 L57.5,281.9 L58,281.7 L58.5,281.5 L59,281.3 L59.5,281 L60,280.8 L60.5,280.5 L61,280.2 L61.5,279.9 L62,279.6 L62.5,279.3 L63,278.9 L63.5,278.5 L64,278.1 L64.5,277.7 L65,277.3 L65.5,276.8 L66,276.3 L66.5,275.8 L67,275.2 L67.5,274.6 L68,274 L68.5,273.3 L69,272.6 L69.5,271.8 L70,271 L70.5,270.2 L71,269.3 L71.5,268.4 L72,267.5 L72.5,266.5 L73,265.4 L73.5,264.3 L74,263.2 L74.5,262 L75,260.8 L75.5,259.5 L76,258.2 L76.5,256.8 L77,255.4 L77.5,253.9 L78,252.4 L78.5,250.9 L79,249.4 L79.5,247.8 L80,246.1 L80.5,244.5 L81,242.8 L81.5,241.1 L82,239.4 L82.5,237.7 L83,235.9 L83.5,234.2 L84,232.4 L84.5,230.7 L85,228.9 L85.5,227.2 L86,225.5 L86.5,223.8 L87,222.1 L87.5,220.5 L88,218.8 L88.5,217.3 L89,215.7 L89.5,214.2 L90,212.8 L90.5,211.4 L91,210.1 L91.5,208.8 L92,207.6 L92.5,206.5 L93,205.4 L93.5,204.4 L94,203.5 L94.5,202.7 L95,202 L95.5,201.3 L96,200.7 L96.5,200.2 L97,199.8 L97.5,199.5 L98,199.3 L98.5,199.2 L99,199.2 L99.5,199.2 L100,199.4 L100.5,199.6 L101,199.9 L101.5,200.3 L102,200.8 L102.5,201.3 L103,202 L103.5,202.7 L104,203.4 L104.5,204.3 L105,205.2 L105.5,206.2 L106,207.2 L106.5,208.3 L107,209.5 L107.5,210.7 L108,212 L108.5,213.3 L109,214.6 L109.5,216 L110,217.4 L110.5,218.8 L111,220.3 L111.5,221.7 L112,223.2 L112.5,224.8 L113,226.3 L113.5,227.8 L114,229.4 L114.5,230.9 L115,232.5 L115.5,234 L116,235.6 L116.5,237.1 L117,238.6 L117.5,240.2 L118,241.7 L118.5,243.2 L119,244.6 L119.5,246.1 L120,247.5 L120.5,249 L121,250.4 L121.5,251.7 L122,253.1 L122.5,254.4 L123,255.7 L123.5,257 L124,258.2 L124.5,259.4 L125,260.6 L125.5,261.7 L126,262.9 L126.5,263.9 L127,265 L127.5,266 L128,267 L128.5,268 L129,268.9 L129.5,269.8 L130,270.7 L130.5,271.6 L131,272.4 L131.5,273.2 L132,273.9 L132.5,274.6 L133,275.3 L133.5,276 L134,276.7 L134.5,277.3 L135,277.9 L135.5,278.4 L136,279 L136.5,279.5 L137,280 L137.5,280.4 L138,280.9 L138.5,281.3 L139,281.7 L139.5,282.1 L140,282.5 L140.5,282.8 L141,283.1 L141.5,283.5 L142,283.7 L142.5,284 L143,284.3 L143.5,284.5 L144,284.8 L144.5,285 L145,285.2 L145.5,285.4 L146,285.6 L146.5,285.7 L147,285.9 L147.5,286 L148,286.2 L148.5,286.3 L149,286.4 L149.5,286.5 L150,286.6 L150.5,286.7 L151,286.8 L151.5,286.9 L152,287 L152.5,287.1 L153,287.1 L153.5,287.2 L154,287.3 L154.5,287.3 L155,287.4 L155.5,287.4 L156,287.5 L156.5,287.5 L157,287.5 L157.5,287.6 L158,287.6 L158.5,287.6 L159,287.6 L159.5,287.7 L160,287.7 L160.5,287.7 L161,287.7 L161.5,287.8 L162,287.8 L162.5,287.8 L163,287.8 L163.5,287.8 L164,287.8 L164.5,287.8 L165,287.9 L165.5,287.9 L166,287.9 L166.5,287.9 L167,287.9 L167.5,287.9 L168,287.9 L168.5,287.9 L169,287.9 L169.5,287.9 L170,287.9 L170.5,287.9 L171,287.9 L171.5,287.9 L172,287.9 L172.5,288 L173,288 L173.5,288 L174,288 L174.5,288 L175,288 L175.5,288 L176,288 L176.5,288 L177,288" fill="none" stroke="#465068" stroke-width="1.2" clip-path="url(#cd)"/>
<path d="M26.5,286.9 L27,286.9 L27.5,286.9 L28,286.9 L28.5,286.9 L29,286.9 L29.5,286.9 L30,286.9 L30.5,286.8 L31,286.8 L31.5,286.8 L32,286.8 L32.5,286.8 L33,286.7 L33.5,286.7 L34,286.7 L34.5,286.7 L35,286.6 L35.5,286.6 L36,286.6 L36.5,286.5 L37,286.5 L37.5,286.4 L38,286.4 L38.5,286.3 L39,286.3 L39.5,286.2 L40,286.2 L40.5,286.1 L41,286 L41.5,286 L42,285.9 L42.5,285.8 L43,285.7 L43.5,285.7 L44,285.6 L44.5,285.5 L45,285.4 L45.5,285.3 L46,285.2 L46.5,285.1 L47,285 L47.5,284.9 L48,284.8 L48.5,284.7 L49,284.5 L49.5,284.4 L50,284.3 L50.5,284.2 L51,284 L51.5,283.9 L52,283.8 L52.5,283.6 L53,283.5 L53.5,283.3 L54,283.2 L54.5,283 L55,282.8 L55.5,282.7 L56,282.5 L56.5,282.3 L57,282.1 L57.5,281.9 L58,281.7 L58.5,281.5 L59,281.3 L59.5,281 L60,280.8 L60.5,280.5 L61,280.2 L61.5,279.9 L62,279.6 L62.5,279.3 L63,278.9 L63.5,278.5 L64,278.1 L64.5,277.7 L65,277.3 L65.5,276.8 L66,276.3 L66.5,275.8 L67,275.2 L67.5,274.6 L68,274 L68.5,273.3 L69,272.6 L69.5,271.8 L70,271 L70.5,270.2 L71,269.3 L71.5,268.4 L72,267.5 L72.5,266.5 L73,265.4 L73.5,264.3 L74,263.2 L74.5,262 L75,260.8 L75.5,259.5 L76,258.2 L76.5,256.8 L77,255.4 L77.5,253.9 L78,252.4 L78.5,250.9 L79,249.4 L79.5,247.8 L80,246.1 L80.5,244.5 L81,242.8 L81.5,241.1 L82,239.4 L82.5,237.7 L83,235.9 L83.5,234.2 L84,232.4 L84.5,230.7 L85,228.9 L85.5,227.2 L86,225.5 L86.5,223.8 L87,222.1 L87.5,220.5 L88,218.8 L88.5,217.3 L89,215.7 L89.5,214.2 L90,212.8 L90.5,211.4 L91,210.1 L91.5,208.8 L92,207.6 L92.5,206.5 L93,205.4 L93.5,204.4 L94,203.5 L94.5,202.7 L95,202 L95.5,201.3 L96,200.7 L96.5,200.2 L97,199.8 L97.5,199.5 L98,199.3 L98.5,199.2 L99,199.2 L99.5,199.2 L100,199.4 L100.5,199.6 L101,199.9 L101.5,200.3 L102,200.8 L102.5,201.3 L103,202 L103.5,202.7 L104,203.4 L104.5,204.3 L105,205.2 L105.5,206.2 L106,207.2 L106.5,208.3 L107,209.5 L107.5,210.7 L108,212 L108.5,213.3 L109,214.6 L109.5,216 L110,217.4 L110.5,218.8 L111,220.3 L111.5,221.7 L112,223.2 L112.5,224.8 L113,226.3 L113.5,227.8 L114,229.4 L114.5,230.9 L115,232.5 L115.5,234 L116,235.6 L116.5,237.1 L117,238.6 L117.5,240.2 L118,241.7 L118.5,243.2 L119,244.6 L119.5,246.1 L120,247.5 L120.5,249 L121,250.4 L121.5,251.7 L122,253.1 L122.5,254.4 L123,255.7 L123.5,257 L124,258.2 L124.5,259.4 L125,260.6 L125.5,261.7 L126,262.9 L126.5,263.9 L127,265 L127.5,266 L128,267 L128.5,268 L129,268.9 L129.5,269.8 L130,270.7 L130.5,271.6 L131,272.4 L131.5,273.2 L132,273.9 L132.5,274.6 L133,275.3 L133.5,276 L134,276.7 L134.5,277.3 L135,277.9 L135.5,278.4 L136,279 L136.5,279.5 L137,280 L137.5,280.4 L138,280.9 L138.5,281.3 L139,281.7 L139.5,282.1 L140,282.5 L140.5,282.8 L141,283.1 L141.5,283.5 L142,283.7 L142.5,284 L143,284.3 L143.5,284.5 L144,284.8 L144.5,285 L145,285.2 L145.5,285.4 L146,285.6 L146.5,285.7 L147,285.9 L147.5,286 L148,286.2 L148.5,286.3 L149,286.4 L149.5,286.5 L150,286.6 L150.5,286.7 L151,286.8 L151.5,286.9 L152,287 L152.5,287.1 L153,287.1 L153.5,287.2 L154,287.3 L154.5,287.3 L155,287.4 L155.5,287.4 L156,287.5 L156.5,287.5 L157,287.5 L157.5,287.6 L158,287.6 L158.5,287.6 L159,287.6 L159.5,287.7 L160,287.7 L160.5,287.7 L161,287.7 L161.5,287.8 L162,287.8 L162.5,287.8 L163,287.8 L163.5,287.8 L164,287.8 L164.5,287.8 L165,287.9 L165.5,287.9 L166,287.9 L166.5,287.9 L167,287.9 L167.5,287.9 L168,287.9 L168.5,287.9 L169,287.9 L169.5,287.9 L170,287.9 L170.5,287.9 L171,287.9 L171.5,287.9 L172,287.9 L172.5,288 L173,288 L173.5,288 L174,288 L174.5,288 L175,288 L175.5,288 L176,288 L176.5,288 L177,288" fill="none" stroke="#f2841e" stroke-width="1.2" stroke-dasharray="3.2 2.3" clip-path="url(#cd)"/>
<clipPath id="ce"><rect x="208.2" y="170.4" width="150.8" height="121.3"/></clipPath>
<path d="M208.2,285.2 L208.7,285.2 L209.2,285.2 L209.7,285.2 L210.2,285.2 L210.7,285.2 L211.2,285.2 L211.7,285.2 L212.2,285.2 L212.7,285.2 L213.2,285.2 L213.7,285.2 L214.2,285.2 L214.7,285.2 L215.2,285.2 L215.7,285.2 L216.2,285.2 L216.7,285.3 L217.2,285.3 L217.7,285.3 L218.2,285.3 L218.7,285.3 L219.2,285.3 L219.7,285.3 L220.2,285.3 L220.7,285.3 L221.2,285.3 L221.7,285.3 L222.2,285.3 L222.7,285.3 L223.2,285.3 L223.7,285.3 L224.2,285.3 L224.7,285.3 L225.2,285.3 L225.7,285.3 L226.2,285.3 L226.7,285.3 L227.2,285.3 L227.7,285.3 L228.2,285.3 L228.7,285.3 L229.2,285.3 L229.7,285.3 L230.2,285.3 L230.7,285.3 L231.2,285.3 L231.7,285.3 L232.2,285.3 L232.7,285.3 L233.2,285.3 L233.7,285.3 L234.2,285.3 L234.7,285.3 L235.2,285.3 L235.7,285.3 L236.2,285.3 L236.7,285.3 L237.2,285.3 L237.7,285.3 L238.2,285.3 L238.7,285.3 L239.2,285.2 L239.7,285.2 L240.2,285.2 L240.7,285.2 L241.2,285.1 L241.7,285.1 L242.2,285 L242.7,285 L243.2,284.9 L243.7,284.9 L244.2,284.8 L244.7,284.7 L245.2,284.6 L245.7,284.5 L246.2,284.4 L246.7,284.3 L247.2,284.1 L247.7,284 L248.2,283.8 L248.7,283.6 L249.2,283.4 L249.7,283.2 L250.2,283 L250.7,282.7 L251.2,282.4 L251.7,282.1 L252.2,281.8 L252.7,281.4 L253.2,281 L253.7,280.6 L254.2,280.1 L254.7,279.6 L255.2,279.1 L255.7,278.5 L256.2,277.9 L256.7,277.3 L257.2,276.6 L257.7,275.9 L258.2,275.1 L258.7,274.3 L259.2,273.5 L259.7,272.6 L260.2,271.7 L260.7,270.7 L261.2,269.7 L261.7,268.6 L262.2,267.5 L262.7,266.4 L263.2,265.2 L263.7,264 L264.2,262.8 L264.7,261.5 L265.2,260.2 L265.7,258.9 L266.2,257.6 L266.7,256.2 L267.2,254.8 L267.7,253.4 L268.2,252.1 L268.7,250.7 L269.2,249.3 L269.7,247.9 L270.2,246.5 L270.7,245.2 L271.2,243.9 L271.7,242.6 L272.2,241.3 L272.7,240.1 L273.2,238.9 L273.7,237.8 L274.2,236.7 L274.7,235.7 L275.2,234.8 L275.7,233.9 L276.2,233.1 L276.7,232.4 L277.2,231.7 L277.7,231.2 L278.2,230.7 L278.7,230.4 L279.2,230.1 L279.7,229.9 L280.2,229.8 L280.7,229.8 L281.2,229.9 L281.7,230.1 L282.2,230.4 L282.7,230.8 L283.2,231.2 L283.7,231.8 L284.2,232.5 L284.7,233.2 L285.2,234 L285.7,234.9 L286.2,235.8 L286.7,236.9 L287.2,237.9 L287.7,239.1 L288.2,240.2 L288.7,241.5 L289.2,242.8 L289.7,244.1 L290.2,245.4 L290.7,246.7 L291.2,248.1 L291.7,249.5 L292.2,250.9 L292.7,252.3 L293.2,253.7 L293.7,255.1 L294.2,256.5 L294.7,257.9 L295.2,259.2 L295.7,260.5 L296.2,261.8 L296.7,263.1 L297.2,264.4 L297.7,265.6 L298.2,266.8 L298.7,267.9 L299.2,269 L299.7,270.1 L300.2,271.1 L300.7,272.1 L301.2,273 L301.7,273.9 L302.2,274.7 L302.7,275.5 L303.2,276.3 L303.7,277 L304.2,277.7 L304.7,278.4 L305.2,279 L305.7,279.6 L306.2,280.1 L306.7,280.6 L307.2,281.1 L307.7,281.5 L308.2,281.9 L308.7,282.3 L309.2,282.6 L309.7,283 L310.2,283.3 L310.7,283.5 L311.2,283.8 L311.7,284 L312.2,284.2 L312.7,284.4 L313.2,284.6 L313.7,284.8 L314.2,284.9 L314.7,285 L315.2,285.2 L315.7,285.3 L316.2,285.4 L316.7,285.5 L317.2,285.5 L317.7,285.6 L318.2,285.7 L318.7,285.7 L319.2,285.8 L319.7,285.9 L320.2,285.9 L320.7,285.9 L321.2,286 L321.7,286 L322.2,286 L322.7,286.1 L323.2,286.1 L323.7,286.1 L324.2,286.1 L324.7,286.1 L325.2,286.2 L325.7,286.2 L326.2,286.2 L326.7,286.2 L327.2,286.2 L327.7,286.2 L328.2,286.2 L328.7,286.2 L329.2,286.3 L329.7,286.3 L330.2,286.3 L330.7,286.3 L331.2,286.3 L331.7,286.3 L332.2,286.3 L332.7,286.3 L333.2,286.3 L333.7,286.3 L334.2,286.3 L334.7,286.3 L335.2,286.3 L335.7,286.3 L336.2,286.3 L336.7,286.4 L337.2,286.4 L337.7,286.4 L338.2,286.4 L338.7,286.4 L339.2,286.4 L339.7,286.4 L340.2,286.4 L340.7,286.4 L341.2,286.4 L341.7,286.4 L342.2,286.4 L342.7,286.4 L343.2,286.4 L343.7,286.4 L344.2,286.4 L344.7,286.4 L345.2,286.4 L345.7,286.4 L346.2,286.5 L346.7,286.5 L347.2,286.5 L347.7,286.5 L348.2,286.5 L348.7,286.5 L349.2,286.5 L349.7,286.5 L350.2,286.5 L350.7,286.5 L351.2,286.5 L351.7,286.5 L352.2,286.5 L352.7,286.5 L353.2,286.5 L353.7,286.5 L354.2,286.5 L354.7,286.5 L355.2,286.5 L355.7,286.5 L356.2,286.6 L356.7,286.6 L357.2,286.6 L357.7,286.6 L358.2,286.6 L358.7,286.6 L358.7,286.6 L358.2,286.6 L357.7,286.6 L357.2,286.6 L356.7,286.6 L356.2,286.6 L355.7,286.6 L355.2,286.6 L354.7,286.6 L354.2,286.6 L353.7,286.6 L353.2,286.6 L352.7,286.6 L352.2,286.5 L351.7,286.5 L351.2,286.5 L350.7,286.5 L350.2,286.5 L349.7,286.5 L349.2,286.5 L348.7,286.5 L348.2,286.5 L347.7,286.5 L347.2,286.5 L346.7,286.5 L346.2,286.5 L345.7,286.5 L345.2,286.5 L344.7,286.5 L344.2,286.5 L343.7,286.5 L343.2,286.5 L342.7,286.5 L342.2,286.5 L341.7,286.4 L341.2,286.4 L340.7,286.4 L340.2,286.4 L339.7,286.4 L339.2,286.4 L338.7,286.4 L338.2,286.4 L337.7,286.4 L337.2,286.4 L336.7,286.4 L336.2,286.4 L335.7,286.4 L335.2,286.4 L334.7,286.4 L334.2,286.4 L333.7,286.4 L333.2,286.4 L332.7,286.4 L332.2,286.4 L331.7,286.4 L331.2,286.4 L330.7,286.3 L330.2,286.3 L329.7,286.3 L329.2,286.3 L328.7,286.3 L328.2,286.3 L327.7,286.3 L327.2,286.3 L326.7,286.3 L326.2,286.3 L325.7,286.3 L325.2,286.3 L324.7,286.3 L324.2,286.3 L323.7,286.3 L323.2,286.3 L322.7,286.3 L322.2,286.3 L321.7,286.3 L321.2,286.3 L320.7,286.3 L320.2,286.2 L319.7,286.2 L319.2,286.2 L318.7,286.2 L318.2,286.2 L317.7,286.2 L317.2,286.2 L316.7,286.2 L316.2,286.2 L315.7,286.2 L315.2,286.2 L314.7,286.2 L314.2,286.2 L313.7,286.2 L313.2,286.2 L312.7,286.2 L312.2,286.2 L311.7,286.2 L311.2,286.2 L310.7,286.2 L310.2,286.2 L309.7,286.2 L309.2,286.1 L308.7,286.1 L308.2,286.1 L307.7,286.1 L307.2,286.1 L306.7,286.1 L306.2,286.1 L305.7,286.1 L305.2,286.1 L304.7,286.1 L304.2,286.1 L303.7,286.1 L303.2,286.1 L302.7,286.1 L302.2,286.1 L301.7,286.1 L301.2,286.1 L300.7,286.1 L300.2,286.1 L299.7,286.1 L299.2,286.1 L298.7,286.1 L298.2,286 L297.7,286 L297.2,286 L296.7,286 L296.2,286 L295.7,286 L295.2,286 L294.7,286 L294.2,286 L293.7,286 L293.2,286 L292.7,286 L292.2,286 L291.7,286 L291.2,286 L290.7,286 L290.2,286 L289.7,286 L289.2,286 L288.7,286 L288.2,286 L287.7,285.9 L287.2,285.9 L286.7,285.9 L286.2,285.9 L285.7,285.9 L285.2,285.9 L284.7,285.9 L284.2,285.9 L283.7,285.9 L283.2,285.9 L282.7,285.9 L282.2,285.9 L281.7,285.9 L281.2,285.9 L280.7,285.9 L280.2,285.9 L279.7,285.9 L279.2,285.9 L278.7,285.9 L278.2,285.9 L277.7,285.9 L277.2,285.9 L276.7,285.8 L276.2,285.8 L275.7,285.8 L275.2,285.8 L274.7,285.8 L274.2,285.8 L273.7,285.8 L273.2,285.8 L272.7,285.8 L272.2,285.8 L271.7,285.8 L271.2,285.8 L270.7,285.8 L270.2,285.8 L269.7,285.8 L269.2,285.8 L268.7,285.8 L268.2,285.8 L267.7,285.8 L267.2,285.8 L266.7,285.8 L266.2,285.7 L265.7,285.7 L265.2,285.7 L264.7,285.7 L264.2,285.7 L263.7,285.7 L263.2,285.7 L262.7,285.7 L262.2,285.7 L261.7,285.7 L261.2,285.7 L260.7,285.7 L260.2,285.7 L259.7,285.7 L259.2,285.7 L258.7,285.7 L258.2,285.7 L257.7,285.7 L257.2,285.7 L256.7,285.7 L256.2,285.7 L255.7,285.7 L255.2,285.6 L254.7,285.6 L254.2,285.6 L253.7,285.6 L253.2,285.6 L252.7,285.6 L252.2,285.6 L251.7,285.6 L251.2,285.6 L250.7,285.6 L250.2,285.6 L249.7,285.6 L249.2,285.6 L248.7,285.6 L248.2,285.6 L247.7,285.6 L247.2,285.6 L246.7,285.6 L246.2,285.6 L245.7,285.6 L245.2,285.6 L244.7,285.5 L244.2,285.5 L243.7,285.5 L243.2,285.5 L242.7,285.5 L242.2,285.5 L241.7,285.5 L241.2,285.5 L240.7,285.5 L240.2,285.5 L239.7,285.5 L239.2,285.5 L238.7,285.5 L238.2,285.5 L237.7,285.5 L237.2,285.5 L236.7,285.5 L236.2,285.5 L235.7,285.5 L235.2,285.5 L234.7,285.5 L234.2,285.5 L233.7,285.4 L233.2,285.4 L232.7,285.4 L232.2,285.4 L231.7,285.4 L231.2,285.4 L230.7,285.4 L230.2,285.4 L229.7,285.4 L229.2,285.4 L228.7,285.4 L228.2,285.4 L227.7,285.4 L227.2,285.4 L226.7,285.4 L226.2,285.4 L225.7,285.4 L225.2,285.4 L224.7,285.4 L224.2,285.4 L223.7,285.4 L223.2,285.4 L222.7,285.3 L222.2,285.3 L221.7,285.3 L221.2,285.3 L220.7,285.3 L220.2,285.3 L219.7,285.3 L219.2,285.3 L218.7,285.3 L218.2,285.3 L217.7,285.3 L217.2,285.3 L216.7,285.3 L216.2,285.3 L215.7,285.3 L215.2,285.3 L214.7,285.3 L214.2,285.3 L213.7,285.3 L213.2,285.3 L212.7,285.3 L212.2,285.2 L211.7,285.2 L211.2,285.2 L210.7,285.2 L210.2,285.2 L209.7,285.2 L209.2,285.2 L208.7,285.2 L208.2,285.2 Z" fill="#ff0c0c" fill-opacity="0.35" stroke="none" clip-path="url(#ce)"/>
<path d="M208.2,285.2 L208.7,285.2 L209.2,285.2 L209.7,285.2 L210.2,285.2 L210.7,285.2 L211.2,285.2 L211.7,285.2 L212.2,285.2 L212.7,285.2 L213.2,285.2 L213.7,285.2 L214.2,285.2 L214.7,285.2 L215.2,285.2 L215.7,285.2 L216.2,285.2 L216.7,285.3 L217.2,285.3 L217.7,285.3 L218.2,285.3 L218.7,285.3 L219.2,285.3 L219.7,285.3 L220.2,285.3 L220.7,285.3 L221.2,285.3 L221.7,285.3 L222.2,285.3 L222.7,285.3 L223.2,285.3 L223.7,285.3 L224.2,285.3 L224.7,285.3 L225.2,285.3 L225.7,285.3 L226.2,285.3 L226.7,285.3 L227.2,285.3 L227.7,285.3 L228.2,285.3 L228.7,285.3 L229.2,285.3 L229.7,285.3 L230.2,285.3 L230.7,285.3 L231.2,285.3 L231.7,285.3 L232.2,285.3 L232.7,285.3 L233.2,285.3 L233.7,285.3 L234.2,285.3 L234.7,285.3 L235.2,285.3 L235.7,285.3 L236.2,285.3 L236.7,285.3 L237.2,285.3 L237.7,285.3 L238.2,285.3 L238.7,285.3 L239.2,285.2 L239.7,285.2 L240.2,285.2 L240.7,285.2 L241.2,285.1 L241.7,285.1 L242.2,285 L242.7,285 L243.2,284.9 L243.7,284.9 L244.2,284.8 L244.7,284.7 L245.2,284.6 L245.7,284.5 L246.2,284.4 L246.7,284.3 L247.2,284.1 L247.7,284 L248.2,283.8 L248.7,283.6 L249.2,283.4 L249.7,283.2 L250.2,283 L250.7,282.7 L251.2,282.4 L251.7,282.1 L252.2,281.8 L252.7,281.4 L253.2,281 L253.7,280.6 L254.2,280.1 L254.7,279.6 L255.2,279.1 L255.7,278.5 L256.2,277.9 L256.7,277.3 L257.2,276.6 L257.7,275.9 L258.2,275.1 L258.7,274.3 L259.2,273.5 L259.7,272.6 L260.2,271.7 L260.7,270.7 L261.2,269.7 L261.7,268.6 L262.2,267.5 L262.7,266.4 L263.2,265.2 L263.7,264 L264.2,262.8 L264.7,261.5 L265.2,260.2 L265.7,258.9 L266.2,257.6 L266.7,256.2 L267.2,254.8 L267.7,253.4 L268.2,252.1 L268.7,250.7 L269.2,249.3 L269.7,247.9 L270.2,246.5 L270.7,245.2 L271.2,243.9 L271.7,242.6 L272.2,241.3 L272.7,240.1 L273.2,238.9 L273.7,237.8 L274.2,236.7 L274.7,235.7 L275.2,234.8 L275.7,233.9 L276.2,233.1 L276.7,232.4 L277.2,231.7 L277.7,231.2 L278.2,230.7 L278.7,230.4 L279.2,230.1 L279.7,229.9 L280.2,229.8 L280.7,229.8 L281.2,229.9 L281.7,230.1 L282.2,230.4 L282.7,230.8 L283.2,231.2 L283.7,231.8 L284.2,232.5 L284.7,233.2 L285.2,234 L285.7,234.9 L286.2,235.8 L286.7,236.9 L287.2,237.9 L287.7,239.1 L288.2,240.2 L288.7,241.5 L289.2,242.8 L289.7,244.1 L290.2,245.4 L290.7,246.7 L291.2,248.1 L291.7,249.5 L292.2,250.9 L292.7,252.3 L293.2,253.7 L293.7,255.1 L294.2,256.5 L294.7,257.9 L295.2,259.2 L295.7,260.5 L296.2,261.8 L296.7,263.1 L297.2,264.4 L297.7,265.6 L298.2,266.8 L298.7,267.9 L299.2,269 L299.7,270.1 L300.2,271.1 L300.7,272.1 L301.2,273 L301.7,273.9 L302.2,274.7 L302.7,275.5 L303.2,276.3 L303.7,277 L304.2,277.7 L304.7,278.4 L305.2,279 L305.7,279.6 L306.2,280.1 L306.7,280.6 L307.2,281.1 L307.7,281.5 L308.2,281.9 L308.7,282.3 L309.2,282.6 L309.7,283 L310.2,283.3 L310.7,283.5 L311.2,283.8 L311.7,284 L312.2,284.2 L312.7,284.4 L313.2,284.6 L313.7,284.8 L314.2,284.9 L314.7,285 L315.2,285.2 L315.7,285.3 L316.2,285.4 L316.7,285.5 L317.2,285.5 L317.7,285.6 L318.2,285.7 L318.7,285.7 L319.2,285.8 L319.7,285.9 L320.2,285.9 L320.7,285.9 L321.2,286 L321.7,286 L322.2,286 L322.7,286.1 L323.2,286.1 L323.7,286.1 L324.2,286.1 L324.7,286.1 L325.2,286.2 L325.7,286.2 L326.2,286.2 L326.7,286.2 L327.2,286.2 L327.7,286.2 L328.2,286.2 L328.7,286.2 L329.2,286.3 L329.7,286.3 L330.2,286.3 L330.7,286.3 L331.2,286.3 L331.7,286.3 L332.2,286.3 L332.7,286.3 L333.2,286.3 L333.7,286.3 L334.2,286.3 L334.7,286.3 L335.2,286.3 L335.7,286.3 L336.2,286.3 L336.7,286.4 L337.2,286.4 L337.7,286.4 L338.2,286.4 L338.7,286.4 L339.2,286.4 L339.7,286.4 L340.2,286.4 L340.7,286.4 L341.2,286.4 L341.7,286.4 L342.2,286.4 L342.7,286.4 L343.2,286.4 L343.7,286.4 L344.2,286.4 L344.7,286.4 L345.2,286.4 L345.7,286.4 L346.2,286.5 L346.7,286.5 L347.2,286.5 L347.7,286.5 L348.2,286.5 L348.7,286.5 L349.2,286.5 L349.7,286.5 L350.2,286.5 L350.7,286.5 L351.2,286.5 L351.7,286.5 L352.2,286.5 L352.7,286.5 L353.2,286.5 L353.7,286.5 L354.2,286.5 L354.7,286.5 L355.2,286.5 L355.7,286.5 L356.2,286.6 L356.7,286.6 L357.2,286.6 L357.7,286.6 L358.2,286.6 L358.7,286.6" fill="none" stroke="#ee3b44" stroke-width="1.2" clip-path="url(#ce)"/>
<path d="M208.2,285.1 L208.7,285.1 L209.2,285.1 L209.7,285.1 L210.2,285.1 L210.7,285.1 L211.2,285.1 L211.7,285.1 L212.2,285.1 L212.7,285.1 L213.2,285.1 L213.7,285.1 L214.2,285.1 L214.7,285.1 L215.2,285.2 L215.7,285.2 L216.2,285.2 L216.7,285.2 L217.2,285.2 L217.7,285.2 L218.2,285.2 L218.7,285.2 L219.2,285.2 L219.7,285.2 L220.2,285.2 L220.7,285.2 L221.2,285.2 L221.7,285.2 L222.2,285.2 L222.7,285.2 L223.2,285.2 L223.7,285.2 L224.2,285.2 L224.7,285.2 L225.2,285.2 L225.7,285.2 L226.2,285.2 L226.7,285.2 L227.2,285.2 L227.7,285.2 L228.2,285.2 L228.7,285.2 L229.2,285.2 L229.7,285.2 L230.2,285.2 L230.7,285.2 L231.2,285.2 L231.7,285.2 L232.2,285.2 L232.7,285.2 L233.2,285.2 L233.7,285.2 L234.2,285.2 L234.7,285.2 L235.2,285.2 L235.7,285.3 L236.2,285.3 L236.7,285.3 L237.2,285.3 L237.7,285.3 L238.2,285.3 L238.7,285.3 L239.2,285.3 L239.7,285.3 L240.2,285.3 L240.7,285.3 L241.2,285.3 L241.7,285.3 L242.2,285.3 L242.7,285.3 L243.2,285.3 L243.7,285.3 L244.2,285.3 L244.7,285.3 L245.2,285.3 L245.7,285.3 L246.2,285.3 L246.7,285.3 L247.2,285.2 L247.7,285.2 L248.2,285.2 L248.7,285.2 L249.2,285.2 L249.7,285.2 L250.2,285.2 L250.7,285.2 L251.2,285.2 L251.7,285.2 L252.2,285.2 L252.7,285.2 L253.2,285.2 L253.7,285.2 L254.2,285.2 L254.7,285.1 L255.2,285.1 L255.7,285.1 L256.2,285.1 L256.7,285 L257.2,285 L257.7,285 L258.2,285 L258.7,284.9 L259.2,284.9 L259.7,284.8 L260.2,284.8 L260.7,284.7 L261.2,284.6 L261.7,284.6 L262.2,284.5 L262.7,284.4 L263.2,284.3 L263.7,284.2 L264.2,284.1 L264.7,283.9 L265.2,283.8 L265.7,283.6 L266.2,283.4 L266.7,283.2 L267.2,283 L267.7,282.8 L268.2,282.5 L268.7,282.3 L269.2,282 L269.7,281.6 L270.2,281.3 L270.7,280.9 L271.2,280.5 L271.7,280.1 L272.2,279.6 L272.7,279.1 L273.2,278.6 L273.7,278 L274.2,277.4 L274.7,276.8 L275.2,276.1 L275.7,275.4 L276.2,274.7 L276.7,273.9 L277.2,273.1 L277.7,272.2 L278.2,271.3 L278.7,270.3 L279.2,269.4 L279.7,268.3 L280.2,267.3 L280.7,266.2 L281.2,265.1 L281.7,263.9 L282.2,262.7 L282.7,261.5 L283.2,260.2 L283.7,259 L284.2,257.7 L284.7,256.4 L285.2,255.1 L285.7,253.7 L286.2,252.4 L286.7,251.1 L287.2,249.8 L287.7,248.4 L288.2,247.1 L288.7,245.9 L289.2,244.6 L289.7,243.4 L290.2,242.2 L290.7,241 L291.2,239.9 L291.7,238.9 L292.2,237.9 L292.7,236.9 L293.2,236.1 L293.7,235.3 L294.2,234.5 L294.7,233.9 L295.2,233.3 L295.7,232.8 L296.2,232.5 L296.7,232.2 L297.2,232 L297.7,231.8 L298.2,231.8 L298.7,231.9 L299.2,232.1 L299.7,232.4 L300.2,232.7 L300.7,233.2 L301.2,233.7 L301.7,234.3 L302.2,235 L302.7,235.8 L303.2,236.7 L303.7,237.6 L304.2,238.6 L304.7,239.6 L305.2,240.7 L305.7,241.8 L306.2,243 L306.7,244.2 L307.2,245.5 L307.7,246.8 L308.2,248.1 L308.7,249.4 L309.2,250.7 L309.7,252.1 L310.2,253.4 L310.7,254.7 L311.2,256.1 L311.7,257.4 L312.2,258.7 L312.7,260 L313.2,261.2 L313.7,262.5 L314.2,263.7 L314.7,264.9 L315.2,266 L315.7,267.2 L316.2,268.2 L316.7,269.3 L317.2,270.3 L317.7,271.3 L318.2,272.2 L318.7,273.1 L319.2,273.9 L319.7,274.8 L320.2,275.5 L320.7,276.3 L321.2,277 L321.7,277.6 L322.2,278.2 L322.7,278.8 L323.2,279.4 L323.7,279.9 L324.2,280.4 L324.7,280.8 L325.2,281.3 L325.7,281.7 L326.2,282 L326.7,282.4 L327.2,282.7 L327.7,283 L328.2,283.2 L328.7,283.5 L329.2,283.7 L329.7,283.9 L330.2,284.1 L330.7,284.3 L331.2,284.5 L331.7,284.6 L332.2,284.8 L332.7,284.9 L333.2,285 L333.7,285.1 L334.2,285.2 L334.7,285.3 L335.2,285.4 L335.7,285.4 L336.2,285.5 L336.7,285.6 L337.2,285.6 L337.7,285.7 L338.2,285.7 L338.7,285.8 L339.2,285.8 L339.7,285.8 L340.2,285.9 L340.7,285.9 L341.2,285.9 L341.7,286 L342.2,286 L342.7,286 L343.2,286 L343.7,286 L344.2,286.1 L344.7,286.1 L345.2,286.1 L345.7,286.1 L346.2,286.1 L346.7,286.1 L347.2,286.1 L347.7,286.2 L348.2,286.2 L348.7,286.2 L349.2,286.2 L349.7,286.2 L350.2,286.2 L350.7,286.2 L351.2,286.2 L351.7,286.3 L352.2,286.3 L352.7,286.3 L353.2,286.3 L353.7,286.3 L354.2,286.3 L354.7,286.3 L355.2,286.3 L355.7,286.3 L356.2,286.3 L356.7,286.3 L357.2,286.4 L357.7,286.4 L358.2,286.4 L358.7,286.4 L358.7,286.6 L358.2,286.6 L357.7,286.6 L357.2,286.6 L356.7,286.6 L356.2,286.6 L355.7,286.6 L355.2,286.6 L354.7,286.6 L354.2,286.6 L353.7,286.6 L353.2,286.6 L352.7,286.6 L352.2,286.5 L351.7,286.5 L351.2,286.5 L350.7,286.5 L350.2,286.5 L349.7,286.5 L349.2,286.5 L348.7,286.5 L348.2,286.5 L347.7,286.5 L347.2,286.5 L346.7,286.5 L346.2,286.5 L345.7,286.5 L345.2,286.5 L344.7,286.5 L344.2,286.5 L343.7,286.5 L343.2,286.5 L342.7,286.5 L342.2,286.5 L341.7,286.4 L341.2,286.4 L340.7,286.4 L340.2,286.4 L339.7,286.4 L339.2,286.4 L338.7,286.4 L338.2,286.4 L337.7,286.4 L337.2,286.4 L336.7,286.4 L336.2,286.4 L335.7,286.4 L335.2,286.4 L334.7,286.4 L334.2,286.4 L333.7,286.4 L333.2,286.4 L332.7,286.4 L332.2,286.4 L331.7,286.4 L331.2,286.4 L330.7,286.3 L330.2,286.3 L329.7,286.3 L329.2,286.3 L328.7,286.3 L328.2,286.3 L327.7,286.3 L327.2,286.3 L326.7,286.3 L326.2,286.3 L325.7,286.3 L325.2,286.3 L324.7,286.3 L324.2,286.3 L323.7,286.3 L323.2,286.3 L322.7,286.3 L322.2,286.3 L321.7,286.3 L321.2,286.3 L320.7,286.3 L320.2,286.2 L319.7,286.2 L319.2,286.2 L318.7,286.2 L318.2,286.2 L317.7,286.2 L317.2,286.2 L316.7,286.2 L316.2,286.2 L315.7,286.2 L315.2,286.2 L314.7,286.2 L314.2,286.2 L313.7,286.2 L313.2,286.2 L312.7,286.2 L312.2,286.2 L311.7,286.2 L311.2,286.2 L310.7,286.2 L310.2,286.2 L309.7,286.2 L309.2,286.1 L308.7,286.1 L308.2,286.1 L307.7,286.1 L307.2,286.1 L306.7,286.1 L306.2,286.1 L305.7,286.1 L305.2,286.1 L304.7,286.1 L304.2,286.1 L303.7,286.1 L303.2,286.1 L302.7,286.1 L302.2,286.1 L301.7,286.1 L301.2,286.1 L300.7,286.1 L300.2,286.1 L299.7,286.1 L299.2,286.1 L298.7,286.1 L298.2,286 L297.7,286 L297.2,286 L296.7,286 L296.2,286 L295.7,286 L295.2,286 L294.7,286 L294.2,286 L293.7,286 L293.2,286 L292.7,286 L292.2,286 L291.7,286 L291.2,286 L290.7,286 L290.2,286 L289.7,286 L289.2,286 L288.7,286 L288.2,286 L287.7,285.9 L287.2,285.9 L286.7,285.9 L286.2,285.9 L285.7,285.9 L285.2,285.9 L284.7,285.9 L284.2,285.9 L283.7,285.9 L283.2,285.9 L282.7,285.9 L282.2,285.9 L281.7,285.9 L281.2,285.9 L280.7,285.9 L280.2,285.9 L279.7,285.9 L279.2,285.9 L278.7,285.9 L278.2,285.9 L277.7,285.9 L277.2,285.9 L276.7,285.8 L276.2,285.8 L275.7,285.8 L275.2,285.8 L274.7,285.8 L274.2,285.8 L273.7,285.8 L273.2,285.8 L272.7,285.8 L272.2,285.8 L271.7,285.8 L271.2,285.8 L270.7,285.8 L270.2,285.8 L269.7,285.8 L269.2,285.8 L268.7,285.8 L268.2,285.8 L267.7,285.8 L267.2,285.8 L266.7,285.8 L266.2,285.7 L265.7,285.7 L265.2,285.7 L264.7,285.7 L264.2,285.7 L263.7,285.7 L263.2,285.7 L262.7,285.7 L262.2,285.7 L261.7,285.7 L261.2,285.7 L260.7,285.7 L260.2,285.7 L259.7,285.7 L259.2,285.7 L258.7,285.7 L258.2,285.7 L257.7,285.7 L257.2,285.7 L256.7,285.7 L256.2,285.7 L255.7,285.7 L255.2,285.6 L254.7,285.6 L254.2,285.6 L253.7,285.6 L253.2,285.6 L252.7,285.6 L252.2,285.6 L251.7,285.6 L251.2,285.6 L250.7,285.6 L250.2,285.6 L249.7,285.6 L249.2,285.6 L248.7,285.6 L248.2,285.6 L247.7,285.6 L247.2,285.6 L246.7,285.6 L246.2,285.6 L245.7,285.6 L245.2,285.6 L244.7,285.5 L244.2,285.5 L243.7,285.5 L243.2,285.5 L242.7,285.5 L242.2,285.5 L241.7,285.5 L241.2,285.5 L240.7,285.5 L240.2,285.5 L239.7,285.5 L239.2,285.5 L238.7,285.5 L238.2,285.5 L237.7,285.5 L237.2,285.5 L236.7,285.5 L236.2,285.5 L235.7,285.5 L235.2,285.5 L234.7,285.5 L234.2,285.5 L233.7,285.4 L233.2,285.4 L232.7,285.4 L232.2,285.4 L231.7,285.4 L231.2,285.4 L230.7,285.4 L230.2,285.4 L229.7,285.4 L229.2,285.4 L228.7,285.4 L228.2,285.4 L227.7,285.4 L227.2,285.4 L226.7,285.4 L226.2,285.4 L225.7,285.4 L225.2,285.4 L224.7,285.4 L224.2,285.4 L223.7,285.4 L223.2,285.4 L222.7,285.3 L222.2,285.3 L221.7,285.3 L221.2,285.3 L220.7,285.3 L220.2,285.3 L219.7,285.3 L219.2,285.3 L218.7,285.3 L218.2,285.3 L217.7,285.3 L217.2,285.3 L216.7,285.3 L216.2,285.3 L215.7,285.3 L215.2,285.3 L214.7,285.3 L214.2,285.3 L213.7,285.3 L213.2,285.3 L212.7,285.3 L212.2,285.2 L211.7,285.2 L211.2,285.2 L210.7,285.2 L210.2,285.2 L209.7,285.2 L209.2,285.2 L208.7,285.2 L208.2,285.2 Z" fill="#548de2" fill-opacity="0.35" stroke="none" clip-path="url(#ce)"/>
<path d="M208.2,285.1 L208.7,285.1 L209.2,285.1 L209.7,285.1 L210.2,285.1 L210.7,285.1 L211.2,285.1 L211.7,285.1 L212.2,285.1 L212.7,285.1 L213.2,285.1 L213.7,285.1 L214.2,285.1 L214.7,285.1 L215.2,285.2 L215.7,285.2 L216.2,285.2 L216.7,285.2 L217.2,285.2 L217.7,285.2 L218.2,285.2 L218.7,285.2 L219.2,285.2 L219.7,285.2 L220.2,285.2 L220.7,285.2 L221.2,285.2 L221.7,285.2 L222.2,285.2 L222.7,285.2 L223.2,285.2 L223.7,285.2 L224.2,285.2 L224.7,285.2 L225.2,285.2 L225.7,285.2 L226.2,285.2 L226.7,285.2 L227.2,285.2 L227.7,285.2 L228.2,285.2 L228.7,285.2 L229.2,285.2 L229.7,285.2 L230.2,285.2 L230.7,285.2 L231.2,285.2 L231.7,285.2 L232.2,285.2 L232.7,285.2 L233.2,285.2 L233.7,285.2 L234.2,285.2 L234.7,285.2 L235.2,285.2 L235.7,285.3 L236.2,285.3 L236.7,285.3 L237.2,285.3 L237.7,285.3 L238.2,285.3 L238.7,285.3 L239.2,285.3 L239.7,285.3 L240.2,285.3 L240.7,285.3 L241.2,285.3 L241.7,285.3 L242.2,285.3 L242.7,285.3 L243.2,285.3 L243.7,285.3 L244.2,285.3 L244.7,285.3 L245.2,285.3 L245.7,285.3 L246.2,285.3 L246.7,285.3 L247.2,285.2 L247.7,285.2 L248.2,285.2 L248.7,285.2 L249.2,285.2 L249.7,285.2 L250.2,285.2 L250.7,285.2 L251.2,285.2 L251.7,285.2 L252.2,285.2 L252.7,285.2 L253.2,285.2 L253.7,285.2 L254.2,285.2 L254.7,285.1 L255.2,285.1 L255.7,285.1 L256.2,285.1 L256.7,285 L257.2,285 L257.7,285 L258.2,285 L258.7,284.9 L259.2,284.9 L259.7,284.8 L260.2,284.8 L260.7,284.7 L261.2,284.6 L261.7,284.6 L262.2,284.5 L262.7,284.4 L263.2,284.3 L263.7,284.2 L264.2,284.1 L264.7,283.9 L265.2,283.8 L265.7,283.6 L266.2,283.4 L266.7,283.2 L267.2,283 L267.7,282.8 L268.2,282.5 L268.7,282.3 L269.2,282 L269.7,281.6 L270.2,281.3 L270.7,280.9 L271.2,280.5 L271.7,280.1 L272.2,279.6 L272.7,279.1 L273.2,278.6 L273.7,278 L274.2,277.4 L274.7,276.8 L275.2,276.1 L275.7,275.4 L276.2,274.7 L276.7,273.9 L277.2,273.1 L277.7,272.2 L278.2,271.3 L278.7,270.3 L279.2,269.4 L279.7,268.3 L280.2,267.3 L280.7,266.2 L281.2,265.1 L281.7,263.9 L282.2,262.7 L282.7,261.5 L283.2,260.2 L283.7,259 L284.2,257.7 L284.7,256.4 L285.2,255.1 L285.7,253.7 L286.2,252.4 L286.7,251.1 L287.2,249.8 L287.7,248.4 L288.2,247.1 L288.7,245.9 L289.2,244.6 L289.7,243.4 L290.2,242.2 L290.7,241 L291.2,239.9 L291.7,238.9 L292.2,237.9 L292.7,236.9 L293.2,236.1 L293.7,235.3 L294.2,234.5 L294.7,233.9 L295.2,233.3 L295.7,232.8 L296.2,232.5 L296.7,232.2 L297.2,232 L297.7,231.8 L298.2,231.8 L298.7,231.9 L299.2,232.1 L299.7,232.4 L300.2,232.7 L300.7,233.2 L301.2,233.7 L301.7,234.3 L302.2,235 L302.7,235.8 L303.2,236.7 L303.7,237.6 L304.2,238.6 L304.7,239.6 L305.2,240.7 L305.7,241.8 L306.2,243 L306.7,244.2 L307.2,245.5 L307.7,246.8 L308.2,248.1 L308.7,249.4 L309.2,250.7 L309.7,252.1 L310.2,253.4 L310.7,254.7 L311.2,256.1 L311.7,257.4 L312.2,258.7 L312.7,260 L313.2,261.2 L313.7,262.5 L314.2,263.7 L314.7,264.9 L315.2,266 L315.7,267.2 L316.2,268.2 L316.7,269.3 L317.2,270.3 L317.7,271.3 L318.2,272.2 L318.7,273.1 L319.2,273.9 L319.7,274.8 L320.2,275.5 L320.7,276.3 L321.2,277 L321.7,277.6 L322.2,278.2 L322.7,278.8 L323.2,279.4 L323.7,279.9 L324.2,280.4 L324.7,280.8 L325.2,281.3 L325.7,281.7 L326.2,282 L326.7,282.4 L327.2,282.7 L327.7,283 L328.2,283.2 L328.7,283.5 L329.2,283.7 L329.7,283.9 L330.2,284.1 L330.7,284.3 L331.2,284.5 L331.7,284.6 L332.2,284.8 L332.7,284.9 L333.2,285 L333.7,285.1 L334.2,285.2 L334.7,285.3 L335.2,285.4 L335.7,285.4 L336.2,285.5 L336.7,285.6 L337.2,285.6 L337.7,285.7 L338.2,285.7 L338.7,285.8 L339.2,285.8 L339.7,285.8 L340.2,285.9 L340.7,285.9 L341.2,285.9 L341.7,286 L342.2,286 L342.7,286 L343.2,286 L343.7,286 L344.2,286.1 L344.7,286.1 L345.2,286.1 L345.7,286.1 L346.2,286.1 L346.7,286.1 L347.2,286.1 L347.7,286.2 L348.2,286.2 L348.7,286.2 L349.2,286.2 L349.7,286.2 L350.2,286.2 L350.7,286.2 L351.2,286.2 L351.7,286.3 L352.2,286.3 L352.7,286.3 L353.2,286.3 L353.7,286.3 L354.2,286.3 L354.7,286.3 L355.2,286.3 L355.7,286.3 L356.2,286.3 L356.7,286.3 L357.2,286.4 L357.7,286.4 L358.2,286.4 L358.7,286.4" fill="none" stroke="#1f6ad8" stroke-width="1.2" clip-path="url(#ce)"/>
<path d="M208.2,284.8 L208.7,284.8 L209.2,284.8 L209.7,284.8 L210.2,284.8 L210.7,284.8 L211.2,284.8 L211.7,284.8 L212.2,284.8 L212.7,284.8 L213.2,284.8 L213.7,284.8 L214.2,284.8 L214.7,284.8 L215.2,284.8 L215.7,284.8 L216.2,284.8 L216.7,284.8 L217.2,284.8 L217.7,284.8 L218.2,284.7 L218.7,284.7 L219.2,284.7 L219.7,284.7 L220.2,284.7 L220.7,284.7 L221.2,284.7 L221.7,284.7 L222.2,284.6 L222.7,284.6 L223.2,284.6 L223.7,284.6 L224.2,284.6 L224.7,284.5 L225.2,284.5 L225.7,284.5 L226.2,284.4 L226.7,284.4 L227.2,284.4 L227.7,284.4 L228.2,284.3 L228.7,284.3 L229.2,284.2 L229.7,284.2 L230.2,284.2 L230.7,284.1 L231.2,284.1 L231.7,284 L232.2,283.9 L232.7,283.9 L233.2,283.8 L233.7,283.8 L234.2,283.7 L234.7,283.6 L235.2,283.6 L235.7,283.5 L236.2,283.4 L236.7,283.3 L237.2,283.2 L237.7,283.1 L238.2,283 L238.7,282.9 L239.2,282.8 L239.7,282.7 L240.2,282.6 L240.7,282.5 L241.2,282.4 L241.7,282.3 L242.2,282.2 L242.7,282 L243.2,281.9 L243.7,281.8 L244.2,281.6 L244.7,281.5 L245.2,281.3 L245.7,281.2 L246.2,281 L246.7,280.9 L247.2,280.7 L247.7,280.6 L248.2,280.4 L248.7,280.2 L249.2,280.1 L249.7,279.9 L250.2,279.7 L250.7,279.6 L251.2,279.4 L251.7,279.2 L252.2,279.1 L252.7,278.9 L253.2,278.7 L253.7,278.6 L254.2,278.4 L254.7,278.2 L255.2,278.1 L255.7,277.9 L256.2,277.7 L256.7,277.6 L257.2,277.4 L257.7,277.3 L258.2,277.2 L258.7,277 L259.2,276.9 L259.7,276.8 L260.2,276.7 L260.7,276.6 L261.2,276.5 L261.7,276.4 L262.2,276.3 L262.7,276.2 L263.2,276.2 L263.7,276.1 L264.2,276.1 L264.7,276.1 L265.2,276.1 L265.7,276.1 L266.2,276.1 L266.7,276.1 L267.2,276.1 L267.7,276.2 L268.2,276.2 L268.7,276.3 L269.2,276.4 L269.7,276.5 L270.2,276.6 L270.7,276.7 L271.2,276.8 L271.7,276.9 L272.2,277 L272.7,277.2 L273.2,277.3 L273.7,277.5 L274.2,277.6 L274.7,277.8 L275.2,278 L275.7,278.1 L276.2,278.3 L276.7,278.5 L277.2,278.6 L277.7,278.8 L278.2,279 L278.7,279.2 L279.2,279.4 L279.7,279.5 L280.2,279.7 L280.7,279.9 L281.2,280.1 L281.7,280.3 L282.2,280.4 L282.7,280.6 L283.2,280.8 L283.7,281 L284.2,281.1 L284.7,281.3 L285.2,281.4 L285.7,281.6 L286.2,281.8 L286.7,281.9 L287.2,282.1 L287.7,282.2 L288.2,282.4 L288.7,282.5 L289.2,282.6 L289.7,282.8 L290.2,282.9 L290.7,283 L291.2,283.1 L291.7,283.2 L292.2,283.4 L292.7,283.5 L293.2,283.6 L293.7,283.7 L294.2,283.8 L294.7,283.9 L295.2,284 L295.7,284.1 L296.2,284.1 L296.7,284.2 L297.2,284.3 L297.7,284.4 L298.2,284.4 L298.7,284.5 L299.2,284.6 L299.7,284.6 L300.2,284.7 L300.7,284.8 L301.2,284.8 L301.7,284.9 L302.2,284.9 L302.7,285 L303.2,285 L303.7,285.1 L304.2,285.1 L304.7,285.2 L305.2,285.2 L305.7,285.2 L306.2,285.3 L306.7,285.3 L307.2,285.3 L307.7,285.4 L308.2,285.4 L308.7,285.4 L309.2,285.4 L309.7,285.5 L310.2,285.5 L310.7,285.5 L311.2,285.5 L311.7,285.6 L312.2,285.6 L312.7,285.6 L313.2,285.6 L313.7,285.6 L314.2,285.7 L314.7,285.7 L315.2,285.7 L315.7,285.7 L316.2,285.7 L316.7,285.8 L317.2,285.8 L317.7,285.8 L318.2,285.8 L318.7,285.8 L319.2,285.8 L319.7,285.8 L320.2,285.8 L320.7,285.9 L321.2,285.9 L321.7,285.9 L322.2,285.9 L322.7,285.9 L323.2,285.9 L323.7,285.9 L324.2,285.9 L324.7,285.9 L325.2,286 L325.7,286 L326.2,286 L326.7,286 L327.2,286 L327.7,286 L328.2,286 L328.7,286 L329.2,286 L329.7,286 L330.2,286.1 L330.7,286.1 L331.2,286.1 L331.7,286.1 L332.2,286.1 L332.7,286.1 L333.2,286.1 L333.7,286.1 L334.2,286.1 L334.7,286.1 L335.2,286.1 L335.7,286.1 L336.2,286.2 L336.7,286.2 L337.2,286.2 L337.7,286.2 L338.2,286.2 L338.7,286.2 L339.2,286.2 L339.7,286.2 L340.2,286.2 L340.7,286.2 L341.2,286.2 L341.7,286.2 L342.2,286.2 L342.7,286.3 L343.2,286.3 L343.7,286.3 L344.2,286.3 L344.7,286.3 L345.2,286.3 L345.7,286.3 L346.2,286.3 L346.7,286.3 L347.2,286.3 L347.7,286.3 L348.2,286.3 L348.7,286.3 L349.2,286.3 L349.7,286.3 L350.2,286.4 L350.7,286.4 L351.2,286.4 L351.7,286.4 L352.2,286.4 L352.7,286.4 L353.2,286.4 L353.7,286.4 L354.2,286.4 L354.7,286.4 L355.2,286.4 L355.7,286.4 L356.2,286.4 L356.7,286.4 L357.2,286.4 L357.7,286.5 L358.2,286.5 L358.7,286.5 L358.7,286.6 L358.2,286.6 L357.7,286.6 L357.2,286.6 L356.7,286.6 L356.2,286.6 L355.7,286.6 L355.2,286.6 L354.7,286.6 L354.2,286.6 L353.7,286.6 L353.2,286.6 L352.7,286.6 L352.2,286.5 L351.7,286.5 L351.2,286.5 L350.7,286.5 L350.2,286.5 L349.7,286.5 L349.2,286.5 L348.7,286.5 L348.2,286.5 L347.7,286.5 L347.2,286.5 L346.7,286.5 L346.2,286.5 L345.7,286.5 L345.2,286.5 L344.7,286.5 L344.2,286.5 L343.7,286.5 L343.2,286.5 L342.7,286.5 L342.2,286.5 L341.7,286.4 L341.2,286.4 L340.7,286.4 L340.2,286.4 L339.7,286.4 L339.2,286.4 L338.7,286.4 L338.2,286.4 L337.7,286.4 L337.2,286.4 L336.7,286.4 L336.2,286.4 L335.7,286.4 L335.2,286.4 L334.7,286.4 L334.2,286.4 L333.7,286.4 L333.2,286.4 L332.7,286.4 L332.2,286.4 L331.7,286.4 L331.2,286.4 L330.7,286.3 L330.2,286.3 L329.7,286.3 L329.2,286.3 L328.7,286.3 L328.2,286.3 L327.7,286.3 L327.2,286.3 L326.7,286.3 L326.2,286.3 L325.7,286.3 L325.2,286.3 L324.7,286.3 L324.2,286.3 L323.7,286.3 L323.2,286.3 L322.7,286.3 L322.2,286.3 L321.7,286.3 L321.2,286.3 L320.7,286.3 L320.2,286.2 L319.7,286.2 L319.2,286.2 L318.7,286.2 L318.2,286.2 L317.7,286.2 L317.2,286.2 L316.7,286.2 L316.2,286.2 L315.7,286.2 L315.2,286.2 L314.7,286.2 L314.2,286.2 L313.7,286.2 L313.2,286.2 L312.7,286.2 L312.2,286.2 L311.7,286.2 L311.2,286.2 L310.7,286.2 L310.2,286.2 L309.7,286.2 L309.2,286.1 L308.7,286.1 L308.2,286.1 L307.7,286.1 L307.2,286.1 L306.7,286.1 L306.2,286.1 L305.7,286.1 L305.2,286.1 L304.7,286.1 L304.2,286.1 L303.7,286.1 L303.2,286.1 L302.7,286.1 L302.2,286.1 L301.7,286.1 L301.2,286.1 L300.7,286.1 L300.2,286.1 L299.7,286.1 L299.2,286.1 L298.7,286.1 L298.2,286 L297.7,286 L297.2,286 L296.7,286 L296.2,286 L295.7,286 L295.2,286 L294.7,286 L294.2,286 L293.7,286 L293.2,286 L292.7,286 L292.2,286 L291.7,286 L291.2,286 L290.7,286 L290.2,286 L289.7,286 L289.2,286 L288.7,286 L288.2,286 L287.7,285.9 L287.2,285.9 L286.7,285.9 L286.2,285.9 L285.7,285.9 L285.2,285.9 L284.7,285.9 L284.2,285.9 L283.7,285.9 L283.2,285.9 L282.7,285.9 L282.2,285.9 L281.7,285.9 L281.2,285.9 L280.7,285.9 L280.2,285.9 L279.7,285.9 L279.2,285.9 L278.7,285.9 L278.2,285.9 L277.7,285.9 L277.2,285.9 L276.7,285.8 L276.2,285.8 L275.7,285.8 L275.2,285.8 L274.7,285.8 L274.2,285.8 L273.7,285.8 L273.2,285.8 L272.7,285.8 L272.2,285.8 L271.7,285.8 L271.2,285.8 L270.7,285.8 L270.2,285.8 L269.7,285.8 L269.2,285.8 L268.7,285.8 L268.2,285.8 L267.7,285.8 L267.2,285.8 L266.7,285.8 L266.2,285.7 L265.7,285.7 L265.2,285.7 L264.7,285.7 L264.2,285.7 L263.7,285.7 L263.2,285.7 L262.7,285.7 L262.2,285.7 L261.7,285.7 L261.2,285.7 L260.7,285.7 L260.2,285.7 L259.7,285.7 L259.2,285.7 L258.7,285.7 L258.2,285.7 L257.7,285.7 L257.2,285.7 L256.7,285.7 L256.2,285.7 L255.7,285.7 L255.2,285.6 L254.7,285.6 L254.2,285.6 L253.7,285.6 L253.2,285.6 L252.7,285.6 L252.2,285.6 L251.7,285.6 L251.2,285.6 L250.7,285.6 L250.2,285.6 L249.7,285.6 L249.2,285.6 L248.7,285.6 L248.2,285.6 L247.7,285.6 L247.2,285.6 L246.7,285.6 L246.2,285.6 L245.7,285.6 L245.2,285.6 L244.7,285.5 L244.2,285.5 L243.7,285.5 L243.2,285.5 L242.7,285.5 L242.2,285.5 L241.7,285.5 L241.2,285.5 L240.7,285.5 L240.2,285.5 L239.7,285.5 L239.2,285.5 L238.7,285.5 L238.2,285.5 L237.7,285.5 L237.2,285.5 L236.7,285.5 L236.2,285.5 L235.7,285.5 L235.2,285.5 L234.7,285.5 L234.2,285.5 L233.7,285.4 L233.2,285.4 L232.7,285.4 L232.2,285.4 L231.7,285.4 L231.2,285.4 L230.7,285.4 L230.2,285.4 L229.7,285.4 L229.2,285.4 L228.7,285.4 L228.2,285.4 L227.7,285.4 L227.2,285.4 L226.7,285.4 L226.2,285.4 L225.7,285.4 L225.2,285.4 L224.7,285.4 L224.2,285.4 L223.7,285.4 L223.2,285.4 L222.7,285.3 L222.2,285.3 L221.7,285.3 L221.2,285.3 L220.7,285.3 L220.2,285.3 L219.7,285.3 L219.2,285.3 L218.7,285.3 L218.2,285.3 L217.7,285.3 L217.2,285.3 L216.7,285.3 L216.2,285.3 L215.7,285.3 L215.2,285.3 L214.7,285.3 L214.2,285.3 L213.7,285.3 L213.2,285.3 L212.7,285.3 L212.2,285.2 L211.7,285.2 L211.2,285.2 L210.7,285.2 L210.2,285.2 L209.7,285.2 L209.2,285.2 L208.7,285.2 L208.2,285.2 Z" fill="#62c48d" fill-opacity="0.35" stroke="none" clip-path="url(#ce)"/>
<path d="M208.2,284.8 L208.7,284.8 L209.2,284.8 L209.7,284.8 L210.2,284.8 L210.7,284.8 L211.2,284.8 L211.7,284.8 L212.2,284.8 L212.7,284.8 L213.2,284.8 L213.7,284.8 L214.2,284.8 L214.7,284.8 L215.2,284.8 L215.7,284.8 L216.2,284.8 L216.7,284.8 L217.2,284.8 L217.7,284.8 L218.2,284.7 L218.7,284.7 L219.2,284.7 L219.7,284.7 L220.2,284.7 L220.7,284.7 L221.2,284.7 L221.7,284.7 L222.2,284.6 L222.7,284.6 L223.2,284.6 L223.7,284.6 L224.2,284.6 L224.7,284.5 L225.2,284.5 L225.7,284.5 L226.2,284.4 L226.7,284.4 L227.2,284.4 L227.7,284.4 L228.2,284.3 L228.7,284.3 L229.2,284.2 L229.7,284.2 L230.2,284.2 L230.7,284.1 L231.2,284.1 L231.7,284 L232.2,283.9 L232.7,283.9 L233.2,283.8 L233.7,283.8 L234.2,283.7 L234.7,283.6 L235.2,283.6 L235.7,283.5 L236.2,283.4 L236.7,283.3 L237.2,283.2 L237.7,283.1 L238.2,283 L238.7,282.9 L239.2,282.8 L239.7,282.7 L240.2,282.6 L240.7,282.5 L241.2,282.4 L241.7,282.3 L242.2,282.2 L242.7,282 L243.2,281.9 L243.7,281.8 L244.2,281.6 L244.7,281.5 L245.2,281.3 L245.7,281.2 L246.2,281 L246.7,280.9 L247.2,280.7 L247.7,280.6 L248.2,280.4 L248.7,280.2 L249.2,280.1 L249.7,279.9 L250.2,279.7 L250.7,279.6 L251.2,279.4 L251.7,279.2 L252.2,279.1 L252.7,278.9 L253.2,278.7 L253.7,278.6 L254.2,278.4 L254.7,278.2 L255.2,278.1 L255.7,277.9 L256.2,277.7 L256.7,277.6 L257.2,277.4 L257.7,277.3 L258.2,277.2 L258.7,277 L259.2,276.9 L259.7,276.8 L260.2,276.7 L260.7,276.6 L261.2,276.5 L261.7,276.4 L262.2,276.3 L262.7,276.2 L263.2,276.2 L263.7,276.1 L264.2,276.1 L264.7,276.1 L265.2,276.1 L265.7,276.1 L266.2,276.1 L266.7,276.1 L267.2,276.1 L267.7,276.2 L268.2,276.2 L268.7,276.3 L269.2,276.4 L269.7,276.5 L270.2,276.6 L270.7,276.7 L271.2,276.8 L271.7,276.9 L272.2,277 L272.7,277.2 L273.2,277.3 L273.7,277.5 L274.2,277.6 L274.7,277.8 L275.2,278 L275.7,278.1 L276.2,278.3 L276.7,278.5 L277.2,278.6 L277.7,278.8 L278.2,279 L278.7,279.2 L279.2,279.4 L279.7,279.5 L280.2,279.7 L280.7,279.9 L281.2,280.1 L281.7,280.3 L282.2,280.4 L282.7,280.6 L283.2,280.8 L283.7,281 L284.2,281.1 L284.7,281.3 L285.2,281.4 L285.7,281.6 L286.2,281.8 L286.7,281.9 L287.2,282.1 L287.7,282.2 L288.2,282.4 L288.7,282.5 L289.2,282.6 L289.7,282.8 L290.2,282.9 L290.7,283 L291.2,283.1 L291.7,283.2 L292.2,283.4 L292.7,283.5 L293.2,283.6 L293.7,283.7 L294.2,283.8 L294.7,283.9 L295.2,284 L295.7,284.1 L296.2,284.1 L296.7,284.2 L297.2,284.3 L297.7,284.4 L298.2,284.4 L298.7,284.5 L299.2,284.6 L299.7,284.6 L300.2,284.7 L300.7,284.8 L301.2,284.8 L301.7,284.9 L302.2,284.9 L302.7,285 L303.2,285 L303.7,285.1 L304.2,285.1 L304.7,285.2 L305.2,285.2 L305.7,285.2 L306.2,285.3 L306.7,285.3 L307.2,285.3 L307.7,285.4 L308.2,285.4 L308.7,285.4 L309.2,285.4 L309.7,285.5 L310.2,285.5 L310.7,285.5 L311.2,285.5 L311.7,285.6 L312.2,285.6 L312.7,285.6 L313.2,285.6 L313.7,285.6 L314.2,285.7 L314.7,285.7 L315.2,285.7 L315.7,285.7 L316.2,285.7 L316.7,285.8 L317.2,285.8 L317.7,285.8 L318.2,285.8 L318.7,285.8 L319.2,285.8 L319.7,285.8 L320.2,285.8 L320.7,285.9 L321.2,285.9 L321.7,285.9 L322.2,285.9 L322.7,285.9 L323.2,285.9 L323.7,285.9 L324.2,285.9 L324.7,285.9 L325.2,286 L325.7,286 L326.2,286 L326.7,286 L327.2,286 L327.7,286 L328.2,286 L328.7,286 L329.2,286 L329.7,286 L330.2,286.1 L330.7,286.1 L331.2,286.1 L331.7,286.1 L332.2,286.1 L332.7,286.1 L333.2,286.1 L333.7,286.1 L334.2,286.1 L334.7,286.1 L335.2,286.1 L335.7,286.1 L336.2,286.2 L336.7,286.2 L337.2,286.2 L337.7,286.2 L338.2,286.2 L338.7,286.2 L339.2,286.2 L339.7,286.2 L340.2,286.2 L340.7,286.2 L341.2,286.2 L341.7,286.2 L342.2,286.2 L342.7,286.3 L343.2,286.3 L343.7,286.3 L344.2,286.3 L344.7,286.3 L345.2,286.3 L345.7,286.3 L346.2,286.3 L346.7,286.3 L347.2,286.3 L347.7,286.3 L348.2,286.3 L348.7,286.3 L349.2,286.3 L349.7,286.3 L350.2,286.4 L350.7,286.4 L351.2,286.4 L351.7,286.4 L352.2,286.4 L352.7,286.4 L353.2,286.4 L353.7,286.4 L354.2,286.4 L354.7,286.4 L355.2,286.4 L355.7,286.4 L356.2,286.4 L356.7,286.4 L357.2,286.4 L357.7,286.5 L358.2,286.5 L358.7,286.5" fill="none" stroke="#2fa35e" stroke-width="1.2" clip-path="url(#ce)"/>
<path d="M208.2,285.2 L208.7,285.2 L209.2,285.2 L209.7,285.2 L210.2,285.2 L210.7,285.2 L211.2,285.2 L211.7,285.2 L212.2,285.2 L212.7,285.3 L213.2,285.3 L213.7,285.3 L214.2,285.3 L214.7,285.3 L215.2,285.3 L215.7,285.3 L216.2,285.3 L216.7,285.3 L217.2,285.3 L217.7,285.3 L218.2,285.3 L218.7,285.3 L219.2,285.3 L219.7,285.3 L220.2,285.3 L220.7,285.3 L221.2,285.3 L221.7,285.3 L222.2,285.3 L222.7,285.3 L223.2,285.4 L223.7,285.4 L224.2,285.4 L224.7,285.4 L225.2,285.4 L225.7,285.4 L226.2,285.4 L226.7,285.4 L227.2,285.4 L227.7,285.4 L228.2,285.4 L228.7,285.4 L229.2,285.4 L229.7,285.4 L230.2,285.4 L230.7,285.4 L231.2,285.4 L231.7,285.4 L232.2,285.4 L232.7,285.4 L233.2,285.4 L233.7,285.4 L234.2,285.5 L234.7,285.5 L235.2,285.5 L235.7,285.5 L236.2,285.5 L236.7,285.5 L237.2,285.5 L237.7,285.5 L238.2,285.5 L238.7,285.5 L239.2,285.5 L239.7,285.5 L240.2,285.5 L240.7,285.5 L241.2,285.5 L241.7,285.5 L242.2,285.5 L242.7,285.5 L243.2,285.5 L243.7,285.5 L244.2,285.5 L244.7,285.5 L245.2,285.6 L245.7,285.6 L246.2,285.6 L246.7,285.6 L247.2,285.6 L247.7,285.6 L248.2,285.6 L248.7,285.6 L249.2,285.6 L249.7,285.6 L250.2,285.6 L250.7,285.6 L251.2,285.6 L251.7,285.6 L252.2,285.6 L252.7,285.6 L253.2,285.6 L253.7,285.6 L254.2,285.6 L254.7,285.6 L255.2,285.6 L255.7,285.7 L256.2,285.7 L256.7,285.7 L257.2,285.7 L257.7,285.7 L258.2,285.7 L258.7,285.7 L259.2,285.7 L259.7,285.7 L260.2,285.7 L260.7,285.7 L261.2,285.7 L261.7,285.7 L262.2,285.7 L262.7,285.7 L263.2,285.7 L263.7,285.7 L264.2,285.7 L264.7,285.7 L265.2,285.7 L265.7,285.7 L266.2,285.7 L266.7,285.8 L267.2,285.8 L267.7,285.8 L268.2,285.8 L268.7,285.8 L269.2,285.8 L269.7,285.8 L270.2,285.8 L270.7,285.8 L271.2,285.8 L271.7,285.8 L272.2,285.8 L272.7,285.8 L273.2,285.8 L273.7,285.8 L274.2,285.8 L274.7,285.8 L275.2,285.8 L275.7,285.8 L276.2,285.8 L276.7,285.8 L277.2,285.9 L277.7,285.9 L278.2,285.9 L278.7,285.9 L279.2,285.9 L279.7,285.9 L280.2,285.9 L280.7,285.9 L281.2,285.9 L281.7,285.9 L282.2,285.9 L282.7,285.9 L283.2,285.9 L283.7,285.9 L284.2,285.9 L284.7,285.9 L285.2,285.9 L285.7,285.9 L286.2,285.9 L286.7,285.9 L287.2,285.9 L287.7,285.9 L288.2,286 L288.7,286 L289.2,286 L289.7,286 L290.2,286 L290.7,286 L291.2,286 L291.7,286 L292.2,286 L292.7,286 L293.2,286 L293.7,286 L294.2,286 L294.7,286 L295.2,286 L295.7,286 L296.2,286 L296.7,286 L297.2,286 L297.7,286 L298.2,286 L298.7,286.1 L299.2,286.1 L299.7,286.1 L300.2,286.1 L300.7,286.1 L301.2,286.1 L301.7,286.1 L302.2,286.1 L302.7,286.1 L303.2,286.1 L303.7,286.1 L304.2,286.1 L304.7,286.1 L305.2,286.1 L305.7,286.1 L306.2,286.1 L306.7,286.1 L307.2,286.1 L307.7,286.1 L308.2,286.1 L308.7,286.1 L309.2,286.1 L309.7,286.2 L310.2,286.2 L310.7,286.2 L311.2,286.2 L311.7,286.2 L312.2,286.2 L312.7,286.2 L313.2,286.2 L313.7,286.2 L314.2,286.2 L314.7,286.2 L315.2,286.2 L315.7,286.2 L316.2,286.2 L316.7,286.2 L317.2,286.2 L317.7,286.2 L318.2,286.2 L318.7,286.2 L319.2,286.2 L319.7,286.2 L320.2,286.2 L320.7,286.3 L321.2,286.3 L321.7,286.3 L322.2,286.3 L322.7,286.3 L323.2,286.3 L323.7,286.3 L324.2,286.3 L324.7,286.3 L325.2,286.3 L325.7,286.3 L326.2,286.3 L326.7,286.3 L327.2,286.3 L327.7,286.3 L328.2,286.3 L328.7,286.3 L329.2,286.3 L329.7,286.3 L330.2,286.3 L330.7,286.3 L331.2,286.4 L331.7,286.4 L332.2,286.4 L332.7,286.4 L333.2,286.4 L333.7,286.4 L334.2,286.4 L334.7,286.4 L335.2,286.4 L335.7,286.4 L336.2,286.4 L336.7,286.4 L337.2,286.4 L337.7,286.4 L338.2,286.4 L338.7,286.4 L339.2,286.4 L339.7,286.4 L340.2,286.4 L340.7,286.4 L341.2,286.4 L341.7,286.4 L342.2,286.5 L342.7,286.5 L343.2,286.5 L343.7,286.5 L344.2,286.5 L344.7,286.5 L345.2,286.5 L345.7,286.5 L346.2,286.5 L346.7,286.5 L347.2,286.5 L347.7,286.5 L348.2,286.5 L348.7,286.5 L349.2,286.5 L349.7,286.5 L350.2,286.5 L350.7,286.5 L351.2,286.5 L351.7,286.5 L352.2,286.5 L352.7,286.6 L353.2,286.6 L353.7,286.6 L354.2,286.6 L354.7,286.6 L355.2,286.6 L355.7,286.6 L356.2,286.6 L356.7,286.6 L357.2,286.6 L357.7,286.6 L358.2,286.6 L358.7,286.6" fill="none" stroke="#a678e8" stroke-width="1.7" clip-path="url(#ce)"/>
<path d="M208.2,285.1 L208.7,285.1 L209.2,285.1 L209.7,285.1 L210.2,285.1 L210.7,285.1 L211.2,285.1 L211.7,285.1 L212.2,285.1 L212.7,285.1 L213.2,285.1 L213.7,285 L214.2,285 L214.7,285 L215.2,285 L215.7,285 L216.2,285 L216.7,284.9 L217.2,284.9 L217.7,284.9 L218.2,284.9 L218.7,284.8 L219.2,284.8 L219.7,284.8 L220.2,284.7 L220.7,284.7 L221.2,284.7 L221.7,284.6 L222.2,284.6 L222.7,284.5 L223.2,284.5 L223.7,284.4 L224.2,284.4 L224.7,284.3 L225.2,284.2 L225.7,284.2 L226.2,284.1 L226.7,284 L227.2,284 L227.7,283.9 L228.2,283.8 L228.7,283.7 L229.2,283.7 L229.7,283.6 L230.2,283.5 L230.7,283.4 L231.2,283.3 L231.7,283.2 L232.2,283.1 L232.7,283 L233.2,282.9 L233.7,282.8 L234.2,282.7 L234.7,282.5 L235.2,282.4 L235.7,282.3 L236.2,282.2 L236.7,282 L237.2,281.9 L237.7,281.8 L238.2,281.7 L238.7,281.5 L239.2,281.4 L239.7,281.2 L240.2,281.1 L240.7,280.9 L241.2,280.8 L241.7,280.6 L242.2,280.4 L242.7,280.3 L243.2,280.1 L243.7,279.9 L244.2,279.7 L244.7,279.5 L245.2,279.3 L245.7,279 L246.2,278.8 L246.7,278.6 L247.2,278.3 L247.7,278 L248.2,277.7 L248.7,277.4 L249.2,277.1 L249.7,276.7 L250.2,276.3 L250.7,275.9 L251.2,275.5 L251.7,275.1 L252.2,274.6 L252.7,274.1 L253.2,273.5 L253.7,272.9 L254.2,272.3 L254.7,271.7 L255.2,271 L255.7,270.2 L256.2,269.4 L256.7,268.6 L257.2,267.7 L257.7,266.8 L258.2,265.9 L258.7,264.9 L259.2,263.8 L259.7,262.7 L260.2,261.6 L260.7,260.4 L261.2,259.1 L261.7,257.8 L262.2,256.5 L262.7,255.1 L263.2,253.7 L263.7,252.2 L264.2,250.7 L264.7,249.2 L265.2,247.7 L265.7,246.1 L266.2,244.5 L266.7,242.8 L267.2,241.2 L267.7,239.5 L268.2,237.8 L268.7,236.1 L269.2,234.4 L269.7,232.7 L270.2,231.1 L270.7,229.4 L271.2,227.7 L271.7,226.1 L272.2,224.4 L272.7,222.8 L273.2,221.3 L273.7,219.7 L274.2,218.2 L274.7,216.7 L275.2,215.3 L275.7,213.9 L276.2,212.6 L276.7,211.3 L277.2,210 L277.7,208.8 L278.2,207.7 L278.7,206.6 L279.2,205.6 L279.7,204.6 L280.2,203.7 L280.7,202.8 L281.2,202 L281.7,201.3 L282.2,200.6 L282.7,200 L283.2,199.4 L283.7,198.9 L284.2,198.4 L284.7,198.1 L285.2,197.7 L285.7,197.5 L286.2,197.2 L286.7,197.1 L287.2,197 L287.7,197 L288.2,197 L288.7,197.1 L289.2,197.2 L289.7,197.4 L290.2,197.6 L290.7,198 L291.2,198.3 L291.7,198.8 L292.2,199.3 L292.7,199.8 L293.2,200.4 L293.7,201.1 L294.2,201.8 L294.7,202.6 L295.2,203.4 L295.7,204.3 L296.2,205.2 L296.7,206.2 L297.2,207.3 L297.7,208.4 L298.2,209.5 L298.7,210.7 L299.2,212 L299.7,213.2 L300.2,214.6 L300.7,215.9 L301.2,217.3 L301.7,218.8 L302.2,220.3 L302.7,221.8 L303.2,223.3 L303.7,224.8 L304.2,226.4 L304.7,228 L305.2,229.6 L305.7,231.2 L306.2,232.8 L306.7,234.5 L307.2,236.1 L307.7,237.7 L308.2,239.4 L308.7,241 L309.2,242.6 L309.7,244.2 L310.2,245.8 L310.7,247.4 L311.2,248.9 L311.7,250.4 L312.2,251.9 L312.7,253.4 L313.2,254.8 L313.7,256.2 L314.2,257.6 L314.7,259 L315.2,260.3 L315.7,261.6 L316.2,262.8 L316.7,264 L317.2,265.2 L317.7,266.3 L318.2,267.4 L318.7,268.4 L319.2,269.5 L319.7,270.4 L320.2,271.4 L320.7,272.3 L321.2,273.1 L321.7,273.9 L322.2,274.7 L322.7,275.4 L323.2,276.2 L323.7,276.8 L324.2,277.5 L324.7,278.1 L325.2,278.6 L325.7,279.2 L326.2,279.7 L326.7,280.2 L327.2,280.6 L327.7,281.1 L328.2,281.5 L328.7,281.8 L329.2,282.2 L329.7,282.5 L330.2,282.8 L330.7,283.1 L331.2,283.4 L331.7,283.6 L332.2,283.9 L332.7,284.1 L333.2,284.3 L333.7,284.5 L334.2,284.6 L334.7,284.8 L335.2,284.9 L335.7,285.1 L336.2,285.2 L336.7,285.3 L337.2,285.4 L337.7,285.5 L338.2,285.6 L338.7,285.7 L339.2,285.8 L339.7,285.8 L340.2,285.9 L340.7,286 L341.2,286 L341.7,286.1 L342.2,286.1 L342.7,286.2 L343.2,286.2 L343.7,286.2 L344.2,286.3 L344.7,286.3 L345.2,286.3 L345.7,286.3 L346.2,286.4 L346.7,286.4 L347.2,286.4 L347.7,286.4 L348.2,286.4 L348.7,286.4 L349.2,286.5 L349.7,286.5 L350.2,286.5 L350.7,286.5 L351.2,286.5 L351.7,286.5 L352.2,286.5 L352.7,286.5 L353.2,286.5 L353.7,286.5 L354.2,286.5 L354.7,286.6 L355.2,286.6 L355.7,286.6 L356.2,286.6 L356.7,286.6 L357.2,286.6 L357.7,286.6 L358.2,286.6 L358.7,286.6" fill="none" stroke="#465068" stroke-width="1.2" clip-path="url(#ce)"/>
<path d="M208.2,285.1 L208.7,285.1 L209.2,285.1 L209.7,285.1 L210.2,285.1 L210.7,285.1 L211.2,285.1 L211.7,285.1 L212.2,285.1 L212.7,285.1 L213.2,285.1 L213.7,285 L214.2,285 L214.7,285 L215.2,285 L215.7,285 L216.2,285 L216.7,284.9 L217.2,284.9 L217.7,284.9 L218.2,284.9 L218.7,284.8 L219.2,284.8 L219.7,284.8 L220.2,284.7 L220.7,284.7 L221.2,284.7 L221.7,284.6 L222.2,284.6 L222.7,284.5 L223.2,284.5 L223.7,284.4 L224.2,284.4 L224.7,284.3 L225.2,284.2 L225.7,284.2 L226.2,284.1 L226.7,284 L227.2,284 L227.7,283.9 L228.2,283.8 L228.7,283.7 L229.2,283.7 L229.7,283.6 L230.2,283.5 L230.7,283.4 L231.2,283.3 L231.7,283.2 L232.2,283.1 L232.7,283 L233.2,282.9 L233.7,282.8 L234.2,282.7 L234.7,282.5 L235.2,282.4 L235.7,282.3 L236.2,282.2 L236.7,282 L237.2,281.9 L237.7,281.8 L238.2,281.7 L238.7,281.5 L239.2,281.4 L239.7,281.2 L240.2,281.1 L240.7,280.9 L241.2,280.8 L241.7,280.6 L242.2,280.4 L242.7,280.3 L243.2,280.1 L243.7,279.9 L244.2,279.7 L244.7,279.5 L245.2,279.3 L245.7,279 L246.2,278.8 L246.7,278.6 L247.2,278.3 L247.7,278 L248.2,277.7 L248.7,277.4 L249.2,277.1 L249.7,276.7 L250.2,276.3 L250.7,275.9 L251.2,275.5 L251.7,275.1 L252.2,274.6 L252.7,274.1 L253.2,273.5 L253.7,272.9 L254.2,272.3 L254.7,271.7 L255.2,271 L255.7,270.2 L256.2,269.4 L256.7,268.6 L257.2,267.7 L257.7,266.8 L258.2,265.9 L258.7,264.9 L259.2,263.8 L259.7,262.7 L260.2,261.6 L260.7,260.4 L261.2,259.1 L261.7,257.8 L262.2,256.5 L262.7,255.1 L263.2,253.7 L263.7,252.2 L264.2,250.7 L264.7,249.2 L265.2,247.7 L265.7,246.1 L266.2,244.5 L266.7,242.8 L267.2,241.2 L267.7,239.5 L268.2,237.8 L268.7,236.1 L269.2,234.4 L269.7,232.7 L270.2,231.1 L270.7,229.4 L271.2,227.7 L271.7,226.1 L272.2,224.4 L272.7,222.8 L273.2,221.3 L273.7,219.7 L274.2,218.2 L274.7,216.7 L275.2,215.3 L275.7,213.9 L276.2,212.6 L276.7,211.3 L277.2,210 L277.7,208.8 L278.2,207.7 L278.7,206.6 L279.2,205.6 L279.7,204.6 L280.2,203.7 L280.7,202.8 L281.2,202 L281.7,201.3 L282.2,200.6 L282.7,200 L283.2,199.4 L283.7,198.9 L284.2,198.4 L284.7,198.1 L285.2,197.7 L285.7,197.5 L286.2,197.2 L286.7,197.1 L287.2,197 L287.7,197 L288.2,197 L288.7,197.1 L289.2,197.2 L289.7,197.4 L290.2,197.6 L290.7,198 L291.2,198.3 L291.7,198.8 L292.2,199.3 L292.7,199.8 L293.2,200.4 L293.7,201.1 L294.2,201.8 L294.7,202.6 L295.2,203.4 L295.7,204.3 L296.2,205.2 L296.7,206.2 L297.2,207.3 L297.7,208.4 L298.2,209.5 L298.7,210.7 L299.2,212 L299.7,213.2 L300.2,214.6 L300.7,215.9 L301.2,217.3 L301.7,218.8 L302.2,220.3 L302.7,221.8 L303.2,223.3 L303.7,224.8 L304.2,226.4 L304.7,228 L305.2,229.6 L305.7,231.2 L306.2,232.8 L306.7,234.5 L307.2,236.1 L307.7,237.7 L308.2,239.4 L308.7,241 L309.2,242.6 L309.7,244.2 L310.2,245.8 L310.7,247.4 L311.2,248.9 L311.7,250.4 L312.2,251.9 L312.7,253.4 L313.2,254.8 L313.7,256.2 L314.2,257.6 L314.7,259 L315.2,260.3 L315.7,261.6 L316.2,262.8 L316.7,264 L317.2,265.2 L317.7,266.3 L318.2,267.4 L318.7,268.4 L319.2,269.5 L319.7,270.4 L320.2,271.4 L320.7,272.3 L321.2,273.1 L321.7,273.9 L322.2,274.7 L322.7,275.4 L323.2,276.2 L323.7,276.8 L324.2,277.5 L324.7,278.1 L325.2,278.6 L325.7,279.2 L326.2,279.7 L326.7,280.2 L327.2,280.6 L327.7,281.1 L328.2,281.5 L328.7,281.8 L329.2,282.2 L329.7,282.5 L330.2,282.8 L330.7,283.1 L331.2,283.4 L331.7,283.6 L332.2,283.9 L332.7,284.1 L333.2,284.3 L333.7,284.5 L334.2,284.6 L334.7,284.8 L335.2,284.9 L335.7,285.1 L336.2,285.2 L336.7,285.3 L337.2,285.4 L337.7,285.5 L338.2,285.6 L338.7,285.7 L339.2,285.8 L339.7,285.8 L340.2,285.9 L340.7,286 L341.2,286 L341.7,286.1 L342.2,286.1 L342.7,286.2 L343.2,286.2 L343.7,286.2 L344.2,286.3 L344.7,286.3 L345.2,286.3 L345.7,286.3 L346.2,286.4 L346.7,286.4 L347.2,286.4 L347.7,286.4 L348.2,286.4 L348.7,286.4 L349.2,286.5 L349.7,286.5 L350.2,286.5 L350.7,286.5 L351.2,286.5 L351.7,286.5 L352.2,286.5 L352.7,286.5 L353.2,286.5 L353.7,286.5 L354.2,286.5 L354.7,286.6 L355.2,286.6 L355.7,286.6 L356.2,286.6 L356.7,286.6 L357.2,286.6 L357.7,286.6 L358.2,286.6 L358.7,286.6" fill="none" stroke="#f2841e" stroke-width="1.2" stroke-dasharray="3.2 2.3" clip-path="url(#ce)"/>
<clipPath id="cf"><rect x="389.2" y="170.6" width="150.9" height="121"/></clipPath>
<path d="M389.2,282.8 L389.7,282.8 L390.2,282.8 L390.7,282.8 L391.2,282.8 L391.7,282.8 L392.2,282.8 L392.7,282.8 L393.2,282.8 L393.7,282.8 L394.2,282.8 L394.7,282.8 L395.2,282.8 L395.7,282.8 L396.2,282.8 L396.7,282.8 L397.2,282.8 L397.7,282.8 L398.2,282.8 L398.7,282.9 L399.2,282.9 L399.7,282.9 L400.2,282.9 L400.7,282.9 L401.2,282.9 L401.7,282.9 L402.2,282.9 L402.7,282.9 L403.2,282.9 L403.7,282.9 L404.2,282.9 L404.7,282.9 L405.2,282.9 L405.7,282.9 L406.2,282.9 L406.7,282.9 L407.2,282.9 L407.7,282.9 L408.2,282.9 L408.7,282.9 L409.2,282.9 L409.7,282.9 L410.2,282.9 L410.7,282.9 L411.2,282.9 L411.7,282.9 L412.2,282.9 L412.7,282.9 L413.2,282.9 L413.7,282.9 L414.2,282.9 L414.7,282.9 L415.2,282.9 L415.7,282.9 L416.2,282.9 L416.7,282.9 L417.2,282.9 L417.7,282.9 L418.2,282.9 L418.7,282.9 L419.2,282.9 L419.7,282.9 L420.2,282.9 L420.7,282.9 L421.2,282.9 L421.7,282.9 L422.2,282.9 L422.7,282.9 L423.2,282.9 L423.7,282.9 L424.2,282.8 L424.7,282.8 L425.2,282.8 L425.7,282.8 L426.2,282.8 L426.7,282.7 L427.2,282.7 L427.7,282.7 L428.2,282.6 L428.7,282.6 L429.2,282.6 L429.7,282.5 L430.2,282.4 L430.7,282.4 L431.2,282.3 L431.7,282.2 L432.2,282.1 L432.7,282 L433.2,281.9 L433.7,281.8 L434.2,281.7 L434.7,281.5 L435.2,281.3 L435.7,281.1 L436.2,280.9 L436.7,280.7 L437.2,280.5 L437.7,280.2 L438.2,279.9 L438.7,279.6 L439.2,279.3 L439.7,278.9 L440.2,278.5 L440.7,278.1 L441.2,277.7 L441.7,277.2 L442.2,276.7 L442.7,276.2 L443.2,275.6 L443.7,275 L444.2,274.4 L444.7,273.8 L445.2,273.1 L445.7,272.4 L446.2,271.7 L446.7,270.9 L447.2,270.1 L447.7,269.3 L448.2,268.5 L448.7,267.7 L449.2,266.8 L449.7,266 L450.2,265.1 L450.7,264.2 L451.2,263.4 L451.7,262.5 L452.2,261.6 L452.7,260.8 L453.2,260 L453.7,259.2 L454.2,258.4 L454.7,257.7 L455.2,257 L455.7,256.3 L456.2,255.7 L456.7,255.2 L457.2,254.7 L457.7,254.3 L458.2,253.9 L458.7,253.6 L459.2,253.4 L459.7,253.3 L460.2,253.2 L460.7,253.2 L461.2,253.3 L461.7,253.4 L462.2,253.7 L462.7,254 L463.2,254.4 L463.7,254.8 L464.2,255.3 L464.7,255.9 L465.2,256.5 L465.7,257.2 L466.2,257.9 L466.7,258.7 L467.2,259.4 L467.7,260.3 L468.2,261.1 L468.7,262 L469.2,262.8 L469.7,263.7 L470.2,264.6 L470.7,265.5 L471.2,266.3 L471.7,267.2 L472.2,268.1 L472.7,268.9 L473.2,269.8 L473.7,270.6 L474.2,271.4 L474.7,272.1 L475.2,272.9 L475.7,273.6 L476.2,274.3 L476.7,274.9 L477.2,275.6 L477.7,276.2 L478.2,276.7 L478.7,277.3 L479.2,277.8 L479.7,278.3 L480.2,278.7 L480.7,279.2 L481.2,279.5 L481.7,279.9 L482.2,280.3 L482.7,280.6 L483.2,280.9 L483.7,281.2 L484.2,281.4 L484.7,281.6 L485.2,281.9 L485.7,282.1 L486.2,282.2 L486.7,282.4 L487.2,282.5 L487.7,282.7 L488.2,282.8 L488.7,282.9 L489.2,283 L489.7,283.1 L490.2,283.2 L490.7,283.3 L491.2,283.4 L491.7,283.4 L492.2,283.5 L492.7,283.5 L493.2,283.6 L493.7,283.6 L494.2,283.7 L494.7,283.7 L495.2,283.8 L495.7,283.8 L496.2,283.8 L496.7,283.9 L497.2,283.9 L497.7,283.9 L498.2,283.9 L498.7,284 L499.2,284 L499.7,284 L500.2,284 L500.7,284 L501.2,284.1 L501.7,284.1 L502.2,284.1 L502.7,284.1 L503.2,284.1 L503.7,284.1 L504.2,284.2 L504.7,284.2 L505.2,284.2 L505.7,284.2 L506.2,284.2 L506.7,284.2 L507.2,284.2 L507.7,284.2 L508.2,284.3 L508.7,284.3 L509.2,284.3 L509.7,284.3 L510.2,284.3 L510.7,284.3 L511.2,284.3 L511.7,284.3 L512.2,284.4 L512.7,284.4 L513.2,284.4 L513.7,284.4 L514.2,284.4 L514.7,284.4 L515.2,284.4 L515.7,284.4 L516.2,284.4 L516.7,284.5 L517.2,284.5 L517.7,284.5 L518.2,284.5 L518.7,284.5 L519.2,284.5 L519.7,284.5 L520.2,284.5 L520.7,284.5 L521.2,284.6 L521.7,284.6 L522.2,284.6 L522.7,284.6 L523.2,284.6 L523.7,284.6 L524.2,284.6 L524.7,284.6 L525.2,284.6 L525.7,284.6 L526.2,284.6 L526.7,284.7 L527.2,284.7 L527.7,284.7 L528.2,284.7 L528.7,284.7 L529.2,284.7 L529.7,284.7 L530.2,284.7 L530.7,284.7 L531.2,284.7 L531.7,284.7 L532.2,284.8 L532.7,284.8 L533.2,284.8 L533.7,284.8 L534.2,284.8 L534.7,284.8 L535.2,284.8 L535.7,284.8 L536.2,284.8 L536.7,284.8 L537.2,284.8 L537.7,284.9 L538.2,284.9 L538.7,284.9 L539.2,284.9 L539.7,284.9 L539.7,285 L539.2,285 L538.7,285 L538.2,285 L537.7,285 L537.2,285 L536.7,285 L536.2,284.9 L535.7,284.9 L535.2,284.9 L534.7,284.9 L534.2,284.9 L533.7,284.9 L533.2,284.9 L532.7,284.9 L532.2,284.9 L531.7,284.9 L531.2,284.9 L530.7,284.9 L530.2,284.9 L529.7,284.9 L529.2,284.8 L528.7,284.8 L528.2,284.8 L527.7,284.8 L527.2,284.8 L526.7,284.8 L526.2,284.8 L525.7,284.8 L525.2,284.8 L524.7,284.8 L524.2,284.8 L523.7,284.8 L523.2,284.8 L522.7,284.8 L522.2,284.8 L521.7,284.7 L521.2,284.7 L520.7,284.7 L520.2,284.7 L519.7,284.7 L519.2,284.7 L518.7,284.7 L518.2,284.7 L517.7,284.7 L517.2,284.7 L516.7,284.7 L516.2,284.7 L515.7,284.7 L515.2,284.7 L514.7,284.6 L514.2,284.6 L513.7,284.6 L513.2,284.6 L512.7,284.6 L512.2,284.6 L511.7,284.6 L511.2,284.6 L510.7,284.6 L510.2,284.6 L509.7,284.6 L509.2,284.6 L508.7,284.6 L508.2,284.6 L507.7,284.6 L507.2,284.5 L506.7,284.5 L506.2,284.5 L505.7,284.5 L505.2,284.5 L504.7,284.5 L504.2,284.5 L503.7,284.5 L503.2,284.5 L502.7,284.5 L502.2,284.5 L501.7,284.5 L501.2,284.5 L500.7,284.5 L500.2,284.4 L499.7,284.4 L499.2,284.4 L498.7,284.4 L498.2,284.4 L497.7,284.4 L497.2,284.4 L496.7,284.4 L496.2,284.4 L495.7,284.4 L495.2,284.4 L494.7,284.4 L494.2,284.4 L493.7,284.4 L493.2,284.3 L492.7,284.3 L492.2,284.3 L491.7,284.3 L491.2,284.3 L490.7,284.3 L490.2,284.3 L489.7,284.3 L489.2,284.3 L488.7,284.3 L488.2,284.3 L487.7,284.3 L487.2,284.3 L486.7,284.3 L486.2,284.3 L485.7,284.2 L485.2,284.2 L484.7,284.2 L484.2,284.2 L483.7,284.2 L483.2,284.2 L482.7,284.2 L482.2,284.2 L481.7,284.2 L481.2,284.2 L480.7,284.2 L480.2,284.2 L479.7,284.2 L479.2,284.2 L478.7,284.1 L478.2,284.1 L477.7,284.1 L477.2,284.1 L476.7,284.1 L476.2,284.1 L475.7,284.1 L475.2,284.1 L474.7,284.1 L474.2,284.1 L473.7,284.1 L473.2,284.1 L472.7,284.1 L472.2,284.1 L471.7,284.1 L471.2,284 L470.7,284 L470.2,284 L469.7,284 L469.2,284 L468.7,284 L468.2,284 L467.7,284 L467.2,284 L466.7,284 L466.2,284 L465.7,284 L465.2,284 L464.7,284 L464.2,283.9 L463.7,283.9 L463.2,283.9 L462.7,283.9 L462.2,283.9 L461.7,283.9 L461.2,283.9 L460.7,283.9 L460.2,283.9 L459.7,283.9 L459.2,283.9 L458.7,283.9 L458.2,283.9 L457.7,283.9 L457.2,283.8 L456.7,283.8 L456.2,283.8 L455.7,283.8 L455.2,283.8 L454.7,283.8 L454.2,283.8 L453.7,283.8 L453.2,283.8 L452.7,283.8 L452.2,283.8 L451.7,283.8 L451.2,283.8 L450.7,283.8 L450.2,283.8 L449.7,283.7 L449.2,283.7 L448.7,283.7 L448.2,283.7 L447.7,283.7 L447.2,283.7 L446.7,283.7 L446.2,283.7 L445.7,283.7 L445.2,283.7 L444.7,283.7 L444.2,283.7 L443.7,283.7 L443.2,283.7 L442.7,283.6 L442.2,283.6 L441.7,283.6 L441.2,283.6 L440.7,283.6 L440.2,283.6 L439.7,283.6 L439.2,283.6 L438.7,283.6 L438.2,283.6 L437.7,283.6 L437.2,283.6 L436.7,283.6 L436.2,283.6 L435.7,283.5 L435.2,283.5 L434.7,283.5 L434.2,283.5 L433.7,283.5 L433.2,283.5 L432.7,283.5 L432.2,283.5 L431.7,283.5 L431.2,283.5 L430.7,283.5 L430.2,283.5 L429.7,283.5 L429.2,283.5 L428.7,283.5 L428.2,283.4 L427.7,283.4 L427.2,283.4 L426.7,283.4 L426.2,283.4 L425.7,283.4 L425.2,283.4 L424.7,283.4 L424.2,283.4 L423.7,283.4 L423.2,283.4 L422.7,283.4 L422.2,283.4 L421.7,283.4 L421.2,283.3 L420.7,283.3 L420.2,283.3 L419.7,283.3 L419.2,283.3 L418.7,283.3 L418.2,283.3 L417.7,283.3 L417.2,283.3 L416.7,283.3 L416.2,283.3 L415.7,283.3 L415.2,283.3 L414.7,283.3 L414.2,283.3 L413.7,283.2 L413.2,283.2 L412.7,283.2 L412.2,283.2 L411.7,283.2 L411.2,283.2 L410.7,283.2 L410.2,283.2 L409.7,283.2 L409.2,283.2 L408.7,283.2 L408.2,283.2 L407.7,283.2 L407.2,283.2 L406.7,283.1 L406.2,283.1 L405.7,283.1 L405.2,283.1 L404.7,283.1 L404.2,283.1 L403.7,283.1 L403.2,283.1 L402.7,283.1 L402.2,283.1 L401.7,283.1 L401.2,283.1 L400.7,283.1 L400.2,283.1 L399.7,283 L399.2,283 L398.7,283 L398.2,283 L397.7,283 L397.2,283 L396.7,283 L396.2,283 L395.7,283 L395.2,283 L394.7,283 L394.2,283 L393.7,283 L393.2,283 L392.7,283 L392.2,282.9 L391.7,282.9 L391.2,282.9 L390.7,282.9 L390.2,282.9 L389.7,282.9 L389.2,282.9 Z" fill="#ff0c0c" fill-opacity="0.35" stroke="none" clip-path="url(#cf)"/>
<path d="M389.2,282.8 L389.7,282.8 L390.2,282.8 L390.7,282.8 L391.2,282.8 L391.7,282.8 L392.2,282.8 L392.7,282.8 L393.2,282.8 L393.7,282.8 L394.2,282.8 L394.7,282.8 L395.2,282.8 L395.7,282.8 L396.2,282.8 L396.7,282.8 L397.2,282.8 L397.7,282.8 L398.2,282.8 L398.7,282.9 L399.2,282.9 L399.7,282.9 L400.2,282.9 L400.7,282.9 L401.2,282.9 L401.7,282.9 L402.2,282.9 L402.7,282.9 L403.2,282.9 L403.7,282.9 L404.2,282.9 L404.7,282.9 L405.2,282.9 L405.7,282.9 L406.2,282.9 L406.7,282.9 L407.2,282.9 L407.7,282.9 L408.2,282.9 L408.7,282.9 L409.2,282.9 L409.7,282.9 L410.2,282.9 L410.7,282.9 L411.2,282.9 L411.7,282.9 L412.2,282.9 L412.7,282.9 L413.2,282.9 L413.7,282.9 L414.2,282.9 L414.7,282.9 L415.2,282.9 L415.7,282.9 L416.2,282.9 L416.7,282.9 L417.2,282.9 L417.7,282.9 L418.2,282.9 L418.7,282.9 L419.2,282.9 L419.7,282.9 L420.2,282.9 L420.7,282.9 L421.2,282.9 L421.7,282.9 L422.2,282.9 L422.7,282.9 L423.2,282.9 L423.7,282.9 L424.2,282.8 L424.7,282.8 L425.2,282.8 L425.7,282.8 L426.2,282.8 L426.7,282.7 L427.2,282.7 L427.7,282.7 L428.2,282.6 L428.7,282.6 L429.2,282.6 L429.7,282.5 L430.2,282.4 L430.7,282.4 L431.2,282.3 L431.7,282.2 L432.2,282.1 L432.7,282 L433.2,281.9 L433.7,281.8 L434.2,281.7 L434.7,281.5 L435.2,281.3 L435.7,281.1 L436.2,280.9 L436.7,280.7 L437.2,280.5 L437.7,280.2 L438.2,279.9 L438.7,279.6 L439.2,279.3 L439.7,278.9 L440.2,278.5 L440.7,278.1 L441.2,277.7 L441.7,277.2 L442.2,276.7 L442.7,276.2 L443.2,275.6 L443.7,275 L444.2,274.4 L444.7,273.8 L445.2,273.1 L445.7,272.4 L446.2,271.7 L446.7,270.9 L447.2,270.1 L447.7,269.3 L448.2,268.5 L448.7,267.7 L449.2,266.8 L449.7,266 L450.2,265.1 L450.7,264.2 L451.2,263.4 L451.7,262.5 L452.2,261.6 L452.7,260.8 L453.2,260 L453.7,259.2 L454.2,258.4 L454.7,257.7 L455.2,257 L455.7,256.3 L456.2,255.7 L456.7,255.2 L457.2,254.7 L457.7,254.3 L458.2,253.9 L458.7,253.6 L459.2,253.4 L459.7,253.3 L460.2,253.2 L460.7,253.2 L461.2,253.3 L461.7,253.4 L462.2,253.7 L462.7,254 L463.2,254.4 L463.7,254.8 L464.2,255.3 L464.7,255.9 L465.2,256.5 L465.7,257.2 L466.2,257.9 L466.7,258.7 L467.2,259.4 L467.7,260.3 L468.2,261.1 L468.7,262 L469.2,262.8 L469.7,263.7 L470.2,264.6 L470.7,265.5 L471.2,266.3 L471.7,267.2 L472.2,268.1 L472.7,268.9 L473.2,269.8 L473.7,270.6 L474.2,271.4 L474.7,272.1 L475.2,272.9 L475.7,273.6 L476.2,274.3 L476.7,274.9 L477.2,275.6 L477.7,276.2 L478.2,276.7 L478.7,277.3 L479.2,277.8 L479.7,278.3 L480.2,278.7 L480.7,279.2 L481.2,279.5 L481.7,279.9 L482.2,280.3 L482.7,280.6 L483.2,280.9 L483.7,281.2 L484.2,281.4 L484.7,281.6 L485.2,281.9 L485.7,282.1 L486.2,282.2 L486.7,282.4 L487.2,282.5 L487.7,282.7 L488.2,282.8 L488.7,282.9 L489.2,283 L489.7,283.1 L490.2,283.2 L490.7,283.3 L491.2,283.4 L491.7,283.4 L492.2,283.5 L492.7,283.5 L493.2,283.6 L493.7,283.6 L494.2,283.7 L494.7,283.7 L495.2,283.8 L495.7,283.8 L496.2,283.8 L496.7,283.9 L497.2,283.9 L497.7,283.9 L498.2,283.9 L498.7,284 L499.2,284 L499.7,284 L500.2,284 L500.7,284 L501.2,284.1 L501.7,284.1 L502.2,284.1 L502.7,284.1 L503.2,284.1 L503.7,284.1 L504.2,284.2 L504.7,284.2 L505.2,284.2 L505.7,284.2 L506.2,284.2 L506.7,284.2 L507.2,284.2 L507.7,284.2 L508.2,284.3 L508.7,284.3 L509.2,284.3 L509.7,284.3 L510.2,284.3 L510.7,284.3 L511.2,284.3 L511.7,284.3 L512.2,284.4 L512.7,284.4 L513.2,284.4 L513.7,284.4 L514.2,284.4 L514.7,284.4 L515.2,284.4 L515.7,284.4 L516.2,284.4 L516.7,284.5 L517.2,284.5 L517.7,284.5 L518.2,284.5 L518.7,284.5 L519.2,284.5 L519.7,284.5 L520.2,284.5 L520.7,284.5 L521.2,284.6 L521.7,284.6 L522.2,284.6 L522.7,284.6 L523.2,284.6 L523.7,284.6 L524.2,284.6 L524.7,284.6 L525.2,284.6 L525.7,284.6 L526.2,284.6 L526.7,284.7 L527.2,284.7 L527.7,284.7 L528.2,284.7 L528.7,284.7 L529.2,284.7 L529.7,284.7 L530.2,284.7 L530.7,284.7 L531.2,284.7 L531.7,284.7 L532.2,284.8 L532.7,284.8 L533.2,284.8 L533.7,284.8 L534.2,284.8 L534.7,284.8 L535.2,284.8 L535.7,284.8 L536.2,284.8 L536.7,284.8 L537.2,284.8 L537.7,284.9 L538.2,284.9 L538.7,284.9 L539.2,284.9 L539.7,284.9" fill="none" stroke="#ee3b44" stroke-width="1.2" clip-path="url(#cf)"/>
<path d="M389.2,282.6 L389.7,282.6 L390.2,282.6 L390.7,282.6 L391.2,282.6 L391.7,282.6 L392.2,282.6 L392.7,282.6 L393.2,282.6 L393.7,282.6 L394.2,282.6 L394.7,282.6 L395.2,282.6 L395.7,282.6 L396.2,282.6 L396.7,282.6 L397.2,282.6 L397.7,282.6 L398.2,282.6 L398.7,282.6 L399.2,282.6 L399.7,282.6 L400.2,282.6 L400.7,282.6 L401.2,282.6 L401.7,282.6 L402.2,282.6 L402.7,282.6 L403.2,282.6 L403.7,282.6 L404.2,282.6 L404.7,282.6 L405.2,282.6 L405.7,282.6 L406.2,282.6 L406.7,282.6 L407.2,282.6 L407.7,282.6 L408.2,282.6 L408.7,282.6 L409.2,282.6 L409.7,282.6 L410.2,282.6 L410.7,282.6 L411.2,282.6 L411.7,282.6 L412.2,282.6 L412.7,282.6 L413.2,282.6 L413.7,282.6 L414.2,282.6 L414.7,282.6 L415.2,282.6 L415.7,282.6 L416.2,282.6 L416.7,282.6 L417.2,282.6 L417.7,282.6 L418.2,282.6 L418.7,282.6 L419.2,282.6 L419.7,282.6 L420.2,282.6 L420.7,282.6 L421.2,282.5 L421.7,282.5 L422.2,282.5 L422.7,282.5 L423.2,282.5 L423.7,282.5 L424.2,282.5 L424.7,282.5 L425.2,282.5 L425.7,282.5 L426.2,282.5 L426.7,282.5 L427.2,282.5 L427.7,282.4 L428.2,282.4 L428.7,282.4 L429.2,282.4 L429.7,282.4 L430.2,282.4 L430.7,282.4 L431.2,282.3 L431.7,282.3 L432.2,282.3 L432.7,282.3 L433.2,282.3 L433.7,282.2 L434.2,282.2 L434.7,282.2 L435.2,282.2 L435.7,282.1 L436.2,282.1 L436.7,282 L437.2,282 L437.7,282 L438.2,281.9 L438.7,281.9 L439.2,281.8 L439.7,281.7 L440.2,281.7 L440.7,281.6 L441.2,281.5 L441.7,281.4 L442.2,281.3 L442.7,281.2 L443.2,281.1 L443.7,281 L444.2,280.9 L444.7,280.7 L445.2,280.6 L445.7,280.4 L446.2,280.2 L446.7,280 L447.2,279.8 L447.7,279.5 L448.2,279.3 L448.7,279 L449.2,278.7 L449.7,278.4 L450.2,278 L450.7,277.6 L451.2,277.2 L451.7,276.8 L452.2,276.3 L452.7,275.8 L453.2,275.3 L453.7,274.7 L454.2,274.1 L454.7,273.4 L455.2,272.7 L455.7,272 L456.2,271.2 L456.7,270.4 L457.2,269.5 L457.7,268.6 L458.2,267.6 L458.7,266.6 L459.2,265.5 L459.7,264.4 L460.2,263.2 L460.7,262 L461.2,260.7 L461.7,259.4 L462.2,258 L462.7,256.6 L463.2,255.1 L463.7,253.6 L464.2,252.1 L464.7,250.5 L465.2,248.9 L465.7,247.2 L466.2,245.5 L466.7,243.8 L467.2,242 L467.7,240.2 L468.2,238.5 L468.7,236.7 L469.2,234.9 L469.7,233 L470.2,231.2 L470.7,229.5 L471.2,227.7 L471.7,225.9 L472.2,224.2 L472.7,222.5 L473.2,220.9 L473.7,219.3 L474.2,217.8 L474.7,216.3 L475.2,214.9 L475.7,213.6 L476.2,212.4 L476.7,211.3 L477.2,210.3 L477.7,209.3 L478.2,208.5 L478.7,207.8 L479.2,207.2 L479.7,206.8 L480.2,206.5 L480.7,206.3 L481.2,206.2 L481.7,206.3 L482.2,206.5 L482.7,206.8 L483.2,207.3 L483.7,207.8 L484.2,208.5 L484.7,209.4 L485.2,210.3 L485.7,211.3 L486.2,212.5 L486.7,213.7 L487.2,215 L487.7,216.4 L488.2,217.9 L488.7,219.4 L489.2,221 L489.7,222.7 L490.2,224.4 L490.7,226.1 L491.2,227.8 L491.7,229.6 L492.2,231.4 L492.7,233.2 L493.2,235.1 L493.7,236.9 L494.2,238.7 L494.7,240.5 L495.2,242.3 L495.7,244 L496.2,245.8 L496.7,247.5 L497.2,249.2 L497.7,250.8 L498.2,252.4 L498.7,254 L499.2,255.5 L499.7,257 L500.2,258.5 L500.7,259.8 L501.2,261.2 L501.7,262.5 L502.2,263.7 L502.7,264.9 L503.2,266 L503.7,267.1 L504.2,268.2 L504.7,269.2 L505.2,270.1 L505.7,271 L506.2,271.8 L506.7,272.6 L507.2,273.4 L507.7,274.1 L508.2,274.8 L508.7,275.4 L509.2,276 L509.7,276.6 L510.2,277.1 L510.7,277.6 L511.2,278 L511.7,278.5 L512.2,278.9 L512.7,279.2 L513.2,279.6 L513.7,279.9 L514.2,280.2 L514.7,280.5 L515.2,280.7 L515.7,281 L516.2,281.2 L516.7,281.4 L517.2,281.6 L517.7,281.7 L518.2,281.9 L518.7,282 L519.2,282.2 L519.7,282.3 L520.2,282.4 L520.7,282.5 L521.2,282.6 L521.7,282.7 L522.2,282.8 L522.7,282.9 L523.2,283 L523.7,283 L524.2,283.1 L524.7,283.2 L525.2,283.2 L525.7,283.3 L526.2,283.3 L526.7,283.4 L527.2,283.4 L527.7,283.5 L528.2,283.5 L528.7,283.6 L529.2,283.6 L529.7,283.6 L530.2,283.7 L530.7,283.7 L531.2,283.7 L531.7,283.8 L532.2,283.8 L532.7,283.8 L533.2,283.8 L533.7,283.9 L534.2,283.9 L534.7,283.9 L535.2,284 L535.7,284 L536.2,284 L536.7,284 L537.2,284 L537.7,284.1 L538.2,284.1 L538.7,284.1 L539.2,284.1 L539.7,284.2 L539.7,285 L539.2,285 L538.7,285 L538.2,285 L537.7,285 L537.2,285 L536.7,285 L536.2,284.9 L535.7,284.9 L535.2,284.9 L534.7,284.9 L534.2,284.9 L533.7,284.9 L533.2,284.9 L532.7,284.9 L532.2,284.9 L531.7,284.9 L531.2,284.9 L530.7,284.9 L530.2,284.9 L529.7,284.9 L529.2,284.8 L528.7,284.8 L528.2,284.8 L527.7,284.8 L527.2,284.8 L526.7,284.8 L526.2,284.8 L525.7,284.8 L525.2,284.8 L524.7,284.8 L524.2,284.8 L523.7,284.8 L523.2,284.8 L522.7,284.8 L522.2,284.8 L521.7,284.7 L521.2,284.7 L520.7,284.7 L520.2,284.7 L519.7,284.7 L519.2,284.7 L518.7,284.7 L518.2,284.7 L517.7,284.7 L517.2,284.7 L516.7,284.7 L516.2,284.7 L515.7,284.7 L515.2,284.7 L514.7,284.6 L514.2,284.6 L513.7,284.6 L513.2,284.6 L512.7,284.6 L512.2,284.6 L511.7,284.6 L511.2,284.6 L510.7,284.6 L510.2,284.6 L509.7,284.6 L509.2,284.6 L508.7,284.6 L508.2,284.6 L507.7,284.6 L507.2,284.5 L506.7,284.5 L506.2,284.5 L505.7,284.5 L505.2,284.5 L504.7,284.5 L504.2,284.5 L503.7,284.5 L503.2,284.5 L502.7,284.5 L502.2,284.5 L501.7,284.5 L501.2,284.5 L500.7,284.5 L500.2,284.4 L499.7,284.4 L499.2,284.4 L498.7,284.4 L498.2,284.4 L497.7,284.4 L497.2,284.4 L496.7,284.4 L496.2,284.4 L495.7,284.4 L495.2,284.4 L494.7,284.4 L494.2,284.4 L493.7,284.4 L493.2,284.3 L492.7,284.3 L492.2,284.3 L491.7,284.3 L491.2,284.3 L490.7,284.3 L490.2,284.3 L489.7,284.3 L489.2,284.3 L488.7,284.3 L488.2,284.3 L487.7,284.3 L487.2,284.3 L486.7,284.3 L486.2,284.3 L485.7,284.2 L485.2,284.2 L484.7,284.2 L484.2,284.2 L483.7,284.2 L483.2,284.2 L482.7,284.2 L482.2,284.2 L481.7,284.2 L481.2,284.2 L480.7,284.2 L480.2,284.2 L479.7,284.2 L479.2,284.2 L478.7,284.1 L478.2,284.1 L477.7,284.1 L477.2,284.1 L476.7,284.1 L476.2,284.1 L475.7,284.1 L475.2,284.1 L474.7,284.1 L474.2,284.1 L473.7,284.1 L473.2,284.1 L472.7,284.1 L472.2,284.1 L471.7,284.1 L471.2,284 L470.7,284 L470.2,284 L469.7,284 L469.2,284 L468.7,284 L468.2,284 L467.7,284 L467.2,284 L466.7,284 L466.2,284 L465.7,284 L465.2,284 L464.7,284 L464.2,283.9 L463.7,283.9 L463.2,283.9 L462.7,283.9 L462.2,283.9 L461.7,283.9 L461.2,283.9 L460.7,283.9 L460.2,283.9 L459.7,283.9 L459.2,283.9 L458.7,283.9 L458.2,283.9 L457.7,283.9 L457.2,283.8 L456.7,283.8 L456.2,283.8 L455.7,283.8 L455.2,283.8 L454.7,283.8 L454.2,283.8 L453.7,283.8 L453.2,283.8 L452.7,283.8 L452.2,283.8 L451.7,283.8 L451.2,283.8 L450.7,283.8 L450.2,283.8 L449.7,283.7 L449.2,283.7 L448.7,283.7 L448.2,283.7 L447.7,283.7 L447.2,283.7 L446.7,283.7 L446.2,283.7 L445.7,283.7 L445.2,283.7 L444.7,283.7 L444.2,283.7 L443.7,283.7 L443.2,283.7 L442.7,283.6 L442.2,283.6 L441.7,283.6 L441.2,283.6 L440.7,283.6 L440.2,283.6 L439.7,283.6 L439.2,283.6 L438.7,283.6 L438.2,283.6 L437.7,283.6 L437.2,283.6 L436.7,283.6 L436.2,283.6 L435.7,283.5 L435.2,283.5 L434.7,283.5 L434.2,283.5 L433.7,283.5 L433.2,283.5 L432.7,283.5 L432.2,283.5 L431.7,283.5 L431.2,283.5 L430.7,283.5 L430.2,283.5 L429.7,283.5 L429.2,283.5 L428.7,283.5 L428.2,283.4 L427.7,283.4 L427.2,283.4 L426.7,283.4 L426.2,283.4 L425.7,283.4 L425.2,283.4 L424.7,283.4 L424.2,283.4 L423.7,283.4 L423.2,283.4 L422.7,283.4 L422.2,283.4 L421.7,283.4 L421.2,283.3 L420.7,283.3 L420.2,283.3 L419.7,283.3 L419.2,283.3 L418.7,283.3 L418.2,283.3 L417.7,283.3 L417.2,283.3 L416.7,283.3 L416.2,283.3 L415.7,283.3 L415.2,283.3 L414.7,283.3 L414.2,283.3 L413.7,283.2 L413.2,283.2 L412.7,283.2 L412.2,283.2 L411.7,283.2 L411.2,283.2 L410.7,283.2 L410.2,283.2 L409.7,283.2 L409.2,283.2 L408.7,283.2 L408.2,283.2 L407.7,283.2 L407.2,283.2 L406.7,283.1 L406.2,283.1 L405.7,283.1 L405.2,283.1 L404.7,283.1 L404.2,283.1 L403.7,283.1 L403.2,283.1 L402.7,283.1 L402.2,283.1 L401.7,283.1 L401.2,283.1 L400.7,283.1 L400.2,283.1 L399.7,283 L399.2,283 L398.7,283 L398.2,283 L397.7,283 L397.2,283 L396.7,283 L396.2,283 L395.7,283 L395.2,283 L394.7,283 L394.2,283 L393.7,283 L393.2,283 L392.7,283 L392.2,282.9 L391.7,282.9 L391.2,282.9 L390.7,282.9 L390.2,282.9 L389.7,282.9 L389.2,282.9 Z" fill="#548de2" fill-opacity="0.35" stroke="none" clip-path="url(#cf)"/>
<path d="M389.2,282.6 L389.7,282.6 L390.2,282.6 L390.7,282.6 L391.2,282.6 L391.7,282.6 L392.2,282.6 L392.7,282.6 L393.2,282.6 L393.7,282.6 L394.2,282.6 L394.7,282.6 L395.2,282.6 L395.7,282.6 L396.2,282.6 L396.7,282.6 L397.2,282.6 L397.7,282.6 L398.2,282.6 L398.7,282.6 L399.2,282.6 L399.7,282.6 L400.2,282.6 L400.7,282.6 L401.2,282.6 L401.7,282.6 L402.2,282.6 L402.7,282.6 L403.2,282.6 L403.7,282.6 L404.2,282.6 L404.7,282.6 L405.2,282.6 L405.7,282.6 L406.2,282.6 L406.7,282.6 L407.2,282.6 L407.7,282.6 L408.2,282.6 L408.7,282.6 L409.2,282.6 L409.7,282.6 L410.2,282.6 L410.7,282.6 L411.2,282.6 L411.7,282.6 L412.2,282.6 L412.7,282.6 L413.2,282.6 L413.7,282.6 L414.2,282.6 L414.7,282.6 L415.2,282.6 L415.7,282.6 L416.2,282.6 L416.7,282.6 L417.2,282.6 L417.7,282.6 L418.2,282.6 L418.7,282.6 L419.2,282.6 L419.7,282.6 L420.2,282.6 L420.7,282.6 L421.2,282.5 L421.7,282.5 L422.2,282.5 L422.7,282.5 L423.2,282.5 L423.7,282.5 L424.2,282.5 L424.7,282.5 L425.2,282.5 L425.7,282.5 L426.2,282.5 L426.7,282.5 L427.2,282.5 L427.7,282.4 L428.2,282.4 L428.7,282.4 L429.2,282.4 L429.7,282.4 L430.2,282.4 L430.7,282.4 L431.2,282.3 L431.7,282.3 L432.2,282.3 L432.7,282.3 L433.2,282.3 L433.7,282.2 L434.2,282.2 L434.7,282.2 L435.2,282.2 L435.7,282.1 L436.2,282.1 L436.7,282 L437.2,282 L437.7,282 L438.2,281.9 L438.7,281.9 L439.2,281.8 L439.7,281.7 L440.2,281.7 L440.7,281.6 L441.2,281.5 L441.7,281.4 L442.2,281.3 L442.7,281.2 L443.2,281.1 L443.7,281 L444.2,280.9 L444.7,280.7 L445.2,280.6 L445.7,280.4 L446.2,280.2 L446.7,280 L447.2,279.8 L447.7,279.5 L448.2,279.3 L448.7,279 L449.2,278.7 L449.7,278.4 L450.2,278 L450.7,277.6 L451.2,277.2 L451.7,276.8 L452.2,276.3 L452.7,275.8 L453.2,275.3 L453.7,274.7 L454.2,274.1 L454.7,273.4 L455.2,272.7 L455.7,272 L456.2,271.2 L456.7,270.4 L457.2,269.5 L457.7,268.6 L458.2,267.6 L458.7,266.6 L459.2,265.5 L459.7,264.4 L460.2,263.2 L460.7,262 L461.2,260.7 L461.7,259.4 L462.2,258 L462.7,256.6 L463.2,255.1 L463.7,253.6 L464.2,252.1 L464.7,250.5 L465.2,248.9 L465.7,247.2 L466.2,245.5 L466.7,243.8 L467.2,242 L467.7,240.2 L468.2,238.5 L468.7,236.7 L469.2,234.9 L469.7,233 L470.2,231.2 L470.7,229.5 L471.2,227.7 L471.7,225.9 L472.2,224.2 L472.7,222.5 L473.2,220.9 L473.7,219.3 L474.2,217.8 L474.7,216.3 L475.2,214.9 L475.7,213.6 L476.2,212.4 L476.7,211.3 L477.2,210.3 L477.7,209.3 L478.2,208.5 L478.7,207.8 L479.2,207.2 L479.7,206.8 L480.2,206.5 L480.7,206.3 L481.2,206.2 L481.7,206.3 L482.2,206.5 L482.7,206.8 L483.2,207.3 L483.7,207.8 L484.2,208.5 L484.7,209.4 L485.2,210.3 L485.7,211.3 L486.2,212.5 L486.7,213.7 L487.2,215 L487.7,216.4 L488.2,217.9 L488.7,219.4 L489.2,221 L489.7,222.7 L490.2,224.4 L490.7,226.1 L491.2,227.8 L491.7,229.6 L492.2,231.4 L492.7,233.2 L493.2,235.1 L493.7,236.9 L494.2,238.7 L494.7,240.5 L495.2,242.3 L495.7,244 L496.2,245.8 L496.7,247.5 L497.2,249.2 L497.7,250.8 L498.2,252.4 L498.7,254 L499.2,255.5 L499.7,257 L500.2,258.5 L500.7,259.8 L501.2,261.2 L501.7,262.5 L502.2,263.7 L502.7,264.9 L503.2,266 L503.7,267.1 L504.2,268.2 L504.7,269.2 L505.2,270.1 L505.7,271 L506.2,271.8 L506.7,272.6 L507.2,273.4 L507.7,274.1 L508.2,274.8 L508.7,275.4 L509.2,276 L509.7,276.6 L510.2,277.1 L510.7,277.6 L511.2,278 L511.7,278.5 L512.2,278.9 L512.7,279.2 L513.2,279.6 L513.7,279.9 L514.2,280.2 L514.7,280.5 L515.2,280.7 L515.7,281 L516.2,281.2 L516.7,281.4 L517.2,281.6 L517.7,281.7 L518.2,281.9 L518.7,282 L519.2,282.2 L519.7,282.3 L520.2,282.4 L520.7,282.5 L521.2,282.6 L521.7,282.7 L522.2,282.8 L522.7,282.9 L523.2,283 L523.7,283 L524.2,283.1 L524.7,283.2 L525.2,283.2 L525.7,283.3 L526.2,283.3 L526.7,283.4 L527.2,283.4 L527.7,283.5 L528.2,283.5 L528.7,283.6 L529.2,283.6 L529.7,283.6 L530.2,283.7 L530.7,283.7 L531.2,283.7 L531.7,283.8 L532.2,283.8 L532.7,283.8 L533.2,283.8 L533.7,283.9 L534.2,283.9 L534.7,283.9 L535.2,284 L535.7,284 L536.2,284 L536.7,284 L537.2,284 L537.7,284.1 L538.2,284.1 L538.7,284.1 L539.2,284.1 L539.7,284.2" fill="none" stroke="#1f6ad8" stroke-width="1.2" clip-path="url(#cf)"/>
<path d="M389.2,282.7 L389.7,282.7 L390.2,282.7 L390.7,282.7 L391.2,282.7 L391.7,282.7 L392.2,282.7 L392.7,282.7 L393.2,282.7 L393.7,282.8 L394.2,282.8 L394.7,282.8 L395.2,282.8 L395.7,282.8 L396.2,282.8 L396.7,282.8 L397.2,282.8 L397.7,282.8 L398.2,282.8 L398.7,282.8 L399.2,282.8 L399.7,282.8 L400.2,282.8 L400.7,282.8 L401.2,282.8 L401.7,282.8 L402.2,282.8 L402.7,282.8 L403.2,282.8 L403.7,282.8 L404.2,282.8 L404.7,282.8 L405.2,282.8 L405.7,282.8 L406.2,282.8 L406.7,282.8 L407.2,282.8 L407.7,282.8 L408.2,282.7 L408.7,282.7 L409.2,282.7 L409.7,282.7 L410.2,282.7 L410.7,282.7 L411.2,282.7 L411.7,282.7 L412.2,282.7 L412.7,282.6 L413.2,282.6 L413.7,282.6 L414.2,282.6 L414.7,282.6 L415.2,282.5 L415.7,282.5 L416.2,282.5 L416.7,282.4 L417.2,282.4 L417.7,282.4 L418.2,282.3 L418.7,282.3 L419.2,282.2 L419.7,282.2 L420.2,282.1 L420.7,282 L421.2,282 L421.7,281.9 L422.2,281.8 L422.7,281.7 L423.2,281.6 L423.7,281.5 L424.2,281.4 L424.7,281.3 L425.2,281.2 L425.7,281.1 L426.2,281 L426.7,280.8 L427.2,280.7 L427.7,280.6 L428.2,280.4 L428.7,280.3 L429.2,280.1 L429.7,279.9 L430.2,279.7 L430.7,279.6 L431.2,279.4 L431.7,279.2 L432.2,279 L432.7,278.8 L433.2,278.6 L433.7,278.4 L434.2,278.2 L434.7,278 L435.2,277.8 L435.7,277.6 L436.2,277.4 L436.7,277.2 L437.2,277 L437.7,276.8 L438.2,276.6 L438.7,276.4 L439.2,276.2 L439.7,276.1 L440.2,275.9 L440.7,275.8 L441.2,275.6 L441.7,275.5 L442.2,275.4 L442.7,275.3 L443.2,275.3 L443.7,275.2 L444.2,275.2 L444.7,275.2 L445.2,275.2 L445.7,275.2 L446.2,275.3 L446.7,275.3 L447.2,275.4 L447.7,275.5 L448.2,275.6 L448.7,275.8 L449.2,275.9 L449.7,276.1 L450.2,276.2 L450.7,276.4 L451.2,276.6 L451.7,276.8 L452.2,277 L452.7,277.2 L453.2,277.4 L453.7,277.7 L454.2,277.9 L454.7,278.1 L455.2,278.3 L455.7,278.5 L456.2,278.8 L456.7,279 L457.2,279.2 L457.7,279.4 L458.2,279.6 L458.7,279.8 L459.2,280 L459.7,280.2 L460.2,280.4 L460.7,280.6 L461.2,280.7 L461.7,280.9 L462.2,281.1 L462.7,281.2 L463.2,281.4 L463.7,281.5 L464.2,281.7 L464.7,281.8 L465.2,281.9 L465.7,282 L466.2,282.1 L466.7,282.3 L467.2,282.4 L467.7,282.5 L468.2,282.5 L468.7,282.6 L469.2,282.7 L469.7,282.8 L470.2,282.9 L470.7,282.9 L471.2,283 L471.7,283.1 L472.2,283.1 L472.7,283.2 L473.2,283.2 L473.7,283.3 L474.2,283.3 L474.7,283.4 L475.2,283.4 L475.7,283.4 L476.2,283.5 L476.7,283.5 L477.2,283.5 L477.7,283.6 L478.2,283.6 L478.7,283.6 L479.2,283.7 L479.7,283.7 L480.2,283.7 L480.7,283.7 L481.2,283.7 L481.7,283.8 L482.2,283.8 L482.7,283.8 L483.2,283.8 L483.7,283.8 L484.2,283.9 L484.7,283.9 L485.2,283.9 L485.7,283.9 L486.2,283.9 L486.7,283.9 L487.2,284 L487.7,284 L488.2,284 L488.7,284 L489.2,284 L489.7,284 L490.2,284 L490.7,284 L491.2,284.1 L491.7,284.1 L492.2,284.1 L492.7,284.1 L493.2,284.1 L493.7,284.1 L494.2,284.1 L494.7,284.1 L495.2,284.2 L495.7,284.2 L496.2,284.2 L496.7,284.2 L497.2,284.2 L497.7,284.2 L498.2,284.2 L498.7,284.2 L499.2,284.2 L499.7,284.3 L500.2,284.3 L500.7,284.3 L501.2,284.3 L501.7,284.3 L502.2,284.3 L502.7,284.3 L503.2,284.3 L503.7,284.3 L504.2,284.3 L504.7,284.3 L505.2,284.4 L505.7,284.4 L506.2,284.4 L506.7,284.4 L507.2,284.4 L507.7,284.4 L508.2,284.4 L508.7,284.4 L509.2,284.4 L509.7,284.4 L510.2,284.5 L510.7,284.5 L511.2,284.5 L511.7,284.5 L512.2,284.5 L512.7,284.5 L513.2,284.5 L513.7,284.5 L514.2,284.5 L514.7,284.5 L515.2,284.5 L515.7,284.5 L516.2,284.6 L516.7,284.6 L517.2,284.6 L517.7,284.6 L518.2,284.6 L518.7,284.6 L519.2,284.6 L519.7,284.6 L520.2,284.6 L520.7,284.6 L521.2,284.6 L521.7,284.6 L522.2,284.7 L522.7,284.7 L523.2,284.7 L523.7,284.7 L524.2,284.7 L524.7,284.7 L525.2,284.7 L525.7,284.7 L526.2,284.7 L526.7,284.7 L527.2,284.7 L527.7,284.7 L528.2,284.8 L528.7,284.8 L529.2,284.8 L529.7,284.8 L530.2,284.8 L530.7,284.8 L531.2,284.8 L531.7,284.8 L532.2,284.8 L532.7,284.8 L533.2,284.8 L533.7,284.8 L534.2,284.8 L534.7,284.9 L535.2,284.9 L535.7,284.9 L536.2,284.9 L536.7,284.9 L537.2,284.9 L537.7,284.9 L538.2,284.9 L538.7,284.9 L539.2,284.9 L539.7,284.9 L539.7,285 L539.2,285 L538.7,285 L538.2,285 L537.7,285 L537.2,285 L536.7,285 L536.2,284.9 L535.7,284.9 L535.2,284.9 L534.7,284.9 L534.2,284.9 L533.7,284.9 L533.2,284.9 L532.7,284.9 L532.2,284.9 L531.7,284.9 L531.2,284.9 L530.7,284.9 L530.2,284.9 L529.7,284.9 L529.2,284.8 L528.7,284.8 L528.2,284.8 L527.7,284.8 L527.2,284.8 L526.7,284.8 L526.2,284.8 L525.7,284.8 L525.2,284.8 L524.7,284.8 L524.2,284.8 L523.7,284.8 L523.2,284.8 L522.7,284.8 L522.2,284.8 L521.7,284.7 L521.2,284.7 L520.7,284.7 L520.2,284.7 L519.7,284.7 L519.2,284.7 L518.7,284.7 L518.2,284.7 L517.7,284.7 L517.2,284.7 L516.7,284.7 L516.2,284.7 L515.7,284.7 L515.2,284.7 L514.7,284.6 L514.2,284.6 L513.7,284.6 L513.2,284.6 L512.7,284.6 L512.2,284.6 L511.7,284.6 L511.2,284.6 L510.7,284.6 L510.2,284.6 L509.7,284.6 L509.2,284.6 L508.7,284.6 L508.2,284.6 L507.7,284.6 L507.2,284.5 L506.7,284.5 L506.2,284.5 L505.7,284.5 L505.2,284.5 L504.7,284.5 L504.2,284.5 L503.7,284.5 L503.2,284.5 L502.7,284.5 L502.2,284.5 L501.7,284.5 L501.2,284.5 L500.7,284.5 L500.2,284.4 L499.7,284.4 L499.2,284.4 L498.7,284.4 L498.2,284.4 L497.7,284.4 L497.2,284.4 L496.7,284.4 L496.2,284.4 L495.7,284.4 L495.2,284.4 L494.7,284.4 L494.2,284.4 L493.7,284.4 L493.2,284.3 L492.7,284.3 L492.2,284.3 L491.7,284.3 L491.2,284.3 L490.7,284.3 L490.2,284.3 L489.7,284.3 L489.2,284.3 L488.7,284.3 L488.2,284.3 L487.7,284.3 L487.2,284.3 L486.7,284.3 L486.2,284.3 L485.7,284.2 L485.2,284.2 L484.7,284.2 L484.2,284.2 L483.7,284.2 L483.2,284.2 L482.7,284.2 L482.2,284.2 L481.7,284.2 L481.2,284.2 L480.7,284.2 L480.2,284.2 L479.7,284.2 L479.2,284.2 L478.7,284.1 L478.2,284.1 L477.7,284.1 L477.2,284.1 L476.7,284.1 L476.2,284.1 L475.7,284.1 L475.2,284.1 L474.7,284.1 L474.2,284.1 L473.7,284.1 L473.2,284.1 L472.7,284.1 L472.2,284.1 L471.7,284.1 L471.2,284 L470.7,284 L470.2,284 L469.7,284 L469.2,284 L468.7,284 L468.2,284 L467.7,284 L467.2,284 L466.7,284 L466.2,284 L465.7,284 L465.2,284 L464.7,284 L464.2,283.9 L463.7,283.9 L463.2,283.9 L462.7,283.9 L462.2,283.9 L461.7,283.9 L461.2,283.9 L460.7,283.9 L460.2,283.9 L459.7,283.9 L459.2,283.9 L458.7,283.9 L458.2,283.9 L457.7,283.9 L457.2,283.8 L456.7,283.8 L456.2,283.8 L455.7,283.8 L455.2,283.8 L454.7,283.8 L454.2,283.8 L453.7,283.8 L453.2,283.8 L452.7,283.8 L452.2,283.8 L451.7,283.8 L451.2,283.8 L450.7,283.8 L450.2,283.8 L449.7,283.7 L449.2,283.7 L448.7,283.7 L448.2,283.7 L447.7,283.7 L447.2,283.7 L446.7,283.7 L446.2,283.7 L445.7,283.7 L445.2,283.7 L444.7,283.7 L444.2,283.7 L443.7,283.7 L443.2,283.7 L442.7,283.6 L442.2,283.6 L441.7,283.6 L441.2,283.6 L440.7,283.6 L440.2,283.6 L439.7,283.6 L439.2,283.6 L438.7,283.6 L438.2,283.6 L437.7,283.6 L437.2,283.6 L436.7,283.6 L436.2,283.6 L435.7,283.5 L435.2,283.5 L434.7,283.5 L434.2,283.5 L433.7,283.5 L433.2,283.5 L432.7,283.5 L432.2,283.5 L431.7,283.5 L431.2,283.5 L430.7,283.5 L430.2,283.5 L429.7,283.5 L429.2,283.5 L428.7,283.5 L428.2,283.4 L427.7,283.4 L427.2,283.4 L426.7,283.4 L426.2,283.4 L425.7,283.4 L425.2,283.4 L424.7,283.4 L424.2,283.4 L423.7,283.4 L423.2,283.4 L422.7,283.4 L422.2,283.4 L421.7,283.4 L421.2,283.3 L420.7,283.3 L420.2,283.3 L419.7,283.3 L419.2,283.3 L418.7,283.3 L418.2,283.3 L417.7,283.3 L417.2,283.3 L416.7,283.3 L416.2,283.3 L415.7,283.3 L415.2,283.3 L414.7,283.3 L414.2,283.3 L413.7,283.2 L413.2,283.2 L412.7,283.2 L412.2,283.2 L411.7,283.2 L411.2,283.2 L410.7,283.2 L410.2,283.2 L409.7,283.2 L409.2,283.2 L408.7,283.2 L408.2,283.2 L407.7,283.2 L407.2,283.2 L406.7,283.1 L406.2,283.1 L405.7,283.1 L405.2,283.1 L404.7,283.1 L404.2,283.1 L403.7,283.1 L403.2,283.1 L402.7,283.1 L402.2,283.1 L401.7,283.1 L401.2,283.1 L400.7,283.1 L400.2,283.1 L399.7,283 L399.2,283 L398.7,283 L398.2,283 L397.7,283 L397.2,283 L396.7,283 L396.2,283 L395.7,283 L395.2,283 L394.7,283 L394.2,283 L393.7,283 L393.2,283 L392.7,283 L392.2,282.9 L391.7,282.9 L391.2,282.9 L390.7,282.9 L390.2,282.9 L389.7,282.9 L389.2,282.9 Z" fill="#62c48d" fill-opacity="0.35" stroke="none" clip-path="url(#cf)"/>
<path d="M389.2,282.7 L389.7,282.7 L390.2,282.7 L390.7,282.7 L391.2,282.7 L391.7,282.7 L392.2,282.7 L392.7,282.7 L393.2,282.7 L393.7,282.8 L394.2,282.8 L394.7,282.8 L395.2,282.8 L395.7,282.8 L396.2,282.8 L396.7,282.8 L397.2,282.8 L397.7,282.8 L398.2,282.8 L398.7,282.8 L399.2,282.8 L399.7,282.8 L400.2,282.8 L400.7,282.8 L401.2,282.8 L401.7,282.8 L402.2,282.8 L402.7,282.8 L403.2,282.8 L403.7,282.8 L404.2,282.8 L404.7,282.8 L405.2,282.8 L405.7,282.8 L406.2,282.8 L406.7,282.8 L407.2,282.8 L407.7,282.8 L408.2,282.7 L408.7,282.7 L409.2,282.7 L409.7,282.7 L410.2,282.7 L410.7,282.7 L411.2,282.7 L411.7,282.7 L412.2,282.7 L412.7,282.6 L413.2,282.6 L413.7,282.6 L414.2,282.6 L414.7,282.6 L415.2,282.5 L415.7,282.5 L416.2,282.5 L416.7,282.4 L417.2,282.4 L417.7,282.4 L418.2,282.3 L418.7,282.3 L419.2,282.2 L419.7,282.2 L420.2,282.1 L420.7,282 L421.2,282 L421.7,281.9 L422.2,281.8 L422.7,281.7 L423.2,281.6 L423.7,281.5 L424.2,281.4 L424.7,281.3 L425.2,281.2 L425.7,281.1 L426.2,281 L426.7,280.8 L427.2,280.7 L427.7,280.6 L428.2,280.4 L428.7,280.3 L429.2,280.1 L429.7,279.9 L430.2,279.7 L430.7,279.6 L431.2,279.4 L431.7,279.2 L432.2,279 L432.7,278.8 L433.2,278.6 L433.7,278.4 L434.2,278.2 L434.7,278 L435.2,277.8 L435.7,277.6 L436.2,277.4 L436.7,277.2 L437.2,277 L437.7,276.8 L438.2,276.6 L438.7,276.4 L439.2,276.2 L439.7,276.1 L440.2,275.9 L440.7,275.8 L441.2,275.6 L441.7,275.5 L442.2,275.4 L442.7,275.3 L443.2,275.3 L443.7,275.2 L444.2,275.2 L444.7,275.2 L445.2,275.2 L445.7,275.2 L446.2,275.3 L446.7,275.3 L447.2,275.4 L447.7,275.5 L448.2,275.6 L448.7,275.8 L449.2,275.9 L449.7,276.1 L450.2,276.2 L450.7,276.4 L451.2,276.6 L451.7,276.8 L452.2,277 L452.7,277.2 L453.2,277.4 L453.7,277.7 L454.2,277.9 L454.7,278.1 L455.2,278.3 L455.7,278.5 L456.2,278.8 L456.7,279 L457.2,279.2 L457.7,279.4 L458.2,279.6 L458.7,279.8 L459.2,280 L459.7,280.2 L460.2,280.4 L460.7,280.6 L461.2,280.7 L461.7,280.9 L462.2,281.1 L462.7,281.2 L463.2,281.4 L463.7,281.5 L464.2,281.7 L464.7,281.8 L465.2,281.9 L465.7,282 L466.2,282.1 L466.7,282.3 L467.2,282.4 L467.7,282.5 L468.2,282.5 L468.7,282.6 L469.2,282.7 L469.7,282.8 L470.2,282.9 L470.7,282.9 L471.2,283 L471.7,283.1 L472.2,283.1 L472.7,283.2 L473.2,283.2 L473.7,283.3 L474.2,283.3 L474.7,283.4 L475.2,283.4 L475.7,283.4 L476.2,283.5 L476.7,283.5 L477.2,283.5 L477.7,283.6 L478.2,283.6 L478.7,283.6 L479.2,283.7 L479.7,283.7 L480.2,283.7 L480.7,283.7 L481.2,283.7 L481.7,283.8 L482.2,283.8 L482.7,283.8 L483.2,283.8 L483.7,283.8 L484.2,283.9 L484.7,283.9 L485.2,283.9 L485.7,283.9 L486.2,283.9 L486.7,283.9 L487.2,284 L487.7,284 L488.2,284 L488.7,284 L489.2,284 L489.7,284 L490.2,284 L490.7,284 L491.2,284.1 L491.7,284.1 L492.2,284.1 L492.7,284.1 L493.2,284.1 L493.7,284.1 L494.2,284.1 L494.7,284.1 L495.2,284.2 L495.7,284.2 L496.2,284.2 L496.7,284.2 L497.2,284.2 L497.7,284.2 L498.2,284.2 L498.7,284.2 L499.2,284.2 L499.7,284.3 L500.2,284.3 L500.7,284.3 L501.2,284.3 L501.7,284.3 L502.2,284.3 L502.7,284.3 L503.2,284.3 L503.7,284.3 L504.2,284.3 L504.7,284.3 L505.2,284.4 L505.7,284.4 L506.2,284.4 L506.7,284.4 L507.2,284.4 L507.7,284.4 L508.2,284.4 L508.7,284.4 L509.2,284.4 L509.7,284.4 L510.2,284.5 L510.7,284.5 L511.2,284.5 L511.7,284.5 L512.2,284.5 L512.7,284.5 L513.2,284.5 L513.7,284.5 L514.2,284.5 L514.7,284.5 L515.2,284.5 L515.7,284.5 L516.2,284.6 L516.7,284.6 L517.2,284.6 L517.7,284.6 L518.2,284.6 L518.7,284.6 L519.2,284.6 L519.7,284.6 L520.2,284.6 L520.7,284.6 L521.2,284.6 L521.7,284.6 L522.2,284.7 L522.7,284.7 L523.2,284.7 L523.7,284.7 L524.2,284.7 L524.7,284.7 L525.2,284.7 L525.7,284.7 L526.2,284.7 L526.7,284.7 L527.2,284.7 L527.7,284.7 L528.2,284.8 L528.7,284.8 L529.2,284.8 L529.7,284.8 L530.2,284.8 L530.7,284.8 L531.2,284.8 L531.7,284.8 L532.2,284.8 L532.7,284.8 L533.2,284.8 L533.7,284.8 L534.2,284.8 L534.7,284.9 L535.2,284.9 L535.7,284.9 L536.2,284.9 L536.7,284.9 L537.2,284.9 L537.7,284.9 L538.2,284.9 L538.7,284.9 L539.2,284.9 L539.7,284.9" fill="none" stroke="#2fa35e" stroke-width="1.2" clip-path="url(#cf)"/>
<path d="M389.2,282.9 L389.7,282.9 L390.2,282.9 L390.7,282.9 L391.2,282.9 L391.7,282.9 L392.2,282.9 L392.7,283 L393.2,283 L393.7,283 L394.2,283 L394.7,283 L395.2,283 L395.7,283 L396.2,283 L396.7,283 L397.2,283 L397.7,283 L398.2,283 L398.7,283 L399.2,283 L399.7,283 L400.2,283.1 L400.7,283.1 L401.2,283.1 L401.7,283.1 L402.2,283.1 L402.7,283.1 L403.2,283.1 L403.7,283.1 L404.2,283.1 L404.7,283.1 L405.2,283.1 L405.7,283.1 L406.2,283.1 L406.7,283.1 L407.2,283.2 L407.7,283.2 L408.2,283.2 L408.7,283.2 L409.2,283.2 L409.7,283.2 L410.2,283.2 L410.7,283.2 L411.2,283.2 L411.7,283.2 L412.2,283.2 L412.7,283.2 L413.2,283.2 L413.7,283.2 L414.2,283.3 L414.7,283.3 L415.2,283.3 L415.7,283.3 L416.2,283.3 L416.7,283.3 L417.2,283.3 L417.7,283.3 L418.2,283.3 L418.7,283.3 L419.2,283.3 L419.7,283.3 L420.2,283.3 L420.7,283.3 L421.2,283.3 L421.7,283.4 L422.2,283.4 L422.7,283.4 L423.2,283.4 L423.7,283.4 L424.2,283.4 L424.7,283.4 L425.2,283.4 L425.7,283.4 L426.2,283.4 L426.7,283.4 L427.2,283.4 L427.7,283.4 L428.2,283.4 L428.7,283.5 L429.2,283.5 L429.7,283.5 L430.2,283.5 L430.7,283.5 L431.2,283.5 L431.7,283.5 L432.2,283.5 L432.7,283.5 L433.2,283.5 L433.7,283.5 L434.2,283.5 L434.7,283.5 L435.2,283.5 L435.7,283.5 L436.2,283.6 L436.7,283.6 L437.2,283.6 L437.7,283.6 L438.2,283.6 L438.7,283.6 L439.2,283.6 L439.7,283.6 L440.2,283.6 L440.7,283.6 L441.2,283.6 L441.7,283.6 L442.2,283.6 L442.7,283.6 L443.2,283.7 L443.7,283.7 L444.2,283.7 L444.7,283.7 L445.2,283.7 L445.7,283.7 L446.2,283.7 L446.7,283.7 L447.2,283.7 L447.7,283.7 L448.2,283.7 L448.7,283.7 L449.2,283.7 L449.7,283.7 L450.2,283.8 L450.7,283.8 L451.2,283.8 L451.7,283.8 L452.2,283.8 L452.7,283.8 L453.2,283.8 L453.7,283.8 L454.2,283.8 L454.7,283.8 L455.2,283.8 L455.7,283.8 L456.2,283.8 L456.7,283.8 L457.2,283.8 L457.7,283.9 L458.2,283.9 L458.7,283.9 L459.2,283.9 L459.7,283.9 L460.2,283.9 L460.7,283.9 L461.2,283.9 L461.7,283.9 L462.2,283.9 L462.7,283.9 L463.2,283.9 L463.7,283.9 L464.2,283.9 L464.7,284 L465.2,284 L465.7,284 L466.2,284 L466.7,284 L467.2,284 L467.7,284 L468.2,284 L468.7,284 L469.2,284 L469.7,284 L470.2,284 L470.7,284 L471.2,284 L471.7,284.1 L472.2,284.1 L472.7,284.1 L473.2,284.1 L473.7,284.1 L474.2,284.1 L474.7,284.1 L475.2,284.1 L475.7,284.1 L476.2,284.1 L476.7,284.1 L477.2,284.1 L477.7,284.1 L478.2,284.1 L478.7,284.1 L479.2,284.2 L479.7,284.2 L480.2,284.2 L480.7,284.2 L481.2,284.2 L481.7,284.2 L482.2,284.2 L482.7,284.2 L483.2,284.2 L483.7,284.2 L484.2,284.2 L484.7,284.2 L485.2,284.2 L485.7,284.2 L486.2,284.3 L486.7,284.3 L487.2,284.3 L487.7,284.3 L488.2,284.3 L488.7,284.3 L489.2,284.3 L489.7,284.3 L490.2,284.3 L490.7,284.3 L491.2,284.3 L491.7,284.3 L492.2,284.3 L492.7,284.3 L493.2,284.3 L493.7,284.4 L494.2,284.4 L494.7,284.4 L495.2,284.4 L495.7,284.4 L496.2,284.4 L496.7,284.4 L497.2,284.4 L497.7,284.4 L498.2,284.4 L498.7,284.4 L499.2,284.4 L499.7,284.4 L500.2,284.4 L500.7,284.5 L501.2,284.5 L501.7,284.5 L502.2,284.5 L502.7,284.5 L503.2,284.5 L503.7,284.5 L504.2,284.5 L504.7,284.5 L505.2,284.5 L505.7,284.5 L506.2,284.5 L506.7,284.5 L507.2,284.5 L507.7,284.6 L508.2,284.6 L508.7,284.6 L509.2,284.6 L509.7,284.6 L510.2,284.6 L510.7,284.6 L511.2,284.6 L511.7,284.6 L512.2,284.6 L512.7,284.6 L513.2,284.6 L513.7,284.6 L514.2,284.6 L514.7,284.6 L515.2,284.7 L515.7,284.7 L516.2,284.7 L516.7,284.7 L517.2,284.7 L517.7,284.7 L518.2,284.7 L518.7,284.7 L519.2,284.7 L519.7,284.7 L520.2,284.7 L520.7,284.7 L521.2,284.7 L521.7,284.7 L522.2,284.8 L522.7,284.8 L523.2,284.8 L523.7,284.8 L524.2,284.8 L524.7,284.8 L525.2,284.8 L525.7,284.8 L526.2,284.8 L526.7,284.8 L527.2,284.8 L527.7,284.8 L528.2,284.8 L528.7,284.8 L529.2,284.8 L529.7,284.9 L530.2,284.9 L530.7,284.9 L531.2,284.9 L531.7,284.9 L532.2,284.9 L532.7,284.9 L533.2,284.9 L533.7,284.9 L534.2,284.9 L534.7,284.9 L535.2,284.9 L535.7,284.9 L536.2,284.9 L536.7,285 L537.2,285 L537.7,285 L538.2,285 L538.7,285 L539.2,285 L539.7,285" fill="none" stroke="#a678e8" stroke-width="1.7" clip-path="url(#cf)"/>
<path d="M389.2,282.9 L389.7,282.9 L390.2,282.9 L390.7,282.9 L391.2,282.9 L391.7,282.9 L392.2,282.9 L392.7,282.9 L393.2,283 L393.7,283 L394.2,283 L394.7,283 L395.2,283 L395.7,283 L396.2,283 L396.7,283 L397.2,283 L397.7,283 L398.2,283 L398.7,283 L399.2,283 L399.7,283 L400.2,283 L400.7,283 L401.2,283 L401.7,283 L402.2,283 L402.7,283 L403.2,283 L403.7,283 L404.2,283 L404.7,283 L405.2,283 L405.7,283 L406.2,283 L406.7,283 L407.2,283 L407.7,283 L408.2,283 L408.7,283 L409.2,283 L409.7,282.9 L410.2,282.9 L410.7,282.9 L411.2,282.9 L411.7,282.9 L412.2,282.8 L412.7,282.8 L413.2,282.7 L413.7,282.7 L414.2,282.7 L414.7,282.6 L415.2,282.6 L415.7,282.5 L416.2,282.4 L416.7,282.4 L417.2,282.3 L417.7,282.2 L418.2,282.1 L418.7,282 L419.2,282 L419.7,281.9 L420.2,281.7 L420.7,281.6 L421.2,281.5 L421.7,281.4 L422.2,281.2 L422.7,281.1 L423.2,280.9 L423.7,280.8 L424.2,280.6 L424.7,280.4 L425.2,280.3 L425.7,280.1 L426.2,279.9 L426.7,279.7 L427.2,279.4 L427.7,279.2 L428.2,279 L428.7,278.7 L429.2,278.5 L429.7,278.2 L430.2,277.9 L430.7,277.6 L431.2,277.3 L431.7,277 L432.2,276.7 L432.7,276.4 L433.2,276 L433.7,275.7 L434.2,275.3 L434.7,274.9 L435.2,274.5 L435.7,274.1 L436.2,273.7 L436.7,273.2 L437.2,272.7 L437.7,272.3 L438.2,271.7 L438.7,271.2 L439.2,270.7 L439.7,270.1 L440.2,269.5 L440.7,268.9 L441.2,268.3 L441.7,267.6 L442.2,266.9 L442.7,266.2 L443.2,265.5 L443.7,264.7 L444.2,264 L444.7,263.2 L445.2,262.3 L445.7,261.5 L446.2,260.6 L446.7,259.7 L447.2,258.7 L447.7,257.8 L448.2,256.8 L448.7,255.8 L449.2,254.8 L449.7,253.7 L450.2,252.6 L450.7,251.6 L451.2,250.5 L451.7,249.3 L452.2,248.2 L452.7,247.1 L453.2,245.9 L453.7,244.8 L454.2,243.6 L454.7,242.4 L455.2,241.2 L455.7,240 L456.2,238.9 L456.7,237.7 L457.2,236.5 L457.7,235.3 L458.2,234.1 L458.7,232.9 L459.2,231.7 L459.7,230.5 L460.2,229.4 L460.7,228.2 L461.2,227 L461.7,225.9 L462.2,224.7 L462.7,223.6 L463.2,222.4 L463.7,221.3 L464.2,220.1 L464.7,219 L465.2,217.9 L465.7,216.8 L466.2,215.7 L466.7,214.6 L467.2,213.5 L467.7,212.4 L468.2,211.4 L468.7,210.3 L469.2,209.3 L469.7,208.3 L470.2,207.3 L470.7,206.3 L471.2,205.4 L471.7,204.5 L472.2,203.6 L472.7,202.8 L473.2,202 L473.7,201.2 L474.2,200.5 L474.7,199.8 L475.2,199.2 L475.7,198.7 L476.2,198.2 L476.7,197.8 L477.2,197.4 L477.7,197.2 L478.2,197 L478.7,196.9 L479.2,196.8 L479.7,196.9 L480.2,197.1 L480.7,197.3 L481.2,197.6 L481.7,198.1 L482.2,198.6 L482.7,199.2 L483.2,200 L483.7,200.8 L484.2,201.7 L484.7,202.7 L485.2,203.8 L485.7,204.9 L486.2,206.2 L486.7,207.5 L487.2,209 L487.7,210.5 L488.2,212 L488.7,213.6 L489.2,215.3 L489.7,217.1 L490.2,218.8 L490.7,220.7 L491.2,222.5 L491.7,224.4 L492.2,226.3 L492.7,228.3 L493.2,230.2 L493.7,232.2 L494.2,234.2 L494.7,236.1 L495.2,238.1 L495.7,240 L496.2,241.9 L496.7,243.8 L497.2,245.7 L497.7,247.5 L498.2,249.4 L498.7,251.1 L499.2,252.8 L499.7,254.5 L500.2,256.2 L500.7,257.7 L501.2,259.3 L501.7,260.8 L502.2,262.2 L502.7,263.6 L503.2,264.9 L503.7,266.2 L504.2,267.4 L504.7,268.5 L505.2,269.6 L505.7,270.7 L506.2,271.7 L506.7,272.6 L507.2,273.5 L507.7,274.3 L508.2,275.1 L508.7,275.9 L509.2,276.6 L509.7,277.2 L510.2,277.8 L510.7,278.4 L511.2,278.9 L511.7,279.4 L512.2,279.9 L512.7,280.3 L513.2,280.7 L513.7,281.1 L514.2,281.4 L514.7,281.7 L515.2,282 L515.7,282.3 L516.2,282.5 L516.7,282.8 L517.2,283 L517.7,283.1 L518.2,283.3 L518.7,283.5 L519.2,283.6 L519.7,283.7 L520.2,283.8 L520.7,284 L521.2,284 L521.7,284.1 L522.2,284.2 L522.7,284.3 L523.2,284.3 L523.7,284.4 L524.2,284.5 L524.7,284.5 L525.2,284.5 L525.7,284.6 L526.2,284.6 L526.7,284.6 L527.2,284.7 L527.7,284.7 L528.2,284.7 L528.7,284.7 L529.2,284.8 L529.7,284.8 L530.2,284.8 L530.7,284.8 L531.2,284.8 L531.7,284.8 L532.2,284.9 L532.7,284.9 L533.2,284.9 L533.7,284.9 L534.2,284.9 L534.7,284.9 L535.2,284.9 L535.7,284.9 L536.2,284.9 L536.7,284.9 L537.2,285 L537.7,285 L538.2,285 L538.7,285 L539.2,285 L539.7,285" fill="none" stroke="#465068" stroke-width="1.2" clip-path="url(#cf)"/>
<path d="M389.2,282.9 L389.7,282.9 L390.2,282.9 L390.7,282.9 L391.2,282.9 L391.7,282.9 L392.2,282.9 L392.7,282.9 L393.2,283 L393.7,283 L394.2,283 L394.7,283 L395.2,283 L395.7,283 L396.2,283 L396.7,283 L397.2,283 L397.7,283 L398.2,283 L398.7,283 L399.2,283 L399.7,283 L400.2,283 L400.7,283 L401.2,283 L401.7,283 L402.2,283 L402.7,283 L403.2,283 L403.7,283 L404.2,283 L404.7,283 L405.2,283 L405.7,283 L406.2,283 L406.7,283 L407.2,283 L407.7,283 L408.2,283 L408.7,283 L409.2,283 L409.7,282.9 L410.2,282.9 L410.7,282.9 L411.2,282.9 L411.7,282.9 L412.2,282.8 L412.7,282.8 L413.2,282.7 L413.7,282.7 L414.2,282.7 L414.7,282.6 L415.2,282.6 L415.7,282.5 L416.2,282.4 L416.7,282.4 L417.2,282.3 L417.7,282.2 L418.2,282.1 L418.7,282 L419.2,282 L419.7,281.9 L420.2,281.7 L420.7,281.6 L421.2,281.5 L421.7,281.4 L422.2,281.2 L422.7,281.1 L423.2,280.9 L423.7,280.8 L424.2,280.6 L424.7,280.4 L425.2,280.3 L425.7,280.1 L426.2,279.9 L426.7,279.7 L427.2,279.4 L427.7,279.2 L428.2,279 L428.7,278.7 L429.2,278.5 L429.7,278.2 L430.2,277.9 L430.7,277.6 L431.2,277.3 L431.7,277 L432.2,276.7 L432.7,276.4 L433.2,276 L433.7,275.7 L434.2,275.3 L434.7,274.9 L435.2,274.5 L435.7,274.1 L436.2,273.7 L436.7,273.2 L437.2,272.7 L437.7,272.3 L438.2,271.7 L438.7,271.2 L439.2,270.7 L439.7,270.1 L440.2,269.5 L440.7,268.9 L441.2,268.3 L441.7,267.6 L442.2,266.9 L442.7,266.2 L443.2,265.5 L443.7,264.7 L444.2,264 L444.7,263.2 L445.2,262.3 L445.7,261.5 L446.2,260.6 L446.7,259.7 L447.2,258.7 L447.7,257.8 L448.2,256.8 L448.7,255.8 L449.2,254.8 L449.7,253.7 L450.2,252.6 L450.7,251.6 L451.2,250.5 L451.7,249.3 L452.2,248.2 L452.7,247.1 L453.2,245.9 L453.7,244.8 L454.2,243.6 L454.7,242.4 L455.2,241.2 L455.7,240 L456.2,238.9 L456.7,237.7 L457.2,236.5 L457.7,235.3 L458.2,234.1 L458.7,232.9 L459.2,231.7 L459.7,230.5 L460.2,229.4 L460.7,228.2 L461.2,227 L461.7,225.9 L462.2,224.7 L462.7,223.6 L463.2,222.4 L463.7,221.3 L464.2,220.1 L464.7,219 L465.2,217.9 L465.7,216.8 L466.2,215.7 L466.7,214.6 L467.2,213.5 L467.7,212.4 L468.2,211.4 L468.7,210.3 L469.2,209.3 L469.7,208.3 L470.2,207.3 L470.7,206.3 L471.2,205.4 L471.7,204.5 L472.2,203.6 L472.7,202.8 L473.2,202 L473.7,201.2 L474.2,200.5 L474.7,199.8 L475.2,199.2 L475.7,198.7 L476.2,198.2 L476.7,197.8 L477.2,197.4 L477.7,197.2 L478.2,197 L478.7,196.9 L479.2,196.8 L479.7,196.9 L480.2,197.1 L480.7,197.3 L481.2,197.6 L481.7,198.1 L482.2,198.6 L482.7,199.2 L483.2,200 L483.7,200.8 L484.2,201.7 L484.7,202.7 L485.2,203.8 L485.7,204.9 L486.2,206.2 L486.7,207.5 L487.2,209 L487.7,210.5 L488.2,212 L488.7,213.6 L489.2,215.3 L489.7,217.1 L490.2,218.8 L490.7,220.7 L491.2,222.5 L491.7,224.4 L492.2,226.3 L492.7,228.3 L493.2,230.2 L493.7,232.2 L494.2,234.2 L494.7,236.1 L495.2,238.1 L495.7,240 L496.2,241.9 L496.7,243.8 L497.2,245.7 L497.7,247.5 L498.2,249.4 L498.7,251.1 L499.2,252.8 L499.7,254.5 L500.2,256.2 L500.7,257.7 L501.2,259.3 L501.7,260.8 L502.2,262.2 L502.7,263.6 L503.2,264.9 L503.7,266.2 L504.2,267.4 L504.7,268.5 L505.2,269.6 L505.7,270.7 L506.2,271.7 L506.7,272.6 L507.2,273.5 L507.7,274.3 L508.2,275.1 L508.7,275.9 L509.2,276.6 L509.7,277.2 L510.2,277.8 L510.7,278.4 L511.2,278.9 L511.7,279.4 L512.2,279.9 L512.7,280.3 L513.2,280.7 L513.7,281.1 L514.2,281.4 L514.7,281.7 L515.2,282 L515.7,282.3 L516.2,282.5 L516.7,282.8 L517.2,283 L517.7,283.1 L518.2,283.3 L518.7,283.5 L519.2,283.6 L519.7,283.7 L520.2,283.8 L520.7,284 L521.2,284 L521.7,284.1 L522.2,284.2 L522.7,284.3 L523.2,284.3 L523.7,284.4 L524.2,284.5 L524.7,284.5 L525.2,284.5 L525.7,284.6 L526.2,284.6 L526.7,284.6 L527.2,284.7 L527.7,284.7 L528.2,284.7 L528.7,284.7 L529.2,284.8 L529.7,284.8 L530.2,284.8 L530.7,284.8 L531.2,284.8 L531.7,284.8 L532.2,284.9 L532.7,284.9 L533.2,284.9 L533.7,284.9 L534.2,284.9 L534.7,284.9 L535.2,284.9 L535.7,284.9 L536.2,284.9 L536.7,284.9 L537.2,285 L537.7,285 L538.2,285 L538.7,285 L539.2,285 L539.7,285" fill="none" stroke="#f2841e" stroke-width="1.2" stroke-dasharray="3.2 2.3" clip-path="url(#cf)"/>
<rect x="25.7" y="6.9" width="152.2" height="122.3" fill="none" stroke="#4a4a4a" stroke-width="1.5"/>
<rect x="206.6" y="6.9" width="151.5" height="121.9" fill="none" stroke="#4a4a4a" stroke-width="1.5"/>
<rect x="388.4" y="7.1" width="151.5" height="121.7" fill="none" stroke="#4a4a4a" stroke-width="1.5"/>
<rect x="25.8" y="169.8" width="152.1" height="122.6" fill="none" stroke="#4a4a4a" stroke-width="1.5"/>
<rect x="207.5" y="169.7" width="152.2" height="122.7" fill="none" stroke="#4a4a4a" stroke-width="1.5"/>
<rect x="388.5" y="169.9" width="152.3" height="122.4" fill="none" stroke="#4a4a4a" stroke-width="1.5"/>
<text transform="translate(15.3,65.6) rotate(-90)" font-size="10" fill="#111" stroke="#111" text-anchor="middle">Counts/s</text>
<text transform="translate(197.1,65.4) rotate(-90)" font-size="10" fill="#111" stroke="#111" text-anchor="middle">Counts/s</text>
<text transform="translate(378,65.8) rotate(-90)" font-size="10" fill="#111" stroke="#111" text-anchor="middle">Counts/s</text>
<text transform="translate(15.8,226.8) rotate(-90)" font-size="10" fill="#111" stroke="#111" text-anchor="middle">Counts/s</text>
<text transform="translate(197.9,226.8) rotate(-90)" font-size="10" fill="#111" stroke="#111" text-anchor="middle">Counts/s</text>
<text transform="translate(378.9,226.7) rotate(-90)" font-size="10" fill="#111" stroke="#111" text-anchor="middle">Counts/s</text>
<text x="4.8" y="19.8" font-size="12" fill="#111" stroke="#111" text-anchor="start">(a)</text>
<text x="186.2" y="19.8" font-size="12" fill="#111" stroke="#111" text-anchor="start">(b)</text>
<text x="368.2" y="19.8" font-size="12" fill="#111" stroke="#111" text-anchor="start">(c)</text>
<text x="4.8" y="183.8" font-size="12" fill="#111" stroke="#111" text-anchor="start">(d)</text>
<text x="187.1" y="183.8" font-size="12" fill="#111" stroke="#111" text-anchor="start">(e)</text>
<text x="369.1" y="183.8" font-size="12" fill="#111" stroke="#111" text-anchor="start">(f)</text>
<text x="171.8" y="20.1" font-size="9.8" fill="#111" stroke="#111" text-anchor="end">Na 1s</text>
<text x="351" y="20.1" font-size="9.8" fill="#111" stroke="#111" text-anchor="end">Si 2p</text>
<text x="532.4" y="20.1" font-size="9.8" fill="#111" stroke="#111" text-anchor="end">Al 2p</text>
<text x="126" y="181.5" font-size="9.95" fill="#111" stroke="#111" text-anchor="start">MOR-O 1s</text>
<text x="281.7" y="181.5" font-size="9.95" fill="#f01010" stroke="#f01010" text-anchor="start">DSi1.0MOR-O 1s</text>
<text x="462.4" y="181.5" font-size="9.95" fill="#1c6fc8" stroke="#1c6fc8" text-anchor="start">DSi2.0MOR-O 1s</text>
</svg></body></html>
